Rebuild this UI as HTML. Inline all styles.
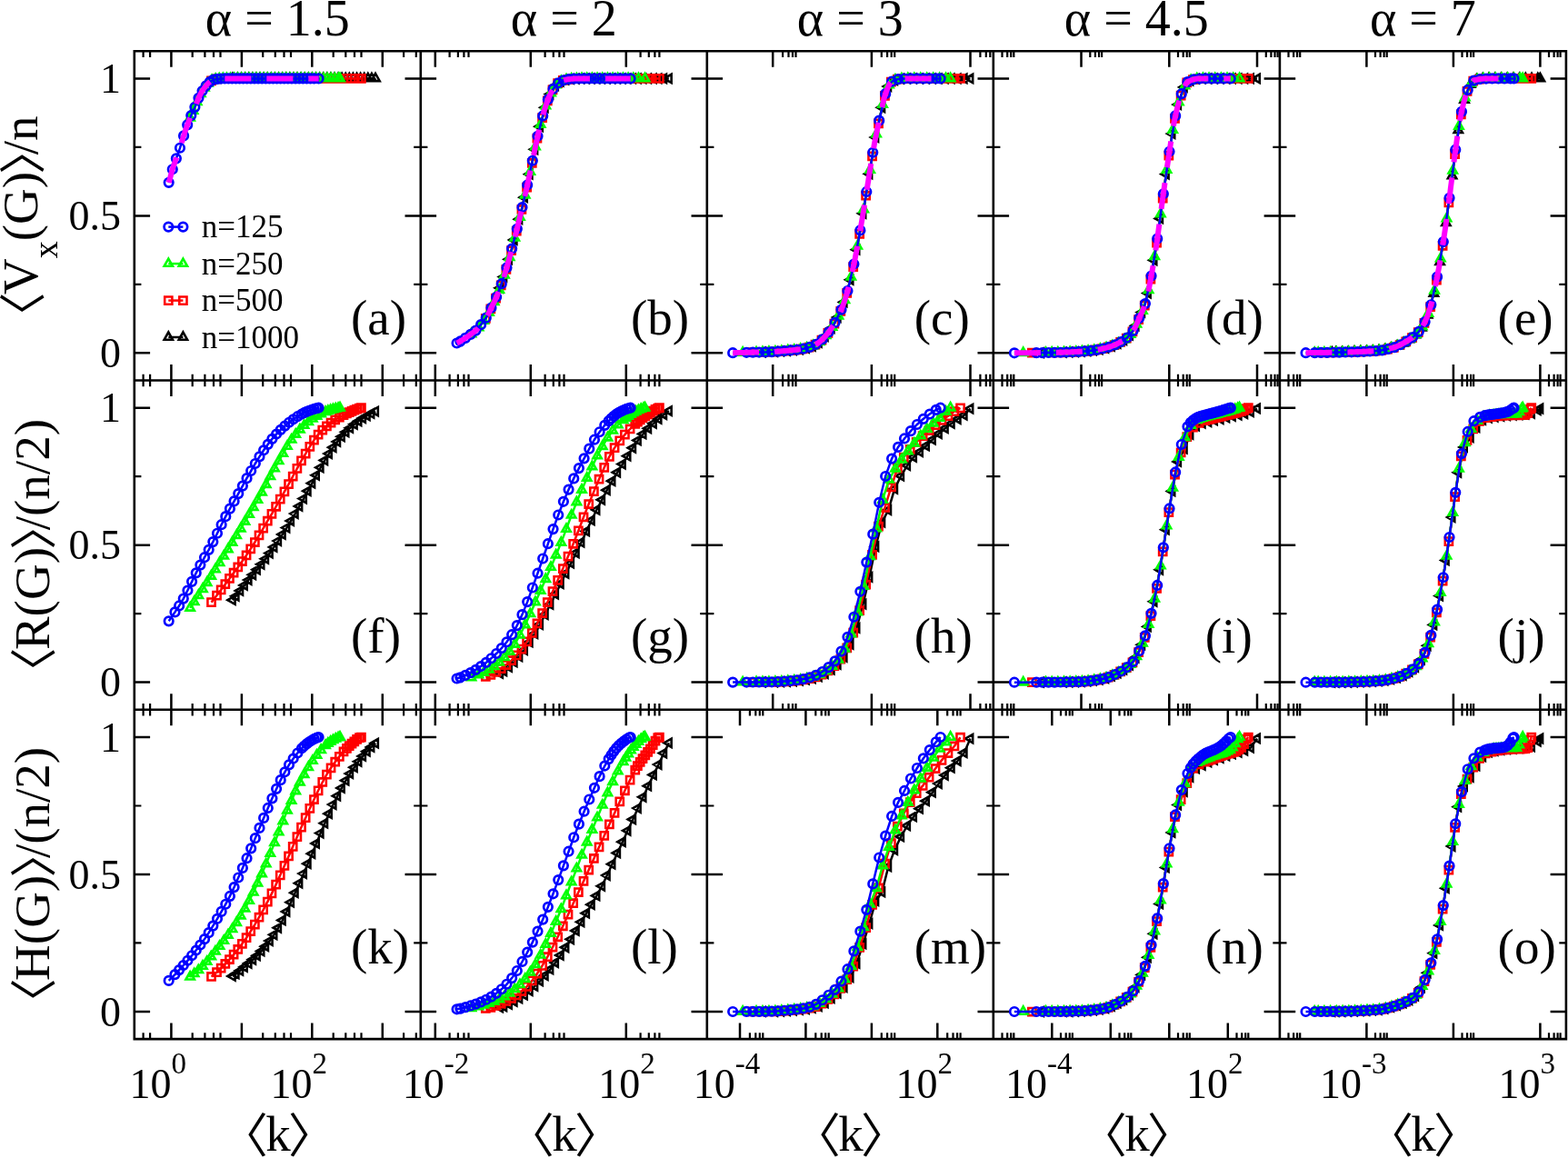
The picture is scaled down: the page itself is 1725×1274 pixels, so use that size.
<!DOCTYPE html><html><head><meta charset="utf-8"><style>html,body{margin:0;padding:0;background:#fff;overflow:hidden;}svg{display:block;}</style></head><body><svg width="1725" height="1274" viewBox="0 0 1725 1274">
<defs>
<clipPath id="cp0"><rect x="147.8" y="56.2" width="315.0" height="362.3"/></clipPath>
<clipPath id="cp1"><rect x="462.8" y="56.2" width="315.0" height="362.3"/></clipPath>
<clipPath id="cp2"><rect x="777.8" y="56.2" width="315.0" height="362.3"/></clipPath>
<clipPath id="cp3"><rect x="1092.8" y="56.2" width="315.1" height="362.3"/></clipPath>
<clipPath id="cp4"><rect x="1407.9" y="56.2" width="315.0" height="362.3"/></clipPath>
<clipPath id="cp5"><rect x="147.8" y="418.5" width="315.0" height="362.3"/></clipPath>
<clipPath id="cp6"><rect x="462.8" y="418.5" width="315.0" height="362.3"/></clipPath>
<clipPath id="cp7"><rect x="777.8" y="418.5" width="315.0" height="362.3"/></clipPath>
<clipPath id="cp8"><rect x="1092.8" y="418.5" width="315.1" height="362.3"/></clipPath>
<clipPath id="cp9"><rect x="1407.9" y="418.5" width="315.0" height="362.3"/></clipPath>
<clipPath id="cp10"><rect x="147.8" y="780.8" width="315.0" height="362.3"/></clipPath>
<clipPath id="cp11"><rect x="462.8" y="780.8" width="315.0" height="362.3"/></clipPath>
<clipPath id="cp12"><rect x="777.8" y="780.8" width="315.0" height="362.3"/></clipPath>
<clipPath id="cp13"><rect x="1092.8" y="780.8" width="315.1" height="362.3"/></clipPath>
<clipPath id="cp14"><rect x="1407.9" y="780.8" width="315.0" height="362.3"/></clipPath>
</defs>
<rect width="1725" height="1274" fill="#fff"/>
<g clip-path="url(#cp0)">
<path d="M255.9,86.4L261.3,86.4L265.4,86.4L269.5,86.4L273.6,86.4L277.7,86.4L281.8,86.4L285.9,86.4L290.0,86.4L294.1,86.4L298.2,86.4L302.3,86.4L306.4,86.4L310.5,86.4L314.6,86.4L318.7,86.4L322.8,86.4L326.9,86.4L331.0,86.4L335.1,86.4L339.2,86.4L343.3,86.4L347.4,86.4L351.5,86.4L355.6,86.4L359.7,86.4L363.8,86.4L367.9,86.4L372.0,86.4L376.1,86.4L380.2,86.4L384.3,86.4L388.4,86.4L392.5,86.4L396.6,86.4L400.7,86.4L404.8,86.4L408.9,86.4L413.0,86.4" fill="none" stroke="#000000" stroke-width="2.5"/>
<path fill="none" stroke="#000000" stroke-width="2.6" d="M255.88,80.90L251.23,89.10L260.53,89.10ZM261.32,80.90L256.67,89.10L265.97,89.10ZM265.42,80.90L260.77,89.10L270.07,89.10ZM269.52,80.90L264.87,89.10L274.17,89.10ZM273.62,80.90L268.97,89.10L278.27,89.10ZM277.72,80.90L273.07,89.10L282.37,89.10ZM281.82,80.90L277.17,89.10L286.47,89.10ZM285.92,80.90L281.27,89.10L290.57,89.10ZM290.02,80.90L285.37,89.10L294.67,89.10ZM294.12,80.90L289.47,89.10L298.77,89.10ZM298.22,80.90L293.57,89.10L302.87,89.10ZM302.32,80.90L297.67,89.10L306.97,89.10ZM306.42,80.90L301.77,89.10L311.07,89.10ZM310.52,80.90L305.87,89.10L315.17,89.10ZM314.62,80.90L309.97,89.10L319.27,89.10ZM318.72,80.90L314.07,89.10L323.37,89.10ZM322.82,80.90L318.17,89.10L327.47,89.10ZM326.92,80.90L322.27,89.10L331.57,89.10ZM331.02,80.90L326.37,89.10L335.67,89.10ZM335.12,80.90L330.47,89.10L339.77,89.10ZM339.22,80.90L334.57,89.10L343.87,89.10ZM343.32,80.90L338.67,89.10L347.97,89.10ZM347.42,80.90L342.77,89.10L352.07,89.10ZM351.52,80.90L346.87,89.10L356.17,89.10ZM355.62,80.90L350.97,89.10L360.27,89.10ZM359.72,80.90L355.07,89.10L364.37,89.10ZM363.82,80.90L359.17,89.10L368.47,89.10ZM367.92,80.90L363.27,89.10L372.57,89.10ZM372.02,80.90L367.37,89.10L376.67,89.10ZM376.12,80.90L371.47,89.10L380.77,89.10ZM380.22,80.90L375.57,89.10L384.87,89.10ZM384.32,80.90L379.67,89.10L388.97,89.10ZM388.42,80.90L383.77,89.10L393.07,89.10ZM392.52,80.90L387.87,89.10L397.17,89.10ZM396.62,80.90L391.97,89.10L401.27,89.10ZM400.72,80.90L396.07,89.10L405.37,89.10ZM404.82,80.90L400.17,89.10L409.47,89.10ZM408.92,80.90L404.27,89.10L413.57,89.10ZM413.02,80.90L408.37,89.10L417.67,89.10Z"/>
<path d="M232.5,88.8L238.6,86.9L242.7,86.6L246.8,86.4L250.9,86.4L255.0,86.4L259.1,86.4L263.2,86.4L267.3,86.4L271.4,86.4L275.5,86.4L279.6,86.4L283.7,86.4L287.8,86.4L291.9,86.4L296.0,86.4L300.1,86.4L304.2,86.4L308.3,86.4L312.4,86.4L316.5,86.4L320.6,86.4L324.7,86.4L328.8,86.4L332.9,86.4L337.0,86.4L341.1,86.4L345.2,86.4L349.3,86.4L353.4,86.4L357.5,86.4L361.6,86.4L365.7,86.4L369.8,86.4L373.9,86.4L378.0,86.4L382.1,86.4L386.2,86.4L390.3,86.4L394.4,86.4L397.4,86.4" fill="none" stroke="#ff0000" stroke-width="2.5"/>
<path fill="none" stroke="#ff0000" stroke-width="2.55" d="M228.42,84.69h8.2v8.2h-8.2ZM234.47,82.81h8.2v8.2h-8.2ZM238.57,82.47h8.2v8.2h-8.2ZM242.67,82.34h8.2v8.2h-8.2ZM246.77,82.30h8.2v8.2h-8.2ZM250.87,82.30h8.2v8.2h-8.2ZM254.97,82.30h8.2v8.2h-8.2ZM259.07,82.30h8.2v8.2h-8.2ZM263.17,82.30h8.2v8.2h-8.2ZM267.27,82.30h8.2v8.2h-8.2ZM271.37,82.30h8.2v8.2h-8.2ZM275.47,82.30h8.2v8.2h-8.2ZM279.57,82.30h8.2v8.2h-8.2ZM283.67,82.30h8.2v8.2h-8.2ZM287.77,82.30h8.2v8.2h-8.2ZM291.87,82.30h8.2v8.2h-8.2ZM295.97,82.30h8.2v8.2h-8.2ZM300.07,82.30h8.2v8.2h-8.2ZM304.17,82.30h8.2v8.2h-8.2ZM308.27,82.30h8.2v8.2h-8.2ZM312.37,82.30h8.2v8.2h-8.2ZM316.47,82.30h8.2v8.2h-8.2ZM320.57,82.30h8.2v8.2h-8.2ZM324.67,82.30h8.2v8.2h-8.2ZM328.77,82.30h8.2v8.2h-8.2ZM332.87,82.30h8.2v8.2h-8.2ZM336.97,82.30h8.2v8.2h-8.2ZM341.07,82.30h8.2v8.2h-8.2ZM345.17,82.30h8.2v8.2h-8.2ZM349.27,82.30h8.2v8.2h-8.2ZM353.37,82.30h8.2v8.2h-8.2ZM357.47,82.30h8.2v8.2h-8.2ZM361.57,82.30h8.2v8.2h-8.2ZM365.67,82.30h8.2v8.2h-8.2ZM369.77,82.30h8.2v8.2h-8.2ZM373.87,82.30h8.2v8.2h-8.2ZM377.97,82.30h8.2v8.2h-8.2ZM382.07,82.30h8.2v8.2h-8.2ZM386.17,82.30h8.2v8.2h-8.2ZM390.27,82.30h8.2v8.2h-8.2ZM393.32,82.30h8.2v8.2h-8.2Z"/>
<path d="M209.1,129.8L212.5,122.0L216.6,112.3L220.7,103.1L224.8,96.8L228.9,91.8L233.0,88.4L237.1,87.1L241.2,86.6L245.3,86.5L249.4,86.4L253.5,86.4L257.6,86.4L261.7,86.4L265.8,86.4L269.9,86.4L274.0,86.4L278.1,86.4L282.2,86.4L286.3,86.4L290.4,86.4L294.5,86.4L298.6,86.4L302.7,86.4L306.8,86.4L310.9,86.4L315.0,86.4L319.1,86.4L323.2,86.4L327.3,86.4L331.4,86.4L335.5,86.4L339.6,86.4L343.7,86.4L347.8,86.4L351.9,86.4L356.0,86.4L360.1,86.4L364.2,86.4L368.3,86.4L372.4,86.4L374.0,86.4" fill="none" stroke="#00ff00" stroke-width="2.5"/>
<path fill="none" stroke="#00ff00" stroke-width="2.6" d="M209.13,124.31L204.48,132.51L213.78,132.51ZM212.53,116.47L207.88,124.67L217.18,124.67ZM216.63,106.85L211.98,115.05L221.28,115.05ZM220.73,97.64L216.08,105.84L225.38,105.84ZM224.83,91.27L220.18,99.47L229.48,99.47ZM228.93,86.30L224.28,94.50L233.58,94.50ZM233.03,82.95L228.38,91.15L237.68,91.15ZM237.13,81.63L232.48,89.83L241.78,89.83ZM241.23,81.14L236.58,89.34L245.88,89.34ZM245.33,80.98L240.68,89.18L249.98,89.18ZM249.43,80.90L244.78,89.10L254.08,89.10ZM253.53,80.90L248.88,89.10L258.18,89.10ZM257.63,80.90L252.98,89.10L262.28,89.10ZM261.73,80.90L257.08,89.10L266.38,89.10ZM265.83,80.90L261.18,89.10L270.48,89.10ZM269.93,80.90L265.28,89.10L274.58,89.10ZM274.03,80.90L269.38,89.10L278.68,89.10ZM278.13,80.90L273.48,89.10L282.78,89.10ZM282.23,80.90L277.58,89.10L286.88,89.10ZM286.33,80.90L281.68,89.10L290.98,89.10ZM290.43,80.90L285.78,89.10L295.08,89.10ZM294.53,80.90L289.88,89.10L299.18,89.10ZM298.63,80.90L293.98,89.10L303.28,89.10ZM302.73,80.90L298.08,89.10L307.38,89.10ZM306.83,80.90L302.18,89.10L311.48,89.10ZM310.93,80.90L306.28,89.10L315.58,89.10ZM315.03,80.90L310.38,89.10L319.68,89.10ZM319.13,80.90L314.48,89.10L323.78,89.10ZM323.23,80.90L318.58,89.10L327.88,89.10ZM327.33,80.90L322.68,89.10L331.98,89.10ZM331.43,80.90L326.78,89.10L336.08,89.10ZM335.53,80.90L330.88,89.10L340.18,89.10ZM339.63,80.90L334.98,89.10L344.28,89.10ZM343.73,80.90L339.08,89.10L348.38,89.10ZM347.83,80.90L343.18,89.10L352.48,89.10ZM351.93,80.90L347.28,89.10L356.58,89.10ZM356.03,80.90L351.38,89.10L360.68,89.10ZM360.13,80.90L355.48,89.10L364.78,89.10ZM364.23,80.90L359.58,89.10L368.88,89.10ZM368.33,80.90L363.68,89.10L372.98,89.10ZM372.43,80.90L367.78,89.10L377.08,89.10ZM374.03,80.90L369.38,89.10L378.68,89.10Z"/>
<path d="M185.7,200.9L189.8,186.3L193.9,174.4L198.0,162.8L202.1,149.4L206.2,137.3L210.3,127.1L214.4,117.9L218.5,107.8L222.6,100.0L226.7,94.4L230.8,90.2L234.9,87.6L239.0,86.9L243.1,86.6L247.2,86.4L251.3,86.4L255.4,86.4L259.5,86.4L263.6,86.4L267.7,86.4L271.8,86.4L275.9,86.4L280.0,86.4L284.1,86.4L288.2,86.4L292.3,86.4L296.4,86.4L300.5,86.4L304.6,86.4L308.7,86.4L312.8,86.4L316.9,86.4L321.0,86.4L325.1,86.4L329.2,86.4L333.3,86.4L337.4,86.4L341.5,86.4L345.6,86.4L350.6,86.4" fill="none" stroke="#0000ff" stroke-width="2.5"/>
<g fill="none" stroke="#0000ff" stroke-width="2.7">
<circle cx="185.68" cy="200.86" r="4.75"/>
<circle cx="189.78" cy="186.26" r="4.75"/>
<circle cx="193.88" cy="174.36" r="4.75"/>
<circle cx="197.98" cy="162.76" r="4.75"/>
<circle cx="202.08" cy="149.41" r="4.75"/>
<circle cx="206.18" cy="137.34" r="4.75"/>
<circle cx="210.28" cy="127.09" r="4.75"/>
<circle cx="214.38" cy="117.87" r="4.75"/>
<circle cx="218.48" cy="107.82" r="4.75"/>
<circle cx="222.58" cy="99.98" r="4.75"/>
<circle cx="226.68" cy="94.40" r="4.75"/>
<circle cx="230.78" cy="90.16" r="4.75"/>
<circle cx="234.88" cy="87.60" r="4.75"/>
<circle cx="238.98" cy="86.85" r="4.75"/>
<circle cx="243.08" cy="86.56" r="4.75"/>
<circle cx="247.18" cy="86.43" r="4.75"/>
<circle cx="251.28" cy="86.40" r="4.75"/>
<circle cx="255.38" cy="86.40" r="4.75"/>
<circle cx="259.48" cy="86.40" r="4.75"/>
<circle cx="263.58" cy="86.40" r="4.75"/>
<circle cx="267.68" cy="86.40" r="4.75"/>
<circle cx="271.78" cy="86.40" r="4.75"/>
<circle cx="275.88" cy="86.40" r="4.75"/>
<circle cx="279.98" cy="86.40" r="4.75"/>
<circle cx="284.08" cy="86.40" r="4.75"/>
<circle cx="288.18" cy="86.40" r="4.75"/>
<circle cx="292.28" cy="86.40" r="4.75"/>
<circle cx="296.38" cy="86.40" r="4.75"/>
<circle cx="300.48" cy="86.40" r="4.75"/>
<circle cx="304.58" cy="86.40" r="4.75"/>
<circle cx="308.68" cy="86.40" r="4.75"/>
<circle cx="312.78" cy="86.40" r="4.75"/>
<circle cx="316.88" cy="86.40" r="4.75"/>
<circle cx="320.98" cy="86.40" r="4.75"/>
<circle cx="325.08" cy="86.40" r="4.75"/>
<circle cx="329.18" cy="86.40" r="4.75"/>
<circle cx="333.28" cy="86.40" r="4.75"/>
<circle cx="337.38" cy="86.40" r="4.75"/>
<circle cx="341.48" cy="86.40" r="4.75"/>
<circle cx="345.58" cy="86.40" r="4.75"/>
<circle cx="350.58" cy="86.40" r="4.75"/>
</g>
<path d="M185.7,200.9L186.2,199.1L186.8,197.2L187.3,195.2L187.9,193.1L188.4,191.0L189.0,189.0L189.5,187.1L190.1,185.3L190.6,183.6L191.2,181.9L191.7,180.3L192.3,178.8L192.8,177.2L193.4,175.7L194.0,174.2L194.5,172.6L195.1,171.0L195.6,169.5L196.2,168.0L196.7,166.4L197.3,164.9L197.8,163.3L198.4,161.6L198.9,159.9L199.5,158.1L200.0,156.2L200.6,154.4L201.1,152.5L201.7,150.7L202.2,149.0L202.8,147.3L203.3,145.6L203.9,143.9L204.4,142.3L205.0,140.7L205.5,139.1L206.1,137.6L206.6,136.1L207.2,134.6L207.7,133.2L208.3,131.9L208.8,130.5L209.4,129.2L209.9,127.9L210.5,126.6L211.0,125.3L211.6,124.0L212.2,122.8L212.7,121.6L213.3,120.4L213.8,119.2L214.4,117.9L214.9,116.6L215.5,115.3L216.0,113.9L216.6,112.5L217.1,111.1L217.7,109.7L218.2,108.4L218.8,107.2L219.3,106.0L219.9,104.8L220.4,103.7L221.0,102.7L221.5,101.7L222.1,100.8L222.6,99.9L223.2,99.1L223.7,98.3L224.3,97.5L224.8,96.8L225.4,96.0L225.9,95.3L226.5,94.6L227.0,94.0L227.6,93.3L228.1,92.6L228.7,92.0L229.2,91.5L229.8,91.0L230.4,90.5L230.9,90.1L231.5,89.6L232.0,89.2L232.6,88.8L233.1,88.4L233.7,88.1L234.2,87.8L234.8,87.6L235.3,87.5L235.9,87.4L236.4,87.3L237.0,87.2L237.5,87.1L238.1,87.0L238.6,86.9L239.2,86.8L239.7,86.8L240.3,86.7L240.8,86.7L241.4,86.6L241.9,86.6L242.5,86.6L243.0,86.6L243.6,86.5L244.1,86.5L244.7,86.5L245.2,86.5L245.8,86.5L246.3,86.4L246.9,86.4L247.4,86.4L248.0,86.4L248.6,86.4L249.1,86.4L249.7,86.4L250.2,86.4L250.8,86.4L251.3,86.4L251.9,86.4L252.4,86.4L253.0,86.4L253.5,86.4L254.1,86.4L254.6,86.4L255.2,86.4L255.7,86.4L256.3,86.4L256.8,86.4L257.4,86.4L257.9,86.4L258.5,86.4L259.0,86.4L259.6,86.4L260.1,86.4L260.7,86.4L261.2,86.4L261.8,86.4L262.3,86.4L262.9,86.4L263.4,86.4L264.0,86.4L264.5,86.4L265.1,86.4L265.6,86.4L266.2,86.4L266.8,86.4L267.3,86.4L267.9,86.4L268.4,86.4L269.0,86.4L269.5,86.4L270.1,86.4L270.6,86.4L271.2,86.4L271.7,86.4L272.3,86.4L272.8,86.4L273.4,86.4L273.9,86.4L274.5,86.4L275.0,86.4L275.6,86.4L276.1,86.4L276.7,86.4L277.2,86.4L277.8,86.4L278.3,86.4L278.9,86.4L279.4,86.4L280.0,86.4L280.5,86.4L281.1,86.4L281.6,86.4L282.2,86.4L282.7,86.4L283.3,86.4L283.8,86.4L284.4,86.4L285.0,86.4L285.5,86.4L286.1,86.4L286.6,86.4L287.2,86.4L287.7,86.4L288.3,86.4L288.8,86.4L289.4,86.4L289.9,86.4L290.5,86.4L291.0,86.4L291.6,86.4L292.1,86.4L292.7,86.4L293.2,86.4L293.8,86.4L294.3,86.4L294.9,86.4L295.4,86.4L296.0,86.4L296.5,86.4L297.1,86.4L297.6,86.4L298.2,86.4L298.7,86.4L299.3,86.4L299.8,86.4L300.4,86.4L300.9,86.4L301.5,86.4L302.0,86.4L302.6,86.4L303.2,86.4L303.7,86.4L304.3,86.4L304.8,86.4L305.4,86.4L305.9,86.4L306.5,86.4L307.0,86.4L307.6,86.4L308.1,86.4L308.7,86.4L309.2,86.4L309.8,86.4L310.3,86.4L310.9,86.4L311.4,86.4L312.0,86.4L312.5,86.4L313.1,86.4L313.6,86.4L314.2,86.4L314.7,86.4L315.3,86.4L315.8,86.4L316.4,86.4L316.9,86.4L317.5,86.4L318.0,86.4L318.6,86.4L319.1,86.4L319.7,86.4L320.2,86.4L320.8,86.4L321.4,86.4L321.9,86.4L322.5,86.4L323.0,86.4L323.6,86.4L324.1,86.4L324.7,86.4L325.2,86.4L325.8,86.4L326.3,86.4L326.9,86.4L327.4,86.4L328.0,86.4L328.5,86.4L329.1,86.4L329.6,86.4L330.2,86.4L330.7,86.4L331.3,86.4L331.8,86.4L332.4,86.4L332.9,86.4L333.5,86.4L334.0,86.4L334.6,86.4L335.1,86.4L335.7,86.4L336.2,86.4L336.8,86.4L337.3,86.4L337.9,86.4L338.4,86.4L339.0,86.4L339.5,86.4L340.1,86.4L340.7,86.4L341.2,86.4L341.8,86.4L342.3,86.4L342.9,86.4L343.4,86.4L344.0,86.4L344.5,86.4L345.1,86.4L345.6,86.4L346.2,86.4L346.7,86.4L347.3,86.4L347.8,86.4L348.4,86.4L348.9,86.4L349.5,86.4L350.0,86.4L350.6,86.4" fill="none" stroke="#ff00ff" stroke-width="6" stroke-dasharray="29 17"/>
</g>
<g clip-path="url(#cp1)">
<path d="M550.1,316.8L554.3,304.6L560.0,285.3L565.7,264.0L571.4,241.2L577.0,217.2L582.7,191.7L588.4,164.3L594.1,139.2L599.7,118.4L605.4,103.6L611.1,94.1L616.8,89.6L622.4,87.7L628.1,86.9L633.8,86.6L639.5,86.4L645.1,86.4L650.8,86.4L656.5,86.4L662.2,86.4L667.8,86.4L673.5,86.4L679.2,86.4L684.9,86.4L690.5,86.4L696.2,86.4L701.9,86.4L707.6,86.4L713.2,86.4L718.9,86.4L724.6,86.4L730.3,86.4L735.9,86.4" fill="none" stroke="#000000" stroke-width="2.5"/>
<path fill="none" stroke="#000000" stroke-width="2.6" d="M544.62,316.77L552.82,312.12L552.82,321.42ZM548.84,304.60L557.04,299.95L557.04,309.25ZM554.52,285.27L562.72,280.62L562.72,289.92ZM560.19,263.97L568.39,259.32L568.39,268.62ZM565.87,241.24L574.07,236.59L574.07,245.89ZM571.54,217.18L579.74,212.53L579.74,221.83ZM577.22,191.69L585.42,187.04L585.42,196.34ZM582.89,164.30L591.09,159.65L591.09,168.95ZM588.57,139.25L596.77,134.60L596.77,143.90ZM594.24,118.37L602.44,113.72L602.44,123.02ZM599.92,103.60L608.12,98.95L608.12,108.25ZM605.59,94.07L613.79,89.42L613.79,98.72ZM611.27,89.64L619.47,84.99L619.47,94.29ZM616.94,87.71L625.14,83.06L625.14,92.36ZM622.62,86.86L630.82,82.21L630.82,91.51ZM628.29,86.55L636.49,81.90L636.49,91.20ZM633.97,86.44L642.17,81.79L642.17,91.09ZM639.64,86.40L647.84,81.75L647.84,91.05ZM645.32,86.40L653.52,81.75L653.52,91.05ZM650.99,86.40L659.19,81.75L659.19,91.05ZM656.67,86.40L664.87,81.75L664.87,91.05ZM662.34,86.40L670.54,81.75L670.54,91.05ZM668.02,86.40L676.22,81.75L676.22,91.05ZM673.69,86.40L681.89,81.75L681.89,91.05ZM679.37,86.40L687.57,81.75L687.57,91.05ZM685.04,86.40L693.24,81.75L693.24,91.05ZM690.72,86.40L698.92,81.75L698.92,91.05ZM696.39,86.40L704.59,81.75L704.59,91.05ZM702.07,86.40L710.27,81.75L710.27,91.05ZM707.74,86.40L715.94,81.75L715.94,91.05ZM713.42,86.40L721.62,81.75L721.62,91.05ZM719.09,86.40L727.29,81.75L727.29,91.05ZM724.77,86.40L732.97,81.75L732.97,91.05ZM730.44,86.40L738.64,81.75L738.64,91.05Z"/>
<path d="M534.3,350.3L539.9,339.9L545.5,328.0L551.2,313.8L556.9,296.3L562.6,275.7L568.2,254.0L573.9,230.5L579.6,206.0L585.3,179.5L591.0,152.2L596.6,129.6L602.3,110.9L608.0,98.9L613.6,91.7L619.3,88.5L625.0,87.3L630.7,86.7L636.4,86.5L642.0,86.4L647.7,86.4L653.4,86.4L659.0,86.4L664.7,86.4L670.4,86.4L676.1,86.4L681.8,86.4L687.4,86.4L693.1,86.4L698.8,86.4L704.5,86.4L710.1,86.4L715.8,86.4L721.5,86.4L725.4,86.4" fill="none" stroke="#ff0000" stroke-width="2.5"/>
<path fill="none" stroke="#ff0000" stroke-width="2.55" d="M530.20,346.22h8.2v8.2h-8.2ZM535.77,335.80h8.2v8.2h-8.2ZM541.45,323.93h8.2v8.2h-8.2ZM547.12,309.68h8.2v8.2h-8.2ZM552.80,292.23h8.2v8.2h-8.2ZM558.47,271.64h8.2v8.2h-8.2ZM564.15,249.90h8.2v8.2h-8.2ZM569.82,226.36h8.2v8.2h-8.2ZM575.50,201.93h8.2v8.2h-8.2ZM581.17,175.39h8.2v8.2h-8.2ZM586.85,148.12h8.2v8.2h-8.2ZM592.52,125.46h8.2v8.2h-8.2ZM598.20,106.78h8.2v8.2h-8.2ZM603.87,94.78h8.2v8.2h-8.2ZM609.55,87.58h8.2v8.2h-8.2ZM615.22,84.38h8.2v8.2h-8.2ZM620.90,83.16h8.2v8.2h-8.2ZM626.57,82.56h8.2v8.2h-8.2ZM632.25,82.39h8.2v8.2h-8.2ZM637.92,82.31h8.2v8.2h-8.2ZM643.60,82.30h8.2v8.2h-8.2ZM649.27,82.30h8.2v8.2h-8.2ZM654.95,82.30h8.2v8.2h-8.2ZM660.62,82.30h8.2v8.2h-8.2ZM666.30,82.30h8.2v8.2h-8.2ZM671.97,82.30h8.2v8.2h-8.2ZM677.65,82.30h8.2v8.2h-8.2ZM683.32,82.30h8.2v8.2h-8.2ZM689.00,82.30h8.2v8.2h-8.2ZM694.67,82.30h8.2v8.2h-8.2ZM700.35,82.30h8.2v8.2h-8.2ZM706.02,82.30h8.2v8.2h-8.2ZM711.70,82.30h8.2v8.2h-8.2ZM717.37,82.30h8.2v8.2h-8.2ZM721.30,82.30h8.2v8.2h-8.2Z"/>
<path d="M518.5,367.4L526.5,360.4L532.2,353.1L537.9,344.1L543.6,332.3L549.2,319.1L554.9,302.8L560.6,283.2L566.3,261.8L571.9,238.9L577.6,214.7L583.3,189.0L589.0,161.5L594.6,137.1L600.3,116.5L606.0,102.5L611.7,93.4L617.3,89.3L623.0,87.6L628.7,86.8L634.4,86.5L640.0,86.4L645.7,86.4L651.4,86.4L657.1,86.4L662.7,86.4L668.4,86.4L674.1,86.4L679.8,86.4L685.4,86.4L691.1,86.4L696.8,86.4L702.5,86.4L709.5,86.4" fill="none" stroke="#00ff00" stroke-width="2.5"/>
<path fill="none" stroke="#00ff00" stroke-width="2.6" d="M518.45,361.90L513.80,370.10L523.10,370.10ZM526.53,354.92L521.88,363.12L531.18,363.12ZM532.21,347.62L527.56,355.82L536.86,355.82ZM537.88,338.56L533.23,346.76L542.53,346.76ZM543.56,326.84L538.91,335.04L548.21,335.04ZM549.23,313.60L544.58,321.80L553.88,321.80ZM554.91,297.31L550.26,305.51L559.56,305.51ZM560.58,277.69L555.93,285.89L565.23,285.89ZM566.26,256.28L561.61,264.48L570.91,264.48ZM571.93,233.39L567.28,241.59L576.58,241.59ZM577.61,209.23L572.96,217.43L582.26,217.43ZM583.28,183.52L578.63,191.72L587.93,191.72ZM588.96,156.00L584.31,164.20L593.61,164.20ZM594.63,131.56L589.98,139.76L599.28,139.76ZM600.31,111.02L595.66,119.22L604.96,119.22ZM605.98,96.98L601.33,105.18L610.63,105.18ZM611.66,87.90L607.01,96.10L616.31,96.10ZM617.33,83.84L612.68,92.04L621.98,92.04ZM623.01,82.10L618.36,90.30L627.66,90.30ZM628.68,81.30L624.03,89.50L633.33,89.50ZM634.36,81.04L629.71,89.24L639.01,89.24ZM640.03,80.93L635.38,89.13L644.68,89.13ZM645.71,80.90L641.06,89.10L650.36,89.10ZM651.38,80.90L646.73,89.10L656.03,89.10ZM657.06,80.90L652.41,89.10L661.71,89.10ZM662.73,80.90L658.08,89.10L667.38,89.10ZM668.41,80.90L663.76,89.10L673.06,89.10ZM674.08,80.90L669.43,89.10L678.73,89.10ZM679.76,80.90L675.11,89.10L684.41,89.10ZM685.43,80.90L680.78,89.10L690.08,89.10ZM691.11,80.90L686.46,89.10L695.76,89.10ZM696.78,80.90L692.13,89.10L701.43,89.10ZM702.46,80.90L697.81,89.10L707.11,89.10ZM709.55,80.90L704.90,89.10L714.20,89.10Z"/>
<path d="M502.6,377.5L506.4,375.5L512.1,371.8L517.7,367.9L523.4,363.6L529.1,357.2L534.8,349.6L540.4,338.7L546.1,326.7L551.8,312.2L557.5,294.4L563.1,273.6L568.8,251.8L574.5,228.0L580.2,203.5L585.8,176.8L591.5,149.8L597.2,127.5L602.9,109.5L608.5,97.9L614.2,91.3L619.9,88.3L625.6,87.2L631.2,86.6L636.9,86.5L642.6,86.4L648.3,86.4L653.9,86.4L659.6,86.4L665.3,86.4L671.0,86.4L676.6,86.4L682.3,86.4L688.0,86.4L693.7,86.4" fill="none" stroke="#0000ff" stroke-width="2.5"/>
<g fill="none" stroke="#0000ff" stroke-width="2.7">
<circle cx="502.56" cy="377.52" r="4.75"/>
<circle cx="506.39" cy="375.47" r="4.75"/>
<circle cx="512.06" cy="371.83" r="4.75"/>
<circle cx="517.74" cy="367.92" r="4.75"/>
<circle cx="523.41" cy="363.57" r="4.75"/>
<circle cx="529.09" cy="357.15" r="4.75"/>
<circle cx="534.76" cy="349.65" r="4.75"/>
<circle cx="540.44" cy="338.72" r="4.75"/>
<circle cx="546.11" cy="326.75" r="4.75"/>
<circle cx="551.79" cy="312.19" r="4.75"/>
<circle cx="557.46" cy="294.44" r="4.75"/>
<circle cx="563.14" cy="273.61" r="4.75"/>
<circle cx="568.81" cy="251.76" r="4.75"/>
<circle cx="574.49" cy="228.04" r="4.75"/>
<circle cx="580.16" cy="203.53" r="4.75"/>
<circle cx="585.84" cy="176.76" r="4.75"/>
<circle cx="591.51" cy="149.79" r="4.75"/>
<circle cx="597.19" cy="127.46" r="4.75"/>
<circle cx="602.86" cy="109.45" r="4.75"/>
<circle cx="608.54" cy="97.91" r="4.75"/>
<circle cx="614.21" cy="91.27" r="4.75"/>
<circle cx="619.89" cy="88.29" r="4.75"/>
<circle cx="625.56" cy="87.18" r="4.75"/>
<circle cx="631.24" cy="86.63" r="4.75"/>
<circle cx="636.91" cy="86.48" r="4.75"/>
<circle cx="642.59" cy="86.41" r="4.75"/>
<circle cx="648.26" cy="86.40" r="4.75"/>
<circle cx="653.94" cy="86.40" r="4.75"/>
<circle cx="659.61" cy="86.40" r="4.75"/>
<circle cx="665.29" cy="86.40" r="4.75"/>
<circle cx="670.96" cy="86.40" r="4.75"/>
<circle cx="676.64" cy="86.40" r="4.75"/>
<circle cx="682.31" cy="86.40" r="4.75"/>
<circle cx="687.99" cy="86.40" r="4.75"/>
<circle cx="693.66" cy="86.40" r="4.75"/>
</g>
<path d="M502.6,377.5L503.2,377.2L503.8,376.9L504.5,376.6L505.1,376.3L505.8,375.9L506.4,375.5L507.0,375.1L507.7,374.6L508.3,374.2L509.0,373.8L509.6,373.4L510.2,373.0L510.9,372.6L511.5,372.2L512.1,371.8L512.8,371.4L513.4,370.9L514.1,370.5L514.7,370.1L515.3,369.6L516.0,369.2L516.6,368.7L517.3,368.3L517.9,367.8L518.5,367.3L519.2,366.9L519.8,366.4L520.5,365.9L521.1,365.4L521.7,365.0L522.4,364.4L523.0,363.9L523.7,363.4L524.3,362.8L524.9,362.2L525.6,361.5L526.2,360.8L526.8,360.0L527.5,359.2L528.1,358.4L528.8,357.6L529.4,356.7L530.0,355.9L530.7,355.1L531.3,354.2L532.0,353.4L532.6,352.6L533.2,351.8L533.9,350.9L534.5,350.0L535.2,349.0L535.8,348.0L536.4,346.9L537.1,345.7L537.7,344.4L538.4,343.1L539.0,341.8L539.6,340.4L540.3,339.1L540.9,337.8L541.5,336.5L542.2,335.2L542.8,333.9L543.5,332.5L544.1,331.2L544.7,329.8L545.4,328.4L546.0,327.0L546.7,325.5L547.3,323.9L547.9,322.4L548.6,320.8L549.2,319.1L549.9,317.5L550.5,315.8L551.1,314.0L551.8,312.2L552.4,310.4L553.1,308.5L553.7,306.6L554.3,304.6L555.0,302.6L555.6,300.6L556.2,298.5L556.9,296.4L557.5,294.2L558.2,292.0L558.8,289.7L559.4,287.4L560.1,285.0L560.7,282.7L561.4,280.3L562.0,277.9L562.6,275.5L563.3,273.1L563.9,270.7L564.6,268.3L565.2,265.9L565.8,263.4L566.5,261.0L567.1,258.5L567.8,256.0L568.4,253.4L569.0,250.9L569.7,248.3L570.3,245.7L570.9,243.0L571.6,240.3L572.2,237.6L572.9,234.9L573.5,232.2L574.1,229.5L574.8,226.8L575.4,224.1L576.1,221.4L576.7,218.6L577.3,215.9L578.0,213.1L578.6,210.4L579.3,207.6L579.9,204.7L580.5,201.8L581.2,198.9L581.8,196.0L582.5,193.0L583.1,189.9L583.7,186.9L584.4,183.8L585.0,180.7L585.6,177.7L586.3,174.6L586.9,171.5L587.6,168.4L588.2,165.2L588.8,162.1L589.5,159.0L590.1,156.0L590.8,153.1L591.4,150.3L592.0,147.5L592.7,144.9L593.3,142.3L594.0,139.7L594.6,137.2L595.2,134.7L595.9,132.3L596.5,130.0L597.2,127.6L597.8,125.3L598.4,122.9L599.1,120.7L599.7,118.5L600.3,116.4L601.0,114.5L601.6,112.7L602.3,111.0L602.9,109.3L603.5,107.8L604.2,106.3L604.8,104.9L605.5,103.5L606.1,102.2L606.7,101.0L607.4,99.9L608.0,98.8L608.7,97.7L609.3,96.7L609.9,95.7L610.6,94.8L611.2,93.9L611.9,93.2L612.5,92.6L613.1,92.1L613.8,91.6L614.4,91.1L615.0,90.7L615.7,90.3L616.3,89.9L617.0,89.5L617.6,89.2L618.2,88.9L618.9,88.6L619.5,88.4L620.2,88.2L620.8,88.0L621.4,87.9L622.1,87.8L622.7,87.7L623.4,87.5L624.0,87.4L624.6,87.3L625.3,87.2L625.9,87.1L626.6,87.0L627.2,87.0L627.8,86.9L628.5,86.8L629.1,86.8L629.7,86.7L630.4,86.7L631.0,86.6L631.7,86.6L632.3,86.6L632.9,86.6L633.6,86.6L634.2,86.5L634.9,86.5L635.5,86.5L636.1,86.5L636.8,86.5L637.4,86.5L638.1,86.5L638.7,86.5L639.3,86.4L640.0,86.4L640.6,86.4L641.3,86.4L641.9,86.4L642.5,86.4L643.2,86.4L643.8,86.4L644.4,86.4L645.1,86.4L645.7,86.4L646.4,86.4L647.0,86.4L647.6,86.4L648.3,86.4L648.9,86.4L649.6,86.4L650.2,86.4L650.8,86.4L651.5,86.4L652.1,86.4L652.8,86.4L653.4,86.4L654.0,86.4L654.7,86.4L655.3,86.4L656.0,86.4L656.6,86.4L657.2,86.4L657.9,86.4L658.5,86.4L659.1,86.4L659.8,86.4L660.4,86.4L661.1,86.4L661.7,86.4L662.3,86.4L663.0,86.4L663.6,86.4L664.3,86.4L664.9,86.4L665.5,86.4L666.2,86.4L666.8,86.4L667.5,86.4L668.1,86.4L668.7,86.4L669.4,86.4L670.0,86.4L670.7,86.4L671.3,86.4L671.9,86.4L672.6,86.4L673.2,86.4L673.8,86.4L674.5,86.4L675.1,86.4L675.8,86.4L676.4,86.4L677.0,86.4L677.7,86.4L678.3,86.4L679.0,86.4L679.6,86.4L680.2,86.4L680.9,86.4L681.5,86.4L682.2,86.4L682.8,86.4L683.4,86.4L684.1,86.4L684.7,86.4L685.4,86.4L686.0,86.4L686.6,86.4L687.3,86.4L687.9,86.4L688.5,86.4L689.2,86.4L689.8,86.4L690.5,86.4L691.1,86.4L691.7,86.4L692.4,86.4L693.0,86.4L693.7,86.4" fill="none" stroke="#ff00ff" stroke-width="6" stroke-dasharray="29 17"/>
</g>
<g clip-path="url(#cp2)">
<path d="M839.0,387.4L852.2,386.9L859.1,386.4L866.1,385.8L873.0,385.2L880.0,384.3L886.9,383.0L893.9,380.8L900.8,376.8L907.8,370.1L914.7,361.0L921.7,349.1L928.6,332.5L935.6,307.8L942.5,274.6L949.5,234.8L956.4,191.3L963.4,151.0L970.3,118.3L977.3,95.0L984.2,88.2L991.2,86.6L998.1,86.4L1005.1,86.4L1012.0,86.4L1019.0,86.4L1025.9,86.4L1032.9,86.4L1039.8,86.4L1046.8,86.4L1053.7,86.4L1060.7,86.4L1067.5,86.4" fill="none" stroke="#000000" stroke-width="2.5"/>
<path fill="none" stroke="#000000" stroke-width="2.6" d="M833.46,387.45L841.66,382.80L841.66,392.10ZM846.68,386.88L854.88,382.23L854.88,391.53ZM853.63,386.36L861.83,381.71L861.83,391.01ZM860.58,385.80L868.78,381.15L868.78,390.45ZM867.53,385.18L875.73,380.53L875.73,389.83ZM874.48,384.35L882.68,379.70L882.68,389.00ZM881.43,382.99L889.63,378.34L889.63,387.64ZM888.38,380.75L896.58,376.10L896.58,385.40ZM895.33,376.78L903.53,372.13L903.53,381.43ZM902.28,370.10L910.48,365.45L910.48,374.75ZM909.23,361.04L917.43,356.39L917.43,365.69ZM916.18,349.11L924.38,344.46L924.38,353.76ZM923.13,332.47L931.33,327.82L931.33,337.12ZM930.08,307.79L938.28,303.14L938.28,312.44ZM937.03,274.63L945.23,269.98L945.23,279.28ZM943.98,234.80L952.18,230.15L952.18,239.45ZM950.93,191.34L959.13,186.69L959.13,195.99ZM957.88,151.02L966.08,146.37L966.08,155.67ZM964.83,118.32L973.03,113.67L973.03,122.97ZM971.78,95.02L979.98,90.37L979.98,99.67ZM978.73,88.24L986.93,83.59L986.93,92.89ZM985.68,86.63L993.88,81.98L993.88,91.28ZM992.63,86.41L1000.83,81.76L1000.83,91.06ZM999.58,86.40L1007.78,81.75L1007.78,91.05ZM1006.53,86.40L1014.73,81.75L1014.73,91.05ZM1013.48,86.40L1021.68,81.75L1021.68,91.05ZM1020.43,86.40L1028.63,81.75L1028.63,91.05ZM1027.38,86.40L1035.58,81.75L1035.58,91.05ZM1034.33,86.40L1042.53,81.75L1042.53,91.05ZM1041.28,86.40L1049.48,81.75L1049.48,91.05ZM1048.23,86.40L1056.43,81.75L1056.43,91.05ZM1055.18,86.40L1063.38,81.75L1063.38,91.05ZM1061.96,86.40L1070.16,81.75L1070.16,91.05Z"/>
<path d="M828.0,387.7L841.4,387.4L848.4,387.1L855.3,386.7L862.3,386.1L869.2,385.5L876.2,384.8L883.1,383.8L890.1,382.1L897.0,379.2L904.0,374.0L910.9,366.3L917.9,356.1L924.8,342.4L931.8,322.4L938.7,293.7L945.7,257.3L952.6,215.2L959.6,171.8L966.5,135.8L973.5,105.3L980.4,90.1L987.4,87.2L994.3,86.5L1001.3,86.4L1008.2,86.4L1015.2,86.4L1022.1,86.4L1029.1,86.4L1036.0,86.4L1043.0,86.4L1049.9,86.4L1056.5,86.4" fill="none" stroke="#ff0000" stroke-width="2.5"/>
<path fill="none" stroke="#ff0000" stroke-width="2.55" d="M823.95,383.57h8.2v8.2h-8.2ZM837.31,383.28h8.2v8.2h-8.2ZM844.26,383.01h8.2v8.2h-8.2ZM851.21,382.56h8.2v8.2h-8.2ZM858.16,382.01h8.2v8.2h-8.2ZM865.11,381.44h8.2v8.2h-8.2ZM872.06,380.74h8.2v8.2h-8.2ZM879.01,379.73h8.2v8.2h-8.2ZM885.96,378.02h8.2v8.2h-8.2ZM892.91,375.09h8.2v8.2h-8.2ZM899.86,369.94h8.2v8.2h-8.2ZM906.81,362.24h8.2v8.2h-8.2ZM913.76,351.96h8.2v8.2h-8.2ZM920.71,338.30h8.2v8.2h-8.2ZM927.66,318.31h8.2v8.2h-8.2ZM934.61,289.64h8.2v8.2h-8.2ZM941.56,253.25h8.2v8.2h-8.2ZM948.51,211.14h8.2v8.2h-8.2ZM955.46,167.72h8.2v8.2h-8.2ZM962.41,131.74h8.2v8.2h-8.2ZM969.36,101.17h8.2v8.2h-8.2ZM976.31,86.02h8.2v8.2h-8.2ZM983.26,83.13h8.2v8.2h-8.2ZM990.21,82.40h8.2v8.2h-8.2ZM997.16,82.30h8.2v8.2h-8.2ZM1004.11,82.30h8.2v8.2h-8.2ZM1011.06,82.30h8.2v8.2h-8.2ZM1018.01,82.30h8.2v8.2h-8.2ZM1024.96,82.30h8.2v8.2h-8.2ZM1031.91,82.30h8.2v8.2h-8.2ZM1038.86,82.30h8.2v8.2h-8.2ZM1045.81,82.30h8.2v8.2h-8.2ZM1052.45,82.30h8.2v8.2h-8.2Z"/>
<path d="M817.1,387.9L832.0,387.6L839.0,387.4L845.9,387.2L852.9,386.8L859.8,386.3L866.8,385.7L873.7,385.1L880.7,384.2L887.6,382.8L894.6,380.4L901.5,376.2L908.5,369.3L915.4,360.0L922.4,347.7L929.3,330.4L936.3,304.8L943.2,270.9L950.2,230.5L957.1,186.9L964.1,147.5L971.0,115.1L978.0,93.5L984.9,88.0L991.9,86.6L998.8,86.4L1005.8,86.4L1012.7,86.4L1019.7,86.4L1026.6,86.4L1033.6,86.4L1040.5,86.4L1045.6,86.4" fill="none" stroke="#00ff00" stroke-width="2.5"/>
<path fill="none" stroke="#00ff00" stroke-width="2.6" d="M817.12,382.42L812.47,390.62L821.77,390.62ZM832.03,382.10L827.38,390.30L836.68,390.30ZM838.98,381.95L834.33,390.15L843.63,390.15ZM845.93,381.73L841.28,389.93L850.58,389.93ZM852.88,381.33L848.23,389.53L857.53,389.53ZM859.83,380.81L855.18,389.01L864.48,389.01ZM866.78,380.24L862.13,388.44L871.43,388.44ZM873.73,379.61L869.08,387.81L878.38,387.81ZM880.68,378.74L876.03,386.94L885.33,386.94ZM887.63,377.31L882.98,385.51L892.28,385.51ZM894.58,374.94L889.93,383.14L899.23,383.14ZM901.53,370.72L896.88,378.92L906.18,378.92ZM908.48,363.81L903.83,372.01L913.13,372.01ZM915.43,354.48L910.78,362.68L920.08,362.68ZM922.38,342.21L917.73,350.41L927.03,350.41ZM929.33,324.87L924.68,333.07L933.98,333.07ZM936.28,299.28L931.63,307.48L940.93,307.48ZM943.23,265.36L938.58,273.56L947.88,273.56ZM950.18,224.96L945.53,233.16L954.83,233.16ZM957.13,181.38L952.48,189.58L961.78,189.58ZM964.08,142.02L959.43,150.22L968.73,150.22ZM971.03,109.60L966.38,117.80L975.68,117.80ZM977.98,88.03L973.33,96.23L982.63,96.23ZM984.93,82.48L980.28,90.68L989.58,90.68ZM991.88,81.09L987.23,89.29L996.53,89.29ZM998.83,80.90L994.18,89.10L1003.48,89.10ZM1005.78,80.90L1001.13,89.10L1010.43,89.10ZM1012.73,80.90L1008.08,89.10L1017.38,89.10ZM1019.68,80.90L1015.03,89.10L1024.33,89.10ZM1026.63,80.90L1021.98,89.10L1031.28,89.10ZM1033.58,80.90L1028.93,89.10L1038.23,89.10ZM1040.53,80.90L1035.88,89.10L1045.18,89.10ZM1045.62,80.90L1040.97,89.10L1050.27,89.10Z"/>
<path d="M806.1,388.2L821.2,387.8L828.2,387.7L835.1,387.5L842.1,387.4L849.0,387.1L856.0,386.6L863.0,386.1L869.9,385.5L876.9,384.8L883.8,383.7L890.8,381.9L897.7,378.8L904.6,373.4L911.6,365.4L918.5,354.9L925.5,340.8L932.5,320.0L939.4,290.5L946.4,253.4L953.3,210.9L960.2,167.8L967.2,132.6L974.1,103.1L981.1,89.7L988.0,87.1L995.0,86.5L1002.0,86.4L1008.9,86.4L1015.9,86.4L1022.8,86.4L1029.8,86.4L1034.7,86.4" fill="none" stroke="#0000ff" stroke-width="2.5"/>
<g fill="none" stroke="#0000ff" stroke-width="2.7">
<circle cx="806.15" cy="388.19" r="4.75"/>
<circle cx="821.25" cy="387.81" r="4.75"/>
<circle cx="828.20" cy="387.67" r="4.75"/>
<circle cx="835.15" cy="387.54" r="4.75"/>
<circle cx="842.10" cy="387.36" r="4.75"/>
<circle cx="849.05" cy="387.07" r="4.75"/>
<circle cx="856.00" cy="386.61" r="4.75"/>
<circle cx="862.95" cy="386.05" r="4.75"/>
<circle cx="869.90" cy="385.47" r="4.75"/>
<circle cx="876.85" cy="384.76" r="4.75"/>
<circle cx="883.80" cy="383.69" r="4.75"/>
<circle cx="890.75" cy="381.91" r="4.75"/>
<circle cx="897.70" cy="378.79" r="4.75"/>
<circle cx="904.65" cy="373.36" r="4.75"/>
<circle cx="911.60" cy="365.44" r="4.75"/>
<circle cx="918.55" cy="354.88" r="4.75"/>
<circle cx="925.50" cy="340.77" r="4.75"/>
<circle cx="932.45" cy="319.98" r="4.75"/>
<circle cx="939.40" cy="290.48" r="4.75"/>
<circle cx="946.35" cy="253.43" r="4.75"/>
<circle cx="953.30" cy="210.94" r="4.75"/>
<circle cx="960.25" cy="167.77" r="4.75"/>
<circle cx="967.20" cy="132.65" r="4.75"/>
<circle cx="974.15" cy="103.14" r="4.75"/>
<circle cx="981.10" cy="89.72" r="4.75"/>
<circle cx="988.05" cy="87.07" r="4.75"/>
<circle cx="995.00" cy="86.48" r="4.75"/>
<circle cx="1001.95" cy="86.40" r="4.75"/>
<circle cx="1008.90" cy="86.40" r="4.75"/>
<circle cx="1015.85" cy="86.40" r="4.75"/>
<circle cx="1022.80" cy="86.40" r="4.75"/>
<circle cx="1029.75" cy="86.40" r="4.75"/>
<circle cx="1034.65" cy="86.40" r="4.75"/>
</g>
<path d="M806.1,388.2L806.9,388.2L807.7,388.2L808.4,388.1L809.2,388.1L810.0,388.1L810.7,388.1L811.5,388.1L812.3,388.1L813.0,388.0L813.8,388.0L814.6,388.0L815.3,388.0L816.1,387.9L816.8,387.9L817.6,387.9L818.4,387.9L819.1,387.9L819.9,387.8L820.7,387.8L821.4,387.8L822.2,387.8L823.0,387.8L823.7,387.8L824.5,387.7L825.3,387.7L826.0,387.7L826.8,387.7L827.5,387.7L828.3,387.7L829.1,387.7L829.8,387.6L830.6,387.6L831.4,387.6L832.1,387.6L832.9,387.6L833.7,387.6L834.4,387.5L835.2,387.5L836.0,387.5L836.7,387.5L837.5,387.5L838.2,387.5L839.0,387.4L839.8,387.4L840.5,387.4L841.3,387.4L842.1,387.4L842.8,387.3L843.6,387.3L844.4,387.3L845.1,387.3L845.9,387.2L846.7,387.2L847.4,387.2L848.2,387.1L848.9,387.1L849.7,387.0L850.5,387.0L851.2,386.9L852.0,386.9L852.8,386.8L853.5,386.8L854.3,386.7L855.1,386.7L855.8,386.6L856.6,386.6L857.4,386.5L858.1,386.4L858.9,386.4L859.6,386.3L860.4,386.3L861.2,386.2L861.9,386.1L862.7,386.1L863.5,386.0L864.2,385.9L865.0,385.9L865.8,385.8L866.5,385.8L867.3,385.7L868.1,385.6L868.8,385.6L869.6,385.5L870.3,385.4L871.1,385.4L871.9,385.3L872.6,385.2L873.4,385.1L874.2,385.1L874.9,385.0L875.7,384.9L876.5,384.8L877.2,384.7L878.0,384.6L878.8,384.5L879.5,384.4L880.3,384.3L881.0,384.2L881.8,384.1L882.6,383.9L883.3,383.8L884.1,383.6L884.9,383.5L885.6,383.3L886.4,383.1L887.2,382.9L887.9,382.7L888.7,382.5L889.4,382.3L890.2,382.1L891.0,381.8L891.7,381.6L892.5,381.3L893.3,381.0L894.0,380.7L894.8,380.3L895.6,380.0L896.3,379.6L897.1,379.1L897.9,378.7L898.6,378.2L899.4,377.8L900.1,377.3L900.9,376.7L901.7,376.1L902.4,375.4L903.2,374.8L904.0,374.0L904.7,373.3L905.5,372.5L906.3,371.7L907.0,370.9L907.8,370.1L908.6,369.2L909.3,368.3L910.1,367.4L910.8,366.4L911.6,365.4L912.4,364.4L913.1,363.3L913.9,362.3L914.7,361.1L915.4,360.0L916.2,358.8L917.0,357.6L917.7,356.3L918.5,355.0L919.3,353.6L920.0,352.3L920.8,350.8L921.5,349.4L922.3,347.8L923.1,346.3L923.8,344.6L924.6,342.9L925.4,341.1L926.1,339.2L926.9,337.3L927.7,335.2L928.4,333.1L929.2,330.8L930.0,328.4L930.7,325.9L931.5,323.4L932.2,320.7L933.0,318.0L933.8,315.1L934.5,312.1L935.3,309.0L936.1,305.7L936.8,302.4L937.6,298.9L938.4,295.4L939.1,291.8L939.9,288.1L940.7,284.4L941.4,280.5L942.2,276.5L942.9,272.4L943.7,268.3L944.5,264.0L945.2,259.7L946.0,255.4L946.8,251.1L947.5,246.6L948.3,242.0L949.1,237.4L949.8,232.7L950.6,227.9L951.4,223.1L952.1,218.3L952.9,213.6L953.6,208.8L954.4,204.1L955.2,199.3L955.9,194.5L956.7,189.6L957.5,184.8L958.2,180.0L959.0,175.2L959.8,170.6L960.5,166.2L961.3,162.0L962.0,157.9L962.8,153.9L963.6,150.0L964.3,146.2L965.1,142.5L965.9,138.8L966.6,135.3L967.4,131.7L968.2,128.3L968.9,124.8L969.7,121.3L970.5,117.7L971.2,114.2L972.0,110.9L972.7,107.8L973.5,105.1L974.3,102.8L975.0,100.7L975.8,98.6L976.6,96.7L977.3,94.9L978.1,93.3L978.9,91.9L979.6,90.9L980.4,90.1L981.2,89.7L981.9,89.3L982.7,88.9L983.4,88.6L984.2,88.3L985.0,88.0L985.7,87.7L986.5,87.5L987.3,87.3L988.0,87.1L988.8,86.9L989.6,86.8L990.3,86.7L991.1,86.6L991.9,86.6L992.6,86.6L993.4,86.5L994.1,86.5L994.9,86.5L995.7,86.5L996.4,86.4L997.2,86.4L998.0,86.4L998.7,86.4L999.5,86.4L1000.3,86.4L1001.0,86.4L1001.8,86.4L1002.6,86.4L1003.3,86.4L1004.1,86.4L1004.8,86.4L1005.6,86.4L1006.4,86.4L1007.1,86.4L1007.9,86.4L1008.7,86.4L1009.4,86.4L1010.2,86.4L1011.0,86.4L1011.7,86.4L1012.5,86.4L1013.3,86.4L1014.0,86.4L1014.8,86.4L1015.5,86.4L1016.3,86.4L1017.1,86.4L1017.8,86.4L1018.6,86.4L1019.4,86.4L1020.1,86.4L1020.9,86.4L1021.7,86.4L1022.4,86.4L1023.2,86.4L1024.0,86.4L1024.7,86.4L1025.5,86.4L1026.2,86.4L1027.0,86.4L1027.8,86.4L1028.5,86.4L1029.3,86.4L1030.1,86.4L1030.8,86.4L1031.6,86.4L1032.4,86.4L1033.1,86.4L1033.9,86.4L1034.7,86.4" fill="none" stroke="#ff00ff" stroke-width="6" stroke-dasharray="29 17"/>
</g>
<g clip-path="url(#cp3)">
<path d="M1145.1,388.1L1169.8,387.6L1176.5,387.4L1183.1,387.1L1189.8,386.7L1196.4,386.1L1203.1,385.4L1209.7,384.3L1216.4,382.8L1223.0,380.8L1229.7,377.9L1236.3,374.2L1243.0,368.7L1249.6,358.3L1256.3,343.6L1262.9,322.6L1269.6,286.3L1276.2,240.5L1282.9,191.6L1289.5,147.1L1296.2,115.0L1302.8,96.0L1309.5,88.6L1316.1,86.7L1322.8,86.5L1329.4,86.4L1336.1,86.4L1342.7,86.4L1349.4,86.4L1356.0,86.4L1362.7,86.4L1369.3,86.4L1376.0,86.4L1383.0,86.4" fill="none" stroke="#000000" stroke-width="2.5"/>
<path fill="none" stroke="#000000" stroke-width="2.6" d="M1139.64,388.12L1147.84,383.47L1147.84,392.77ZM1164.31,387.63L1172.51,382.98L1172.51,392.28ZM1170.96,387.39L1179.16,382.74L1179.16,392.04ZM1177.61,387.09L1185.81,382.44L1185.81,391.74ZM1184.26,386.68L1192.46,382.03L1192.46,391.33ZM1190.91,386.14L1199.11,381.49L1199.11,390.79ZM1197.56,385.43L1205.76,380.78L1205.76,390.08ZM1204.21,384.31L1212.41,379.66L1212.41,388.96ZM1210.86,382.77L1219.06,378.12L1219.06,387.42ZM1217.51,380.82L1225.71,376.17L1225.71,385.47ZM1224.16,377.90L1232.36,373.25L1232.36,382.55ZM1230.81,374.20L1239.01,369.55L1239.01,378.85ZM1237.46,368.73L1245.66,364.08L1245.66,373.38ZM1244.11,358.26L1252.31,353.61L1252.31,362.91ZM1250.76,343.57L1258.96,338.92L1258.96,348.22ZM1257.41,322.57L1265.61,317.92L1265.61,327.22ZM1264.06,286.27L1272.26,281.62L1272.26,290.92ZM1270.71,240.47L1278.91,235.82L1278.91,245.12ZM1277.36,191.57L1285.56,186.92L1285.56,196.22ZM1284.01,147.11L1292.21,142.46L1292.21,151.76ZM1290.66,115.03L1298.86,110.38L1298.86,119.68ZM1297.31,95.99L1305.51,91.34L1305.51,100.64ZM1303.96,88.61L1312.16,83.96L1312.16,93.26ZM1310.61,86.73L1318.81,82.08L1318.81,91.38ZM1317.26,86.47L1325.46,81.82L1325.46,91.12ZM1323.91,86.40L1332.11,81.75L1332.11,91.05ZM1330.56,86.40L1338.76,81.75L1338.76,91.05ZM1337.21,86.40L1345.41,81.75L1345.41,91.05ZM1343.86,86.40L1352.06,81.75L1352.06,91.05ZM1350.51,86.40L1358.71,81.75L1358.71,91.05ZM1357.16,86.40L1365.36,81.75L1365.36,91.05ZM1363.81,86.40L1372.01,81.75L1372.01,91.05ZM1370.46,86.40L1378.66,81.75L1378.66,91.05ZM1377.54,86.40L1385.74,81.75L1385.74,91.05Z"/>
<path d="M1135.4,388.2L1159.5,387.9L1166.2,387.7L1172.8,387.5L1179.5,387.3L1186.1,386.9L1192.8,386.5L1199.4,385.8L1206.0,385.0L1212.7,383.7L1219.3,382.0L1226.0,379.6L1232.7,376.3L1239.3,372.1L1246.0,364.9L1252.6,351.6L1259.2,336.0L1265.9,307.1L1272.5,267.1L1279.2,218.1L1285.8,171.1L1292.5,130.4L1299.2,105.0L1305.8,90.8L1312.5,87.5L1319.1,86.6L1325.8,86.4L1332.4,86.4L1339.0,86.4L1345.7,86.4L1352.3,86.4L1359.0,86.4L1365.7,86.4L1373.3,86.4" fill="none" stroke="#ff0000" stroke-width="2.5"/>
<path fill="none" stroke="#ff0000" stroke-width="2.55" d="M1131.31,384.10h8.2v8.2h-8.2ZM1155.40,383.82h8.2v8.2h-8.2ZM1162.05,383.65h8.2v8.2h-8.2ZM1168.70,383.43h8.2v8.2h-8.2ZM1175.35,383.16h8.2v8.2h-8.2ZM1182.00,382.82h8.2v8.2h-8.2ZM1188.65,382.35h8.2v8.2h-8.2ZM1195.30,381.75h8.2v8.2h-8.2ZM1201.95,380.88h8.2v8.2h-8.2ZM1208.60,379.57h8.2v8.2h-8.2ZM1215.25,377.87h8.2v8.2h-8.2ZM1221.90,375.52h8.2v8.2h-8.2ZM1228.55,372.24h8.2v8.2h-8.2ZM1235.20,367.99h8.2v8.2h-8.2ZM1241.85,360.78h8.2v8.2h-8.2ZM1248.50,347.45h8.2v8.2h-8.2ZM1255.15,331.95h8.2v8.2h-8.2ZM1261.80,303.03h8.2v8.2h-8.2ZM1268.45,263.00h8.2v8.2h-8.2ZM1275.10,214.00h8.2v8.2h-8.2ZM1281.75,166.97h8.2v8.2h-8.2ZM1288.40,126.29h8.2v8.2h-8.2ZM1295.05,100.93h8.2v8.2h-8.2ZM1301.70,86.66h8.2v8.2h-8.2ZM1308.35,83.40h8.2v8.2h-8.2ZM1315.00,82.46h8.2v8.2h-8.2ZM1321.65,82.33h8.2v8.2h-8.2ZM1328.30,82.30h8.2v8.2h-8.2ZM1334.95,82.30h8.2v8.2h-8.2ZM1341.60,82.30h8.2v8.2h-8.2ZM1348.25,82.30h8.2v8.2h-8.2ZM1354.90,82.30h8.2v8.2h-8.2ZM1361.55,82.30h8.2v8.2h-8.2ZM1369.21,82.30h8.2v8.2h-8.2Z"/>
<path d="M1125.7,388.3L1150.5,388.1L1157.2,388.0L1163.8,387.8L1170.5,387.6L1177.1,387.4L1183.8,387.1L1190.4,386.6L1197.1,386.1L1203.7,385.3L1210.4,384.2L1217.0,382.6L1223.7,380.6L1230.3,377.6L1237.0,373.8L1243.6,368.0L1250.3,356.8L1256.9,342.1L1263.6,319.4L1270.2,282.2L1276.9,235.4L1283.5,186.9L1290.2,143.1L1296.8,112.6L1303.5,94.6L1310.1,88.3L1316.8,86.7L1323.4,86.5L1330.1,86.4L1336.7,86.4L1343.4,86.4L1350.0,86.4L1356.7,86.4L1363.6,86.4" fill="none" stroke="#00ff00" stroke-width="2.5"/>
<path fill="none" stroke="#00ff00" stroke-width="2.6" d="M1125.68,382.75L1121.03,390.95L1130.33,390.95ZM1150.52,382.56L1145.87,390.76L1155.17,390.76ZM1157.17,382.46L1152.52,390.66L1161.82,390.66ZM1163.82,382.31L1159.17,390.51L1168.47,390.51ZM1170.47,382.11L1165.82,390.31L1175.12,390.31ZM1177.12,381.86L1172.47,390.06L1181.77,390.06ZM1183.77,381.55L1179.12,389.75L1188.42,389.75ZM1190.42,381.13L1185.77,389.33L1195.07,389.33ZM1197.07,380.58L1192.42,388.78L1201.72,388.78ZM1203.72,379.84L1199.07,388.04L1208.37,388.04ZM1210.37,378.67L1205.72,386.87L1215.02,386.87ZM1217.02,377.10L1212.37,385.30L1221.67,385.30ZM1223.67,375.07L1219.02,383.27L1228.32,383.27ZM1230.32,372.06L1225.67,380.26L1234.97,380.26ZM1236.97,368.27L1232.32,376.47L1241.62,376.47ZM1243.62,362.46L1238.97,370.66L1248.27,370.66ZM1250.27,351.31L1245.62,359.51L1254.92,359.51ZM1256.92,336.55L1252.27,344.75L1261.57,344.75ZM1263.57,313.86L1258.92,322.06L1268.22,322.06ZM1270.22,276.68L1265.57,284.88L1274.87,284.88ZM1276.87,229.93L1272.22,238.13L1281.52,238.13ZM1283.52,181.40L1278.87,189.60L1288.17,189.60ZM1290.17,137.55L1285.52,145.75L1294.82,145.75ZM1296.82,107.10L1292.17,115.30L1301.47,115.30ZM1303.47,89.07L1298.82,97.27L1308.12,97.27ZM1310.12,82.83L1305.47,91.03L1314.77,91.03ZM1316.77,81.16L1312.12,89.36L1321.42,89.36ZM1323.42,80.96L1318.77,89.16L1328.07,89.16ZM1330.07,80.90L1325.42,89.10L1334.72,89.10ZM1336.72,80.90L1332.07,89.10L1341.37,89.10ZM1343.37,80.90L1338.72,89.10L1348.02,89.10ZM1350.02,80.90L1345.37,89.10L1354.67,89.10ZM1356.67,80.90L1352.02,89.10L1361.32,89.10ZM1363.58,80.90L1358.93,89.10L1368.23,89.10Z"/>
<path d="M1115.9,388.3L1140.2,388.2L1146.9,388.1L1153.5,388.0L1160.2,387.9L1166.8,387.7L1173.5,387.5L1180.1,387.2L1186.8,386.9L1193.4,386.4L1200.1,385.8L1206.7,384.9L1213.4,383.5L1220.0,381.8L1226.7,379.3L1233.3,376.0L1240.0,371.6L1246.6,363.9L1253.3,350.1L1259.9,334.1L1266.6,303.6L1273.2,262.6L1279.9,213.3L1286.5,166.7L1293.2,127.4L1299.8,103.2L1306.5,90.2L1313.1,87.3L1319.8,86.5L1326.4,86.4L1333.1,86.4L1339.7,86.4L1346.4,86.4L1353.8,86.4" fill="none" stroke="#0000ff" stroke-width="2.5"/>
<g fill="none" stroke="#0000ff" stroke-width="2.7">
<circle cx="1115.91" cy="388.30" r="4.75"/>
<circle cx="1140.21" cy="388.16" r="4.75"/>
<circle cx="1146.86" cy="388.10" r="4.75"/>
<circle cx="1153.51" cy="388.02" r="4.75"/>
<circle cx="1160.16" cy="387.90" r="4.75"/>
<circle cx="1166.81" cy="387.73" r="4.75"/>
<circle cx="1173.46" cy="387.50" r="4.75"/>
<circle cx="1180.11" cy="387.23" r="4.75"/>
<circle cx="1186.76" cy="386.88" r="4.75"/>
<circle cx="1193.41" cy="386.40" r="4.75"/>
<circle cx="1200.06" cy="385.78" r="4.75"/>
<circle cx="1206.71" cy="384.87" r="4.75"/>
<circle cx="1213.36" cy="383.51" r="4.75"/>
<circle cx="1220.01" cy="381.78" r="4.75"/>
<circle cx="1226.66" cy="379.33" r="4.75"/>
<circle cx="1233.31" cy="375.98" r="4.75"/>
<circle cx="1239.96" cy="371.56" r="4.75"/>
<circle cx="1246.61" cy="363.89" r="4.75"/>
<circle cx="1253.26" cy="350.11" r="4.75"/>
<circle cx="1259.91" cy="334.11" r="4.75"/>
<circle cx="1266.56" cy="303.61" r="4.75"/>
<circle cx="1273.21" cy="262.63" r="4.75"/>
<circle cx="1279.86" cy="213.30" r="4.75"/>
<circle cx="1286.51" cy="166.73" r="4.75"/>
<circle cx="1293.16" cy="127.39" r="4.75"/>
<circle cx="1299.81" cy="103.20" r="4.75"/>
<circle cx="1306.46" cy="90.15" r="4.75"/>
<circle cx="1313.11" cy="87.31" r="4.75"/>
<circle cx="1319.76" cy="86.54" r="4.75"/>
<circle cx="1326.41" cy="86.42" r="4.75"/>
<circle cx="1333.06" cy="86.40" r="4.75"/>
<circle cx="1339.71" cy="86.40" r="4.75"/>
<circle cx="1346.36" cy="86.40" r="4.75"/>
<circle cx="1353.81" cy="86.40" r="4.75"/>
</g>
<path d="M1115.9,388.3L1116.7,388.3L1117.5,388.3L1118.3,388.3L1119.1,388.3L1119.9,388.3L1120.7,388.3L1121.5,388.3L1122.3,388.3L1123.1,388.3L1123.9,388.3L1124.7,388.3L1125.5,388.3L1126.3,388.3L1127.0,388.2L1127.8,388.2L1128.6,388.2L1129.4,388.2L1130.2,388.2L1131.0,388.2L1131.8,388.2L1132.6,388.2L1133.4,388.2L1134.2,388.2L1135.0,388.2L1135.8,388.2L1136.6,388.2L1137.4,388.2L1138.2,388.2L1139.0,388.2L1139.8,388.2L1140.6,388.2L1141.4,388.2L1142.2,388.1L1143.0,388.1L1143.8,388.1L1144.6,388.1L1145.3,388.1L1146.1,388.1L1146.9,388.1L1147.7,388.1L1148.5,388.1L1149.3,388.1L1150.1,388.1L1150.9,388.1L1151.7,388.0L1152.5,388.0L1153.3,388.0L1154.1,388.0L1154.9,388.0L1155.7,388.0L1156.5,388.0L1157.3,388.0L1158.1,387.9L1158.9,387.9L1159.7,387.9L1160.5,387.9L1161.3,387.9L1162.1,387.9L1162.9,387.8L1163.6,387.8L1164.4,387.8L1165.2,387.8L1166.0,387.8L1166.8,387.7L1167.6,387.7L1168.4,387.7L1169.2,387.7L1170.0,387.6L1170.8,387.6L1171.6,387.6L1172.4,387.5L1173.2,387.5L1174.0,387.5L1174.8,387.5L1175.6,387.4L1176.4,387.4L1177.2,387.4L1178.0,387.3L1178.8,387.3L1179.6,387.3L1180.4,387.2L1181.2,387.2L1181.9,387.1L1182.7,387.1L1183.5,387.1L1184.3,387.0L1185.1,387.0L1185.9,386.9L1186.7,386.9L1187.5,386.8L1188.3,386.8L1189.1,386.7L1189.9,386.7L1190.7,386.6L1191.5,386.6L1192.3,386.5L1193.1,386.4L1193.9,386.4L1194.7,386.3L1195.5,386.2L1196.3,386.2L1197.1,386.1L1197.9,386.0L1198.7,385.9L1199.5,385.8L1200.2,385.8L1201.0,385.7L1201.8,385.6L1202.6,385.5L1203.4,385.4L1204.2,385.3L1205.0,385.1L1205.8,385.0L1206.6,384.9L1207.4,384.7L1208.2,384.6L1209.0,384.4L1209.8,384.3L1210.6,384.1L1211.4,384.0L1212.2,383.8L1213.0,383.6L1213.8,383.4L1214.6,383.2L1215.4,383.0L1216.2,382.8L1217.0,382.6L1217.8,382.4L1218.5,382.2L1219.3,382.0L1220.1,381.7L1220.9,381.5L1221.7,381.3L1222.5,381.0L1223.3,380.7L1224.1,380.4L1224.9,380.1L1225.7,379.7L1226.5,379.4L1227.3,379.0L1228.1,378.7L1228.9,378.3L1229.7,377.9L1230.5,377.5L1231.3,377.1L1232.1,376.6L1232.9,376.2L1233.7,375.8L1234.5,375.3L1235.3,374.9L1236.1,374.4L1236.8,373.9L1237.6,373.3L1238.4,372.7L1239.2,372.1L1240.0,371.5L1240.8,370.8L1241.6,370.1L1242.4,369.3L1243.2,368.4L1244.0,367.5L1244.8,366.5L1245.6,365.4L1246.4,364.2L1247.2,363.0L1248.0,361.6L1248.8,360.0L1249.6,358.3L1250.4,356.6L1251.2,354.8L1252.0,353.0L1252.8,351.2L1253.6,349.5L1254.4,347.8L1255.1,346.0L1255.9,344.3L1256.7,342.5L1257.5,340.6L1258.3,338.6L1259.1,336.4L1259.9,334.1L1260.7,331.5L1261.5,328.6L1262.3,325.3L1263.1,321.6L1263.9,317.7L1264.7,313.6L1265.5,309.3L1266.3,305.1L1267.1,300.7L1267.9,296.3L1268.7,291.6L1269.5,286.8L1270.3,281.9L1271.1,276.8L1271.9,271.7L1272.7,266.4L1273.4,261.0L1274.2,255.3L1275.0,249.3L1275.8,243.3L1276.6,237.2L1277.4,231.2L1278.2,225.2L1279.0,219.4L1279.8,213.6L1280.6,207.8L1281.4,202.0L1282.2,196.3L1283.0,190.6L1283.8,185.0L1284.6,179.5L1285.4,174.1L1286.2,168.9L1287.0,163.6L1287.8,158.4L1288.6,153.1L1289.4,148.0L1290.2,143.1L1291.0,138.5L1291.7,134.1L1292.5,130.2L1293.3,126.6L1294.1,123.1L1294.9,119.8L1295.7,116.7L1296.5,113.7L1297.3,110.8L1298.1,108.2L1298.9,105.7L1299.7,103.5L1300.5,101.4L1301.3,99.5L1302.1,97.6L1302.9,95.8L1303.7,94.1L1304.5,92.6L1305.3,91.4L1306.1,90.5L1306.9,89.9L1307.7,89.5L1308.5,89.1L1309.3,88.7L1310.0,88.4L1310.8,88.0L1311.6,87.8L1312.4,87.5L1313.2,87.3L1314.0,87.1L1314.8,86.9L1315.6,86.8L1316.4,86.7L1317.2,86.6L1318.0,86.6L1318.8,86.6L1319.6,86.5L1320.4,86.5L1321.2,86.5L1322.0,86.5L1322.8,86.5L1323.6,86.5L1324.4,86.4L1325.2,86.4L1326.0,86.4L1326.8,86.4L1327.6,86.4L1328.3,86.4L1329.1,86.4L1329.9,86.4L1330.7,86.4L1331.5,86.4L1332.3,86.4L1333.1,86.4L1333.9,86.4L1334.7,86.4L1335.5,86.4L1336.3,86.4L1337.1,86.4L1337.9,86.4L1338.7,86.4L1339.5,86.4L1340.3,86.4L1341.1,86.4L1341.9,86.4L1342.7,86.4L1343.5,86.4L1344.3,86.4L1345.1,86.4L1345.9,86.4L1346.6,86.4L1347.4,86.4L1348.2,86.4L1349.0,86.4L1349.8,86.4L1350.6,86.4L1351.4,86.4L1352.2,86.4L1353.0,86.4L1353.8,86.4" fill="none" stroke="#ff00ff" stroke-width="6" stroke-dasharray="29 17"/>
</g>
<g clip-path="url(#cp4)">
<path d="M1465.4,387.8L1469.7,387.7L1476.4,387.5L1483.2,387.4L1489.9,387.2L1496.6,387.0L1503.3,386.7L1510.1,386.3L1516.8,385.8L1523.5,384.8L1530.3,383.2L1537.0,380.9L1543.7,377.6L1550.5,373.6L1557.2,368.6L1563.9,360.7L1570.6,346.8L1577.4,322.9L1584.1,288.3L1590.8,245.3L1597.6,193.4L1604.3,143.4L1611.0,110.0L1617.8,92.9L1624.5,87.7L1631.2,86.7L1637.9,86.5L1644.7,86.4L1651.4,86.4L1658.1,86.4L1664.9,86.4L1671.6,86.4L1678.3,86.4L1685.0,86.4L1691.8,86.4L1694.4,86.4" fill="none" stroke="#000000" stroke-width="2.5"/>
<path fill="none" stroke="#000000" stroke-width="2.6" d="M1465.38,382.28L1460.73,390.48L1470.03,390.48ZM1469.69,382.19L1465.04,390.39L1474.34,390.39ZM1476.42,382.05L1471.77,390.25L1481.07,390.25ZM1483.15,381.88L1478.50,390.08L1487.80,390.08ZM1489.88,381.69L1485.23,389.89L1494.53,389.89ZM1496.61,381.46L1491.96,389.66L1501.26,389.66ZM1503.34,381.16L1498.69,389.36L1507.99,389.36ZM1510.07,380.79L1505.42,388.99L1514.72,388.99ZM1516.80,380.32L1512.15,388.52L1521.45,388.52ZM1523.53,379.29L1518.88,387.49L1528.18,387.49ZM1530.26,377.66L1525.61,385.86L1534.91,385.86ZM1536.99,375.45L1532.34,383.65L1541.64,383.65ZM1543.72,372.13L1539.07,380.33L1548.37,380.33ZM1550.45,368.06L1545.80,376.26L1555.10,376.26ZM1557.18,363.08L1552.53,371.28L1561.83,371.28ZM1563.91,355.22L1559.26,363.42L1568.56,363.42ZM1570.64,341.32L1565.99,349.52L1575.29,349.52ZM1577.37,317.40L1572.72,325.60L1582.02,325.60ZM1584.10,282.82L1579.45,291.02L1588.75,291.02ZM1590.83,239.83L1586.18,248.03L1595.48,248.03ZM1597.56,187.92L1592.91,196.12L1602.21,196.12ZM1604.29,137.87L1599.64,146.07L1608.94,146.07ZM1611.02,104.55L1606.37,112.75L1615.67,112.75ZM1617.75,87.44L1613.10,95.64L1622.40,95.64ZM1624.48,82.21L1619.83,90.41L1629.13,90.41ZM1631.21,81.18L1626.56,89.38L1635.86,89.38ZM1637.94,80.97L1633.29,89.17L1642.59,89.17ZM1644.67,80.90L1640.02,89.10L1649.32,89.10ZM1651.40,80.90L1646.75,89.10L1656.05,89.10ZM1658.13,80.90L1653.48,89.10L1662.78,89.10ZM1664.86,80.90L1660.21,89.10L1669.51,89.10ZM1671.59,80.90L1666.94,89.10L1676.24,89.10ZM1678.32,80.90L1673.67,89.10L1682.97,89.10ZM1685.05,80.90L1680.40,89.10L1689.70,89.10ZM1691.78,80.90L1687.13,89.10L1696.43,89.10ZM1694.38,80.90L1689.73,89.10L1699.03,89.10Z"/>
<path d="M1455.8,387.9L1459.3,387.9L1466.0,387.8L1472.7,387.6L1479.5,387.5L1486.2,387.3L1492.9,387.1L1499.6,386.8L1506.4,386.5L1513.1,386.1L1519.8,385.4L1526.6,384.1L1533.3,382.3L1540.0,379.6L1546.8,375.9L1553.5,371.5L1560.2,365.6L1566.9,355.4L1573.7,337.6L1580.4,308.0L1587.1,270.3L1593.9,222.9L1600.6,169.5L1607.3,125.9L1614.0,100.5L1620.8,89.0L1627.5,87.1L1634.2,86.6L1641.0,86.4L1647.7,86.4L1654.4,86.4L1661.2,86.4L1667.9,86.4L1674.6,86.4L1681.3,86.4L1684.8,86.4" fill="none" stroke="#ff0000" stroke-width="2.5"/>
<path fill="none" stroke="#ff0000" stroke-width="2.55" d="M1451.68,383.84h8.2v8.2h-8.2ZM1455.16,383.78h8.2v8.2h-8.2ZM1461.89,383.67h8.2v8.2h-8.2ZM1468.62,383.53h8.2v8.2h-8.2ZM1475.35,383.38h8.2v8.2h-8.2ZM1482.08,383.20h8.2v8.2h-8.2ZM1488.81,382.99h8.2v8.2h-8.2ZM1495.54,382.73h8.2v8.2h-8.2ZM1502.27,382.41h8.2v8.2h-8.2ZM1509.00,381.99h8.2v8.2h-8.2ZM1515.73,381.34h8.2v8.2h-8.2ZM1522.46,380.01h8.2v8.2h-8.2ZM1529.19,378.19h8.2v8.2h-8.2ZM1535.92,375.47h8.2v8.2h-8.2ZM1542.65,371.76h8.2v8.2h-8.2ZM1549.38,367.42h8.2v8.2h-8.2ZM1556.11,361.51h8.2v8.2h-8.2ZM1562.84,351.30h8.2v8.2h-8.2ZM1569.57,333.53h8.2v8.2h-8.2ZM1576.30,303.92h8.2v8.2h-8.2ZM1583.03,266.19h8.2v8.2h-8.2ZM1589.76,218.76h8.2v8.2h-8.2ZM1596.49,165.41h8.2v8.2h-8.2ZM1603.22,121.83h8.2v8.2h-8.2ZM1609.95,96.39h8.2v8.2h-8.2ZM1616.68,84.90h8.2v8.2h-8.2ZM1623.41,83.00h8.2v8.2h-8.2ZM1630.14,82.46h8.2v8.2h-8.2ZM1636.87,82.32h8.2v8.2h-8.2ZM1643.60,82.30h8.2v8.2h-8.2ZM1650.33,82.30h8.2v8.2h-8.2ZM1657.06,82.30h8.2v8.2h-8.2ZM1663.79,82.30h8.2v8.2h-8.2ZM1670.52,82.30h8.2v8.2h-8.2ZM1677.25,82.30h8.2v8.2h-8.2ZM1680.68,82.30h8.2v8.2h-8.2Z"/>
<path d="M1446.2,388.1L1450.2,388.0L1456.9,387.9L1463.6,387.8L1470.4,387.7L1477.1,387.5L1483.8,387.4L1490.6,387.2L1497.3,386.9L1504.0,386.6L1510.8,386.2L1517.5,385.7L1524.2,384.6L1530.9,383.0L1537.7,380.7L1544.4,377.2L1551.1,373.1L1557.9,368.0L1564.6,359.6L1571.3,344.9L1578.0,319.7L1584.8,284.4L1591.5,240.4L1598.2,187.8L1605.0,139.0L1611.7,107.6L1618.4,91.8L1625.2,87.5L1631.9,86.6L1638.6,86.5L1645.3,86.4L1652.1,86.4L1658.8,86.4L1665.5,86.4L1672.3,86.4L1675.2,86.4" fill="none" stroke="#00ff00" stroke-width="2.5"/>
<path fill="none" stroke="#00ff00" stroke-width="2.6" d="M1446.17,382.57L1441.52,390.77L1450.82,390.77ZM1450.18,382.52L1445.53,390.72L1454.83,390.72ZM1456.91,382.42L1452.26,390.62L1461.56,390.62ZM1463.64,382.31L1458.99,390.51L1468.29,390.51ZM1470.37,382.18L1465.72,390.38L1475.02,390.38ZM1477.10,382.03L1472.45,390.23L1481.75,390.23ZM1483.83,381.87L1479.18,390.07L1488.48,390.07ZM1490.56,381.67L1485.91,389.87L1495.21,389.87ZM1497.29,381.43L1492.64,389.63L1501.94,389.63ZM1504.02,381.13L1499.37,389.33L1508.67,389.33ZM1510.75,380.75L1506.10,388.95L1515.40,388.95ZM1517.48,380.25L1512.83,388.45L1522.13,388.45ZM1524.21,379.14L1519.56,387.34L1528.86,387.34ZM1530.94,377.47L1526.29,385.67L1535.59,385.67ZM1537.67,375.16L1533.02,383.36L1542.32,383.36ZM1544.40,371.74L1539.75,379.94L1549.05,379.94ZM1551.13,367.62L1546.48,375.82L1555.78,375.82ZM1557.86,362.46L1553.21,370.66L1562.51,370.66ZM1564.59,354.12L1559.94,362.32L1569.24,362.32ZM1571.32,339.42L1566.67,347.62L1575.97,347.62ZM1578.05,314.19L1573.40,322.39L1582.70,322.39ZM1584.78,278.92L1580.13,287.12L1589.43,287.12ZM1591.51,234.88L1586.86,243.08L1596.16,243.08ZM1598.24,182.34L1593.59,190.54L1602.89,190.54ZM1604.97,133.46L1600.32,141.66L1609.62,141.66ZM1611.70,102.07L1607.05,110.27L1616.35,110.27ZM1618.43,86.31L1613.78,94.51L1623.08,94.51ZM1625.16,82.05L1620.51,90.25L1629.81,90.25ZM1631.89,81.14L1627.24,89.34L1636.54,89.34ZM1638.62,80.96L1633.97,89.16L1643.27,89.16ZM1645.35,80.90L1640.70,89.10L1650.00,89.10ZM1652.08,80.90L1647.43,89.10L1656.73,89.10ZM1658.81,80.90L1654.16,89.10L1663.46,89.10ZM1665.54,80.90L1660.89,89.10L1670.19,89.10ZM1672.27,80.90L1667.62,89.10L1676.92,89.10ZM1675.17,80.90L1670.52,89.10L1679.82,89.10Z"/>
<path d="M1436.5,388.2L1446.5,388.1L1453.2,388.0L1459.9,387.9L1466.7,387.8L1473.4,387.6L1480.1,387.5L1486.8,387.3L1493.6,387.1L1500.3,386.8L1507.0,386.5L1513.8,386.0L1520.5,385.3L1527.2,383.9L1534.0,382.1L1540.7,379.2L1547.4,375.5L1554.2,371.0L1560.9,364.9L1567.6,354.1L1574.3,335.4L1581.1,304.6L1587.8,266.1L1594.5,217.8L1601.3,164.7L1608.0,122.8L1614.7,99.0L1621.5,88.6L1628.2,87.0L1634.9,86.5L1641.6,86.4L1648.4,86.4L1655.1,86.4L1661.8,86.4L1665.5,86.4" fill="none" stroke="#0000ff" stroke-width="2.5"/>
<g fill="none" stroke="#0000ff" stroke-width="2.7">
<circle cx="1436.53" cy="388.20" r="4.75"/>
<circle cx="1446.47" cy="388.07" r="4.75"/>
<circle cx="1453.20" cy="387.97" r="4.75"/>
<circle cx="1459.93" cy="387.87" r="4.75"/>
<circle cx="1466.66" cy="387.75" r="4.75"/>
<circle cx="1473.39" cy="387.62" r="4.75"/>
<circle cx="1480.12" cy="387.46" r="4.75"/>
<circle cx="1486.85" cy="387.28" r="4.75"/>
<circle cx="1493.58" cy="387.07" r="4.75"/>
<circle cx="1500.31" cy="386.81" r="4.75"/>
<circle cx="1507.04" cy="386.47" r="4.75"/>
<circle cx="1513.77" cy="386.05" r="4.75"/>
<circle cx="1520.50" cy="385.34" r="4.75"/>
<circle cx="1527.23" cy="383.95" r="4.75"/>
<circle cx="1533.96" cy="382.08" r="4.75"/>
<circle cx="1540.69" cy="379.24" r="4.75"/>
<circle cx="1547.42" cy="375.46" r="4.75"/>
<circle cx="1554.15" cy="371.03" r="4.75"/>
<circle cx="1560.88" cy="364.86" r="4.75"/>
<circle cx="1567.61" cy="354.08" r="4.75"/>
<circle cx="1574.34" cy="335.36" r="4.75"/>
<circle cx="1581.07" cy="304.63" r="4.75"/>
<circle cx="1587.80" cy="266.06" r="4.75"/>
<circle cx="1594.53" cy="217.82" r="4.75"/>
<circle cx="1601.26" cy="164.70" r="4.75"/>
<circle cx="1607.99" cy="122.82" r="4.75"/>
<circle cx="1614.72" cy="98.96" r="4.75"/>
<circle cx="1621.45" cy="88.60" r="4.75"/>
<circle cx="1628.18" cy="86.99" r="4.75"/>
<circle cx="1634.91" cy="86.54" r="4.75"/>
<circle cx="1641.64" cy="86.42" r="4.75"/>
<circle cx="1648.37" cy="86.40" r="4.75"/>
<circle cx="1655.10" cy="86.40" r="4.75"/>
<circle cx="1661.83" cy="86.40" r="4.75"/>
<circle cx="1665.53" cy="86.40" r="4.75"/>
</g>
<path d="M1436.5,388.2L1437.3,388.2L1438.1,388.2L1438.8,388.2L1439.6,388.2L1440.4,388.1L1441.1,388.1L1441.9,388.1L1442.7,388.1L1443.4,388.1L1444.2,388.1L1445.0,388.1L1445.7,388.1L1446.5,388.1L1447.3,388.1L1448.0,388.0L1448.8,388.0L1449.6,388.0L1450.3,388.0L1451.1,388.0L1451.8,388.0L1452.6,388.0L1453.4,388.0L1454.1,388.0L1454.9,387.9L1455.7,387.9L1456.4,387.9L1457.2,387.9L1458.0,387.9L1458.7,387.9L1459.5,387.9L1460.3,387.9L1461.0,387.9L1461.8,387.8L1462.6,387.8L1463.3,387.8L1464.1,387.8L1464.9,387.8L1465.6,387.8L1466.4,387.8L1467.2,387.7L1467.9,387.7L1468.7,387.7L1469.5,387.7L1470.2,387.7L1471.0,387.7L1471.8,387.7L1472.5,387.6L1473.3,387.6L1474.1,387.6L1474.8,387.6L1475.6,387.6L1476.4,387.5L1477.1,387.5L1477.9,387.5L1478.7,387.5L1479.4,387.5L1480.2,387.5L1481.0,387.4L1481.7,387.4L1482.5,387.4L1483.2,387.4L1484.0,387.4L1484.8,387.3L1485.5,387.3L1486.3,387.3L1487.1,387.3L1487.8,387.3L1488.6,387.2L1489.4,387.2L1490.1,387.2L1490.9,387.2L1491.7,387.1L1492.4,387.1L1493.2,387.1L1494.0,387.1L1494.7,387.0L1495.5,387.0L1496.3,387.0L1497.0,386.9L1497.8,386.9L1498.6,386.9L1499.3,386.8L1500.1,386.8L1500.9,386.8L1501.6,386.7L1502.4,386.7L1503.2,386.7L1503.9,386.6L1504.7,386.6L1505.5,386.6L1506.2,386.5L1507.0,386.5L1507.8,386.4L1508.5,386.4L1509.3,386.3L1510.1,386.3L1510.8,386.2L1511.6,386.2L1512.4,386.1L1513.1,386.1L1513.9,386.0L1514.7,386.0L1515.4,385.9L1516.2,385.9L1516.9,385.8L1517.7,385.7L1518.5,385.6L1519.2,385.5L1520.0,385.4L1520.8,385.3L1521.5,385.2L1522.3,385.0L1523.1,384.9L1523.8,384.7L1524.6,384.6L1525.4,384.4L1526.1,384.2L1526.9,384.0L1527.7,383.8L1528.4,383.6L1529.2,383.4L1530.0,383.2L1530.7,383.0L1531.5,382.8L1532.3,382.6L1533.0,382.4L1533.8,382.1L1534.6,381.9L1535.3,381.6L1536.1,381.3L1536.9,381.0L1537.6,380.7L1538.4,380.3L1539.2,380.0L1539.9,379.6L1540.7,379.2L1541.5,378.9L1542.2,378.4L1543.0,378.0L1543.8,377.6L1544.5,377.2L1545.3,376.7L1546.1,376.3L1546.8,375.8L1547.6,375.4L1548.3,374.9L1549.1,374.4L1549.9,373.9L1550.6,373.4L1551.4,372.9L1552.2,372.4L1552.9,371.9L1553.7,371.4L1554.5,370.8L1555.2,370.2L1556.0,369.6L1556.8,368.9L1557.5,368.3L1558.3,367.5L1559.1,366.8L1559.8,366.0L1560.6,365.2L1561.4,364.3L1562.1,363.3L1562.9,362.2L1563.7,361.1L1564.4,359.9L1565.2,358.6L1566.0,357.2L1566.7,355.8L1567.5,354.3L1568.3,352.7L1569.0,350.9L1569.8,349.1L1570.6,347.0L1571.3,344.9L1572.1,342.6L1572.9,340.3L1573.6,337.8L1574.4,335.2L1575.2,332.4L1575.9,329.3L1576.7,326.0L1577.5,322.5L1578.2,318.9L1579.0,315.1L1579.8,311.3L1580.5,307.4L1581.3,303.5L1582.0,299.6L1582.8,295.5L1583.6,291.2L1584.3,286.9L1585.1,282.5L1585.9,277.9L1586.6,273.3L1587.4,268.5L1588.2,263.6L1588.9,258.6L1589.7,253.3L1590.5,247.9L1591.2,242.4L1592.0,236.7L1592.8,231.0L1593.5,225.3L1594.3,219.5L1595.1,213.7L1595.8,207.6L1596.6,201.3L1597.4,195.0L1598.1,188.7L1598.9,182.5L1599.7,176.5L1600.4,170.7L1601.2,165.2L1602.0,159.7L1602.7,154.2L1603.5,148.8L1604.3,143.6L1605.0,138.6L1605.8,134.0L1606.6,129.7L1607.3,125.9L1608.1,122.4L1608.9,118.9L1609.6,115.6L1610.4,112.5L1611.2,109.6L1611.9,106.8L1612.7,104.3L1613.4,102.1L1614.2,100.1L1615.0,98.4L1615.7,96.8L1616.5,95.3L1617.3,93.8L1618.0,92.4L1618.8,91.2L1619.6,90.2L1620.3,89.4L1621.1,88.8L1621.9,88.4L1622.6,88.2L1623.4,88.0L1624.2,87.8L1624.9,87.6L1625.7,87.4L1626.5,87.3L1627.2,87.1L1628.0,87.0L1628.8,86.9L1629.5,86.8L1630.3,86.7L1631.1,86.7L1631.8,86.6L1632.6,86.6L1633.4,86.6L1634.1,86.6L1634.9,86.5L1635.7,86.5L1636.4,86.5L1637.2,86.5L1638.0,86.5L1638.7,86.5L1639.5,86.4L1640.3,86.4L1641.0,86.4L1641.8,86.4L1642.6,86.4L1643.3,86.4L1644.1,86.4L1644.9,86.4L1645.6,86.4L1646.4,86.4L1647.1,86.4L1647.9,86.4L1648.7,86.4L1649.4,86.4L1650.2,86.4L1651.0,86.4L1651.7,86.4L1652.5,86.4L1653.3,86.4L1654.0,86.4L1654.8,86.4L1655.6,86.4L1656.3,86.4L1657.1,86.4L1657.9,86.4L1658.6,86.4L1659.4,86.4L1660.2,86.4L1660.9,86.4L1661.7,86.4L1662.5,86.4L1663.2,86.4L1664.0,86.4L1664.8,86.4L1665.5,86.4" fill="none" stroke="#ff00ff" stroke-width="6" stroke-dasharray="29 17"/>
</g>
<g clip-path="url(#cp5)">
<path d="M255.9,660.2L259.7,655.8L264.3,650.0L269.0,643.9L273.6,638.0L278.3,632.3L282.9,626.7L287.6,620.9L292.2,614.9L296.9,608.5L301.5,601.9L306.2,595.1L310.8,587.9L315.5,580.6L320.1,573.0L324.8,565.1L329.4,556.9L334.1,548.6L338.7,540.2L343.4,531.7L348.0,522.8L352.7,514.3L357.3,506.4L362.0,499.1L366.6,492.1L371.3,485.9L375.9,480.4L380.6,475.3L385.2,470.8L389.9,466.8L394.5,463.3L399.2,460.1L403.8,457.3L408.5,454.9L413.1,452.6" fill="none" stroke="#000000" stroke-width="2.5"/>
<path fill="none" stroke="#000000" stroke-width="2.6" d="M250.38,660.16L258.58,655.51L258.58,664.81ZM254.17,655.82L262.37,651.17L262.37,660.47ZM258.82,649.98L267.02,645.33L267.02,654.63ZM263.47,643.93L271.67,639.28L271.67,648.58ZM268.12,638.03L276.32,633.38L276.32,642.68ZM272.77,632.33L280.97,627.68L280.97,636.98ZM277.42,626.65L285.62,622.00L285.62,631.30ZM282.07,620.87L290.27,616.22L290.27,625.52ZM286.72,614.87L294.92,610.22L294.92,619.52ZM291.37,608.54L299.57,603.89L299.57,613.19ZM296.02,601.93L304.22,597.28L304.22,606.58ZM300.67,595.06L308.87,590.41L308.87,599.71ZM305.32,587.95L313.52,583.30L313.52,592.60ZM309.97,580.62L318.17,575.97L318.17,585.27ZM314.62,573.04L322.82,568.39L322.82,577.69ZM319.27,565.11L327.47,560.46L327.47,569.76ZM323.92,556.92L332.12,552.27L332.12,561.57ZM328.57,548.58L336.77,543.93L336.77,553.23ZM333.22,540.22L341.42,535.57L341.42,544.87ZM337.87,531.67L346.07,527.02L346.07,536.32ZM342.52,522.84L350.72,518.19L350.72,527.49ZM347.17,514.26L355.37,509.61L355.37,518.91ZM351.82,506.42L360.02,501.77L360.02,511.07ZM356.47,499.06L364.67,494.41L364.67,503.71ZM361.12,492.14L369.32,487.49L369.32,496.79ZM365.77,485.88L373.97,481.23L373.97,490.53ZM370.42,480.36L378.62,475.71L378.62,485.01ZM375.07,475.31L383.27,470.66L383.27,479.96ZM379.72,470.76L387.92,466.11L387.92,475.41ZM384.37,466.79L392.57,462.14L392.57,471.44ZM389.02,463.26L397.22,458.61L397.22,467.91ZM393.67,460.10L401.87,455.45L401.87,464.75ZM398.32,457.31L406.52,452.66L406.52,461.96ZM402.97,454.89L411.17,450.24L411.17,459.54ZM407.62,452.58L415.82,447.93L415.82,457.23Z"/>
<path d="M232.5,662.6L238.5,655.1L243.2,648.9L247.8,642.7L252.5,636.4L257.1,630.2L261.8,624.0L266.4,617.5L271.1,610.9L275.7,603.9L280.4,596.5L285.0,588.9L289.7,581.1L294.3,573.2L299.0,565.3L303.6,557.3L308.3,549.1L312.9,540.9L317.6,532.6L322.2,524.0L326.9,515.3L331.5,506.9L336.2,499.1L340.8,491.3L345.5,484.1L350.1,478.0L354.8,473.2L359.4,468.9L364.1,465.2L368.7,461.9L373.4,459.0L378.0,456.5L381.4,454.9L384.2,453.6L387.0,452.4L389.8,451.2L392.6,450.0L395.4,449.1L397.4,448.7" fill="none" stroke="#ff0000" stroke-width="2.5"/>
<path fill="none" stroke="#ff0000" stroke-width="2.55" d="M228.42,658.52h8.2v8.2h-8.2ZM234.41,651.01h8.2v8.2h-8.2ZM239.06,644.84h8.2v8.2h-8.2ZM243.71,638.55h8.2v8.2h-8.2ZM248.36,632.31h8.2v8.2h-8.2ZM253.01,626.11h8.2v8.2h-8.2ZM257.66,619.85h8.2v8.2h-8.2ZM262.31,613.44h8.2v8.2h-8.2ZM266.96,606.78h8.2v8.2h-8.2ZM271.61,599.77h8.2v8.2h-8.2ZM276.26,592.40h8.2v8.2h-8.2ZM280.91,584.77h8.2v8.2h-8.2ZM285.56,576.98h8.2v8.2h-8.2ZM290.21,569.13h8.2v8.2h-8.2ZM294.86,561.22h8.2v8.2h-8.2ZM299.51,553.17h8.2v8.2h-8.2ZM304.16,545.01h8.2v8.2h-8.2ZM308.81,536.77h8.2v8.2h-8.2ZM313.46,528.48h8.2v8.2h-8.2ZM318.11,519.90h8.2v8.2h-8.2ZM322.76,511.20h8.2v8.2h-8.2ZM327.41,502.80h8.2v8.2h-8.2ZM332.06,494.96h8.2v8.2h-8.2ZM336.71,487.21h8.2v8.2h-8.2ZM341.36,480.00h8.2v8.2h-8.2ZM346.01,473.95h8.2v8.2h-8.2ZM350.66,469.09h8.2v8.2h-8.2ZM355.31,464.82h8.2v8.2h-8.2ZM359.96,461.07h8.2v8.2h-8.2ZM364.61,457.80h8.2v8.2h-8.2ZM369.26,454.93h8.2v8.2h-8.2ZM373.91,452.42h8.2v8.2h-8.2ZM377.32,450.76h8.2v8.2h-8.2ZM380.12,449.50h8.2v8.2h-8.2ZM382.92,448.31h8.2v8.2h-8.2ZM385.72,447.10h8.2v8.2h-8.2ZM388.52,445.93h8.2v8.2h-8.2ZM391.32,445.01h8.2v8.2h-8.2ZM393.32,444.60h8.2v8.2h-8.2Z"/>
<path d="M209.1,668.9L213.6,662.2L218.3,655.2L222.9,648.3L227.6,641.1L232.2,633.9L236.9,626.6L241.5,619.2L246.2,611.8L250.8,604.4L255.5,596.9L260.1,589.3L264.8,581.7L269.4,573.9L274.1,566.1L278.7,558.2L283.4,550.1L288.0,541.8L292.7,533.2L297.3,524.3L302.0,515.6L306.6,507.3L311.3,499.1L315.9,491.0L320.6,483.8L325.2,477.9L329.9,472.7L334.5,468.1L339.2,464.2L343.8,460.8L348.5,457.9L353.1,455.4L358.0,453.2L360.8,452.1L363.6,451.2L366.4,450.4L369.2,449.7L372.0,449.0L374.0,448.7" fill="none" stroke="#00ff00" stroke-width="2.5"/>
<path fill="none" stroke="#00ff00" stroke-width="2.6" d="M209.13,663.44L204.48,671.64L213.78,671.64ZM213.63,656.67L208.98,664.87L218.28,664.87ZM218.28,649.74L213.63,657.94L222.93,657.94ZM222.93,642.76L218.28,650.96L227.58,650.96ZM227.58,635.64L222.93,643.84L232.23,643.84ZM232.23,628.41L227.58,636.61L236.88,636.61ZM236.88,621.11L232.23,629.31L241.53,629.31ZM241.53,613.75L236.88,621.95L246.18,621.95ZM246.18,606.34L241.53,614.54L250.83,614.54ZM250.83,598.89L246.18,607.09L255.48,607.09ZM255.48,591.40L250.83,599.60L260.13,599.60ZM260.13,583.84L255.48,592.04L264.78,592.04ZM264.78,576.19L260.13,584.39L269.43,584.39ZM269.43,568.44L264.78,576.64L274.08,576.64ZM274.08,560.62L269.43,568.82L278.73,568.82ZM278.73,552.69L274.08,560.89L283.38,560.89ZM283.38,544.61L278.73,552.81L288.03,552.81ZM288.03,536.34L283.38,544.54L292.68,544.54ZM292.68,527.69L288.03,535.89L297.33,535.89ZM297.33,518.84L292.68,527.04L301.98,527.04ZM301.98,510.11L297.33,518.31L306.63,518.31ZM306.63,501.80L301.98,510.00L311.28,510.00ZM311.28,493.56L306.63,501.76L315.93,501.76ZM315.93,485.53L311.28,493.73L320.58,493.73ZM320.58,478.33L315.93,486.53L325.23,486.53ZM325.23,472.40L320.58,480.60L329.88,480.60ZM329.88,467.17L325.23,475.37L334.53,475.37ZM334.53,462.57L329.88,470.77L339.18,470.77ZM339.18,458.67L334.53,466.87L343.83,466.87ZM343.83,455.33L339.18,463.53L348.48,463.53ZM348.48,452.40L343.83,460.60L353.13,460.60ZM353.13,449.88L348.48,458.08L357.78,458.08ZM358.03,447.69L353.38,455.89L362.68,455.89ZM360.83,446.63L356.18,454.83L365.48,454.83ZM363.63,445.69L358.98,453.89L368.28,453.89ZM366.43,444.88L361.78,453.08L371.08,453.08ZM369.23,444.16L364.58,452.36L373.88,452.36ZM372.03,443.54L367.38,451.74L376.68,451.74ZM374.03,443.20L369.38,451.40L378.68,451.40Z"/>
<path d="M185.7,683.3L192.5,673.4L197.1,666.5L201.8,658.6L206.4,649.5L211.1,639.9L215.7,630.4L220.4,621.6L225.0,613.2L229.7,604.8L234.3,596.1L239.0,586.7L243.6,577.2L248.3,568.1L252.9,559.6L257.6,551.4L262.2,543.1L266.9,534.6L271.5,526.1L276.2,518.0L280.8,510.0L285.5,502.3L290.1,495.3L294.8,488.8L299.4,482.8L304.1,477.6L308.7,472.8L313.4,468.6L318.0,464.8L322.7,461.3L327.3,458.2L332.0,455.5L334.6,454.2L337.4,452.9L340.2,451.8L343.0,450.8L345.8,449.8L348.6,449.0L350.6,448.7" fill="none" stroke="#0000ff" stroke-width="2.5"/>
<g fill="none" stroke="#0000ff" stroke-width="2.7">
<circle cx="185.68" cy="683.33" r="4.75"/>
<circle cx="192.48" cy="673.41" r="4.75"/>
<circle cx="197.13" cy="666.45" r="4.75"/>
<circle cx="201.78" cy="658.62" r="4.75"/>
<circle cx="206.43" cy="649.55" r="4.75"/>
<circle cx="211.08" cy="639.87" r="4.75"/>
<circle cx="215.73" cy="630.37" r="4.75"/>
<circle cx="220.38" cy="621.60" r="4.75"/>
<circle cx="225.03" cy="613.21" r="4.75"/>
<circle cx="229.68" cy="604.83" r="4.75"/>
<circle cx="234.33" cy="596.09" r="4.75"/>
<circle cx="238.98" cy="586.74" r="4.75"/>
<circle cx="243.63" cy="577.22" r="4.75"/>
<circle cx="248.28" cy="568.13" r="4.75"/>
<circle cx="252.93" cy="559.64" r="4.75"/>
<circle cx="257.58" cy="551.40" r="4.75"/>
<circle cx="262.23" cy="543.10" r="4.75"/>
<circle cx="266.88" cy="534.60" r="4.75"/>
<circle cx="271.53" cy="526.14" r="4.75"/>
<circle cx="276.18" cy="517.98" r="4.75"/>
<circle cx="280.83" cy="510.00" r="4.75"/>
<circle cx="285.48" cy="502.32" r="4.75"/>
<circle cx="290.13" cy="495.30" r="4.75"/>
<circle cx="294.78" cy="488.82" r="4.75"/>
<circle cx="299.43" cy="482.85" r="4.75"/>
<circle cx="304.08" cy="477.55" r="4.75"/>
<circle cx="308.73" cy="472.83" r="4.75"/>
<circle cx="313.38" cy="468.57" r="4.75"/>
<circle cx="318.03" cy="464.77" r="4.75"/>
<circle cx="322.68" cy="461.31" r="4.75"/>
<circle cx="327.33" cy="458.20" r="4.75"/>
<circle cx="331.98" cy="455.53" r="4.75"/>
<circle cx="334.58" cy="454.22" r="4.75"/>
<circle cx="337.38" cy="452.93" r="4.75"/>
<circle cx="340.18" cy="451.80" r="4.75"/>
<circle cx="342.98" cy="450.79" r="4.75"/>
<circle cx="345.78" cy="449.82" r="4.75"/>
<circle cx="348.58" cy="449.05" r="4.75"/>
<circle cx="350.58" cy="448.70" r="4.75"/>
</g>
</g>
<g clip-path="url(#cp6)">
<path d="M550.1,740.9L554.3,738.5L560.0,734.0L565.7,728.5L571.4,722.4L577.0,715.1L582.7,706.4L588.4,697.2L594.1,687.0L599.7,676.0L605.4,664.9L611.1,653.7L616.8,642.2L622.4,630.8L628.1,619.6L633.8,608.2L639.5,596.6L645.1,584.5L650.8,572.3L656.5,560.8L662.2,549.8L667.8,539.2L673.5,529.2L679.2,519.7L684.9,510.6L690.5,501.7L696.2,492.7L701.9,484.5L707.6,477.5L713.2,471.3L718.9,465.9L724.6,461.0L730.3,456.1L735.9,452.0" fill="none" stroke="#000000" stroke-width="2.5"/>
<path fill="none" stroke="#000000" stroke-width="2.6" d="M544.62,740.94L552.82,736.29L552.82,745.59ZM548.84,738.48L557.04,733.83L557.04,743.13ZM554.52,733.97L562.72,729.32L562.72,738.62ZM560.19,728.47L568.39,723.82L568.39,733.12ZM565.87,722.36L574.07,717.71L574.07,727.01ZM571.54,715.06L579.74,710.41L579.74,719.71ZM577.22,706.43L585.42,701.78L585.42,711.08ZM582.89,697.19L591.09,692.54L591.09,701.84ZM588.57,687.00L596.77,682.35L596.77,691.65ZM594.24,676.03L602.44,671.38L602.44,680.68ZM599.92,664.92L608.12,660.27L608.12,669.57ZM605.59,653.67L613.79,649.02L613.79,658.32ZM611.27,642.21L619.47,637.56L619.47,646.86ZM616.94,630.83L625.14,626.18L625.14,635.48ZM622.62,619.56L630.82,614.91L630.82,624.21ZM628.29,608.25L636.49,603.60L636.49,612.90ZM633.97,596.62L642.17,591.97L642.17,601.27ZM639.64,584.49L647.84,579.84L647.84,589.14ZM645.32,572.34L653.52,567.69L653.52,576.99ZM650.99,560.85L659.19,556.20L659.19,565.50ZM656.67,549.80L664.87,545.15L664.87,554.45ZM662.34,539.23L670.54,534.58L670.54,543.88ZM668.02,529.20L676.22,524.55L676.22,533.85ZM673.69,519.71L681.89,515.06L681.89,524.36ZM679.37,510.60L687.57,505.95L687.57,515.25ZM685.04,501.68L693.24,497.03L693.24,506.33ZM690.72,492.75L698.92,488.10L698.92,497.40ZM696.39,484.49L704.59,479.84L704.59,489.14ZM702.07,477.48L710.27,472.83L710.27,482.13ZM707.74,471.30L715.94,466.65L715.94,475.95ZM713.42,465.85L721.62,461.20L721.62,470.50ZM719.09,460.96L727.29,456.31L727.29,465.61ZM724.77,456.06L732.97,451.41L732.97,460.71ZM730.44,452.04L738.64,447.39L738.64,456.69Z"/>
<path d="M534.3,744.5L539.9,742.3L545.5,739.3L551.2,735.6L556.9,731.5L562.6,726.7L568.2,720.8L573.9,714.1L579.6,705.9L585.3,696.3L591.0,686.0L596.6,674.5L602.3,662.6L608.0,650.7L613.6,638.3L619.3,625.5L625.0,612.1L630.7,598.3L636.4,583.8L642.0,568.9L647.7,554.5L653.4,540.6L659.0,527.2L664.7,514.4L670.4,502.3L676.1,492.6L681.8,484.9L687.4,478.1L693.1,472.0L698.8,466.4L701.4,464.1L704.2,461.9L707.0,459.7L709.8,457.7L712.6,455.9L715.4,454.1L718.2,452.1L721.0,450.3L723.8,449.1L725.4,448.7" fill="none" stroke="#ff0000" stroke-width="2.5"/>
<path fill="none" stroke="#ff0000" stroke-width="2.55" d="M530.20,740.37h8.2v8.2h-8.2ZM535.77,738.21h8.2v8.2h-8.2ZM541.45,735.16h8.2v8.2h-8.2ZM547.12,731.49h8.2v8.2h-8.2ZM552.80,727.40h8.2v8.2h-8.2ZM558.47,722.60h8.2v8.2h-8.2ZM564.15,716.74h8.2v8.2h-8.2ZM569.82,710.00h8.2v8.2h-8.2ZM575.50,701.78h8.2v8.2h-8.2ZM581.17,692.22h8.2v8.2h-8.2ZM586.85,681.87h8.2v8.2h-8.2ZM592.52,670.41h8.2v8.2h-8.2ZM598.20,658.53h8.2v8.2h-8.2ZM603.87,646.56h8.2v8.2h-8.2ZM609.55,634.22h8.2v8.2h-8.2ZM615.22,621.43h8.2v8.2h-8.2ZM620.90,608.02h8.2v8.2h-8.2ZM626.57,594.15h8.2v8.2h-8.2ZM632.25,579.72h8.2v8.2h-8.2ZM637.92,564.84h8.2v8.2h-8.2ZM643.60,550.42h8.2v8.2h-8.2ZM649.27,536.49h8.2v8.2h-8.2ZM654.95,523.14h8.2v8.2h-8.2ZM660.62,510.32h8.2v8.2h-8.2ZM666.30,498.20h8.2v8.2h-8.2ZM671.97,488.53h8.2v8.2h-8.2ZM677.65,480.76h8.2v8.2h-8.2ZM683.32,474.03h8.2v8.2h-8.2ZM689.00,467.85h8.2v8.2h-8.2ZM694.67,462.34h8.2v8.2h-8.2ZM697.30,460.04h8.2v8.2h-8.2ZM700.10,457.76h8.2v8.2h-8.2ZM702.90,455.64h8.2v8.2h-8.2ZM705.70,453.65h8.2v8.2h-8.2ZM708.50,451.79h8.2v8.2h-8.2ZM711.30,449.98h8.2v8.2h-8.2ZM714.10,448.04h8.2v8.2h-8.2ZM716.90,446.25h8.2v8.2h-8.2ZM719.70,444.97h8.2v8.2h-8.2ZM721.30,444.60h8.2v8.2h-8.2Z"/>
<path d="M518.5,745.5L526.5,742.5L532.2,739.9L537.9,736.8L543.6,733.1L549.2,728.7L554.9,723.3L560.6,716.9L566.3,708.9L571.9,698.7L577.6,687.6L583.3,675.4L589.0,662.5L594.6,649.9L600.3,637.1L606.0,624.1L611.7,610.7L617.3,596.9L623.0,582.1L628.7,566.8L634.4,552.4L640.0,538.9L645.7,526.0L651.4,513.4L657.1,501.6L662.7,491.1L668.4,481.6L674.1,473.8L679.8,467.6L685.5,462.3L688.4,460.1L691.1,458.0L694.0,456.0L696.8,454.3L699.5,452.7L702.4,451.3L705.1,450.1L708.0,449.1L709.5,448.7" fill="none" stroke="#00ff00" stroke-width="2.5"/>
<path fill="none" stroke="#00ff00" stroke-width="2.6" d="M518.45,739.99L513.80,748.19L523.10,748.19ZM526.53,737.03L521.88,745.23L531.18,745.23ZM532.21,734.40L527.56,742.60L536.86,742.60ZM537.88,731.34L533.23,739.54L542.53,739.54ZM543.56,727.65L538.91,735.85L548.21,735.85ZM549.23,723.22L544.58,731.42L553.88,731.42ZM554.91,717.85L550.26,726.05L559.56,726.05ZM560.58,711.43L555.93,719.63L565.23,719.63ZM566.26,703.44L561.61,711.64L570.91,711.64ZM571.93,693.22L567.28,701.42L576.58,701.42ZM577.61,682.09L572.96,690.29L582.26,690.29ZM583.28,669.87L578.63,678.07L587.93,678.07ZM588.96,657.00L584.31,665.20L593.61,665.20ZM594.63,644.38L589.98,652.58L599.28,652.58ZM600.31,631.64L595.66,639.84L604.96,639.84ZM605.98,618.59L601.33,626.79L610.63,626.79ZM611.66,605.20L607.01,613.40L616.31,613.40ZM617.33,591.38L612.68,599.58L621.98,599.58ZM623.01,576.60L618.36,584.80L627.66,584.80ZM628.68,561.31L624.03,569.51L633.33,569.51ZM634.36,546.93L629.71,555.13L639.01,555.13ZM640.03,533.40L635.38,541.60L644.68,541.60ZM645.71,520.47L641.06,528.67L650.36,528.67ZM651.38,507.94L646.73,516.14L656.03,516.14ZM657.06,496.06L652.41,504.26L661.71,504.26ZM662.73,485.63L658.08,493.83L667.38,493.83ZM668.41,476.14L663.76,484.34L673.06,484.34ZM674.08,468.28L669.43,476.48L678.73,476.48ZM679.76,462.08L675.11,470.28L684.41,470.28ZM685.55,456.81L680.90,465.01L690.20,465.01ZM688.35,454.57L683.70,462.77L693.00,462.77ZM691.15,452.48L686.50,460.68L695.80,460.68ZM693.95,450.53L689.30,458.73L698.60,458.73ZM696.75,448.77L692.10,456.97L701.40,456.97ZM699.55,447.22L694.90,455.42L704.20,455.42ZM702.35,445.84L697.70,454.04L707.00,454.04ZM705.15,444.57L700.50,452.77L709.80,452.77ZM707.95,443.57L703.30,451.77L712.60,451.77ZM709.55,443.19L704.90,451.39L714.20,451.39Z"/>
<path d="M502.6,746.5L506.4,745.3L512.1,742.9L517.7,740.1L523.4,736.9L529.1,733.1L534.8,728.9L540.4,724.3L546.1,719.0L551.8,713.1L557.5,706.3L563.1,698.2L568.8,688.1L574.5,676.1L580.2,662.1L585.8,646.5L591.5,630.7L597.2,614.5L602.9,598.2L608.5,582.1L614.2,566.5L619.9,551.8L625.6,538.6L631.2,526.4L636.9,515.1L642.6,504.3L648.3,493.6L653.9,483.7L659.6,475.3L665.3,467.8L669.7,463.1L672.5,460.4L675.3,457.9L678.1,455.7L680.9,453.8L683.7,452.3L686.5,451.0L689.3,449.9L692.1,449.0L693.7,448.7" fill="none" stroke="#0000ff" stroke-width="2.5"/>
<g fill="none" stroke="#0000ff" stroke-width="2.7">
<circle cx="502.56" cy="746.51" r="4.75"/>
<circle cx="506.39" cy="745.29" r="4.75"/>
<circle cx="512.06" cy="742.90" r="4.75"/>
<circle cx="517.74" cy="740.08" r="4.75"/>
<circle cx="523.41" cy="736.85" r="4.75"/>
<circle cx="529.09" cy="733.06" r="4.75"/>
<circle cx="534.76" cy="728.88" r="4.75"/>
<circle cx="540.44" cy="724.26" r="4.75"/>
<circle cx="546.11" cy="719.02" r="4.75"/>
<circle cx="551.79" cy="713.07" r="4.75"/>
<circle cx="557.46" cy="706.28" r="4.75"/>
<circle cx="563.14" cy="698.21" r="4.75"/>
<circle cx="568.81" cy="688.10" r="4.75"/>
<circle cx="574.49" cy="676.14" r="4.75"/>
<circle cx="580.16" cy="662.12" r="4.75"/>
<circle cx="585.84" cy="646.48" r="4.75"/>
<circle cx="591.51" cy="630.69" r="4.75"/>
<circle cx="597.19" cy="614.51" r="4.75"/>
<circle cx="602.86" cy="598.21" r="4.75"/>
<circle cx="608.54" cy="582.09" r="4.75"/>
<circle cx="614.21" cy="566.48" r="4.75"/>
<circle cx="619.89" cy="551.79" r="4.75"/>
<circle cx="625.56" cy="538.59" r="4.75"/>
<circle cx="631.24" cy="526.38" r="4.75"/>
<circle cx="636.91" cy="515.07" r="4.75"/>
<circle cx="642.59" cy="504.33" r="4.75"/>
<circle cx="648.26" cy="493.64" r="4.75"/>
<circle cx="653.94" cy="483.72" r="4.75"/>
<circle cx="659.61" cy="475.26" r="4.75"/>
<circle cx="665.29" cy="467.82" r="4.75"/>
<circle cx="669.66" cy="463.13" r="4.75"/>
<circle cx="672.46" cy="460.41" r="4.75"/>
<circle cx="675.26" cy="457.90" r="4.75"/>
<circle cx="678.06" cy="455.67" r="4.75"/>
<circle cx="680.86" cy="453.80" r="4.75"/>
<circle cx="683.66" cy="452.32" r="4.75"/>
<circle cx="686.46" cy="451.00" r="4.75"/>
<circle cx="689.26" cy="449.88" r="4.75"/>
<circle cx="692.06" cy="449.03" r="4.75"/>
<circle cx="693.66" cy="448.71" r="4.75"/>
</g>
</g>
<g clip-path="url(#cp7)">
<path d="M839.0,750.5L852.2,750.4L859.1,750.2L866.1,749.8L873.0,749.3L880.0,748.6L886.9,747.7L893.9,746.3L900.8,744.4L907.8,741.0L914.7,736.7L921.7,730.8L928.6,722.8L935.6,708.8L942.5,690.9L949.5,664.5L956.4,634.9L963.4,601.3L970.3,574.5L977.3,561.2L984.2,537.8L991.2,523.6L998.1,512.1L1005.1,502.9L1012.0,497.1L1019.0,490.5L1025.9,483.7L1032.9,477.2L1039.8,471.2L1046.8,465.8L1053.7,461.0L1060.7,456.7L1067.5,449.5" fill="none" stroke="#000000" stroke-width="2.5"/>
<path fill="none" stroke="#000000" stroke-width="2.6" d="M833.46,750.49L841.66,745.84L841.66,755.14ZM846.68,750.38L854.88,745.73L854.88,755.03ZM853.63,750.16L861.83,745.51L861.83,754.81ZM860.58,749.78L868.78,745.13L868.78,754.43ZM867.53,749.26L875.73,744.61L875.73,753.91ZM874.48,748.65L882.68,744.00L882.68,753.30ZM881.43,747.70L889.63,743.05L889.63,752.35ZM888.38,746.31L896.58,741.66L896.58,750.96ZM895.33,744.35L903.53,739.70L903.53,749.00ZM902.28,741.03L910.48,736.38L910.48,745.68ZM909.23,736.71L917.43,732.06L917.43,741.36ZM916.18,730.81L924.38,726.16L924.38,735.46ZM923.13,722.76L931.33,718.11L931.33,727.41ZM930.08,708.82L938.28,704.17L938.28,713.47ZM937.03,690.91L945.23,686.26L945.23,695.56ZM943.98,664.55L952.18,659.90L952.18,669.20ZM950.93,634.93L959.13,630.28L959.13,639.58ZM957.88,601.33L966.08,596.68L966.08,605.98ZM964.83,574.52L973.03,569.87L973.03,579.17ZM971.78,561.19L979.98,556.54L979.98,565.84ZM978.73,537.78L986.93,533.13L986.93,542.43ZM985.68,523.61L993.88,518.96L993.88,528.26ZM992.63,512.12L1000.83,507.47L1000.83,516.77ZM999.58,502.89L1007.78,498.24L1007.78,507.54ZM1006.53,497.10L1014.73,492.45L1014.73,501.75ZM1013.48,490.46L1021.68,485.81L1021.68,495.11ZM1020.43,483.67L1028.63,479.02L1028.63,488.32ZM1027.38,477.16L1035.58,472.51L1035.58,481.81ZM1034.33,471.20L1042.53,466.55L1042.53,475.85ZM1041.28,465.82L1049.48,461.17L1049.48,470.47ZM1048.23,461.00L1056.43,456.35L1056.43,465.65ZM1055.18,456.68L1063.38,452.03L1063.38,461.33ZM1061.96,449.51L1070.16,444.86L1070.16,454.16Z"/>
<path d="M828.0,750.5L841.4,750.5L848.4,750.4L855.3,750.2L862.3,749.9L869.2,749.4L876.2,748.8L883.1,748.0L890.1,746.7L897.0,745.0L904.0,742.0L910.9,737.9L917.9,732.6L924.8,725.2L931.8,712.9L938.7,696.2L945.7,671.7L952.6,643.2L959.6,610.3L966.5,579.2L973.5,558.4L980.4,536.0L987.4,515.1L994.3,503.0L1001.3,494.4L1008.2,486.4L1015.2,479.7L1022.1,473.5L1029.1,467.7L1036.0,462.3L1043.0,457.6L1049.9,452.6L1056.5,448.8" fill="none" stroke="#ff0000" stroke-width="2.5"/>
<path fill="none" stroke="#ff0000" stroke-width="2.55" d="M823.95,746.43h8.2v8.2h-8.2ZM837.31,746.36h8.2v8.2h-8.2ZM844.26,746.30h8.2v8.2h-8.2ZM851.21,746.14h8.2v8.2h-8.2ZM858.16,745.79h8.2v8.2h-8.2ZM865.11,745.31h8.2v8.2h-8.2ZM872.06,744.72h8.2v8.2h-8.2ZM879.01,743.89h8.2v8.2h-8.2ZM885.96,742.61h8.2v8.2h-8.2ZM892.91,740.88h8.2v8.2h-8.2ZM899.86,737.92h8.2v8.2h-8.2ZM906.81,733.80h8.2v8.2h-8.2ZM913.76,728.46h8.2v8.2h-8.2ZM920.71,721.14h8.2v8.2h-8.2ZM927.66,708.79h8.2v8.2h-8.2ZM934.61,692.11h8.2v8.2h-8.2ZM941.56,667.64h8.2v8.2h-8.2ZM948.51,639.12h8.2v8.2h-8.2ZM955.46,606.16h8.2v8.2h-8.2ZM962.41,575.07h8.2v8.2h-8.2ZM969.36,554.30h8.2v8.2h-8.2ZM976.31,531.87h8.2v8.2h-8.2ZM983.26,511.01h8.2v8.2h-8.2ZM990.21,498.91h8.2v8.2h-8.2ZM997.16,490.31h8.2v8.2h-8.2ZM1004.11,482.28h8.2v8.2h-8.2ZM1011.06,475.59h8.2v8.2h-8.2ZM1018.01,469.41h8.2v8.2h-8.2ZM1024.96,463.62h8.2v8.2h-8.2ZM1031.91,458.25h8.2v8.2h-8.2ZM1038.86,453.48h8.2v8.2h-8.2ZM1045.81,448.47h8.2v8.2h-8.2ZM1052.45,444.71h8.2v8.2h-8.2Z"/>
<path d="M817.1,750.6L832.0,750.5L839.0,750.5L845.9,750.4L852.9,750.3L859.8,749.9L866.8,749.4L873.7,748.9L880.7,748.1L887.6,746.8L894.6,745.1L901.5,742.2L908.5,738.2L915.4,733.0L922.4,725.8L929.3,713.8L936.3,697.4L943.2,673.4L950.2,645.1L957.1,612.2L964.1,581.5L971.0,549.9L978.0,527.7L984.9,515.8L991.9,505.6L998.8,496.4L1005.8,487.8L1012.7,479.5L1019.7,472.0L1026.6,465.7L1033.6,459.9L1040.5,453.0L1045.6,448.7" fill="none" stroke="#00ff00" stroke-width="2.5"/>
<path fill="none" stroke="#00ff00" stroke-width="2.6" d="M817.12,745.06L812.47,753.26L821.77,753.26ZM832.03,745.00L827.38,753.20L836.68,753.20ZM838.98,744.96L834.33,753.16L843.63,753.16ZM845.93,744.91L841.28,753.11L850.58,753.11ZM852.88,744.75L848.23,752.95L857.53,752.95ZM859.83,744.42L855.18,752.62L864.48,752.62ZM866.78,743.94L862.13,752.14L871.43,752.14ZM873.73,743.36L869.08,751.56L878.38,751.56ZM880.68,742.55L876.03,750.75L885.33,750.75ZM887.63,741.31L882.98,749.51L892.28,749.51ZM894.58,739.61L889.93,747.81L899.23,747.81ZM901.53,736.74L896.88,744.94L906.18,744.94ZM908.48,732.68L903.83,740.88L913.13,740.88ZM915.43,727.45L910.78,735.65L920.08,735.65ZM922.38,720.28L917.73,728.48L927.03,728.48ZM929.33,708.34L924.68,716.54L933.98,716.54ZM936.28,691.88L931.63,700.08L940.93,700.08ZM943.23,667.95L938.58,676.15L947.88,676.15ZM950.18,639.59L945.53,647.79L954.83,647.79ZM957.13,606.75L952.48,614.95L961.78,614.95ZM964.08,576.00L959.43,584.20L968.73,584.20ZM971.03,544.38L966.38,552.58L975.68,552.58ZM977.98,522.17L973.33,530.37L982.63,530.37ZM984.93,510.32L980.28,518.52L989.58,518.52ZM991.88,500.13L987.23,508.33L996.53,508.33ZM998.83,490.93L994.18,499.13L1003.48,499.13ZM1005.78,482.32L1001.13,490.52L1010.43,490.52ZM1012.73,474.04L1008.08,482.24L1017.38,482.24ZM1019.68,466.52L1015.03,474.72L1024.33,474.72ZM1026.63,460.18L1021.98,468.38L1031.28,468.38ZM1033.58,454.41L1028.93,462.61L1038.23,462.61ZM1040.53,447.47L1035.88,455.67L1045.18,455.67ZM1045.62,443.19L1040.97,451.39L1050.27,451.39Z"/>
<path d="M806.1,750.6L821.2,750.5L828.2,750.5L835.1,750.5L842.1,750.4L849.0,750.3L856.0,750.0L863.0,749.5L869.9,749.0L876.9,748.2L883.8,747.1L890.8,745.5L897.7,742.9L904.6,739.0L911.6,734.1L918.5,727.3L925.5,716.7L932.5,700.8L939.4,678.7L946.4,650.8L953.3,618.6L960.2,587.7L967.2,552.8L974.1,524.0L981.1,504.6L988.0,491.9L995.0,482.5L1002.0,474.2L1008.9,467.0L1015.9,460.8L1022.8,455.5L1029.8,450.9L1034.7,448.7" fill="none" stroke="#0000ff" stroke-width="2.5"/>
<g fill="none" stroke="#0000ff" stroke-width="2.7">
<circle cx="806.15" cy="750.60" r="4.75"/>
<circle cx="821.25" cy="750.54" r="4.75"/>
<circle cx="828.20" cy="750.51" r="4.75"/>
<circle cx="835.15" cy="750.47" r="4.75"/>
<circle cx="842.10" cy="750.42" r="4.75"/>
<circle cx="849.05" cy="750.30" r="4.75"/>
<circle cx="856.00" cy="749.99" r="4.75"/>
<circle cx="862.95" cy="749.54" r="4.75"/>
<circle cx="869.90" cy="748.98" r="4.75"/>
<circle cx="876.85" cy="748.24" r="4.75"/>
<circle cx="883.80" cy="747.08" r="4.75"/>
<circle cx="890.75" cy="745.47" r="4.75"/>
<circle cx="897.70" cy="742.90" r="4.75"/>
<circle cx="904.65" cy="739.02" r="4.75"/>
<circle cx="911.60" cy="734.13" r="4.75"/>
<circle cx="918.55" cy="727.33" r="4.75"/>
<circle cx="925.50" cy="716.67" r="4.75"/>
<circle cx="932.45" cy="700.85" r="4.75"/>
<circle cx="939.40" cy="678.75" r="4.75"/>
<circle cx="946.35" cy="650.78" r="4.75"/>
<circle cx="953.30" cy="618.57" r="4.75"/>
<circle cx="960.25" cy="587.67" r="4.75"/>
<circle cx="967.20" cy="552.78" r="4.75"/>
<circle cx="974.15" cy="524.00" r="4.75"/>
<circle cx="981.10" cy="504.59" r="4.75"/>
<circle cx="988.05" cy="491.88" r="4.75"/>
<circle cx="995.00" cy="482.47" r="4.75"/>
<circle cx="1001.95" cy="474.16" r="4.75"/>
<circle cx="1008.90" cy="467.01" r="4.75"/>
<circle cx="1015.85" cy="460.84" r="4.75"/>
<circle cx="1022.80" cy="455.53" r="4.75"/>
<circle cx="1029.75" cy="450.90" r="4.75"/>
<circle cx="1034.65" cy="448.69" r="4.75"/>
</g>
</g>
<g clip-path="url(#cp8)">
<path d="M1145.1,750.6L1169.8,750.5L1176.5,750.3L1183.1,750.2L1189.8,750.0L1196.4,749.5L1203.1,748.6L1209.7,747.5L1216.4,746.1L1223.0,743.7L1229.7,740.5L1236.3,736.6L1243.0,731.7L1249.6,723.5L1256.3,709.3L1262.9,689.5L1269.6,661.8L1276.2,626.8L1282.9,582.7L1289.5,540.5L1296.2,508.0L1302.8,493.7L1309.5,477.9L1316.1,468.5L1322.8,465.5L1329.4,464.1L1336.1,462.3L1342.7,461.1L1349.4,459.3L1356.0,458.0L1362.7,456.6L1369.3,455.1L1376.0,453.2L1383.0,449.5" fill="none" stroke="#000000" stroke-width="2.5"/>
<path fill="none" stroke="#000000" stroke-width="2.6" d="M1139.64,750.64L1147.84,745.99L1147.84,755.29ZM1164.31,750.46L1172.51,745.81L1172.51,755.11ZM1170.96,750.35L1179.16,745.70L1179.16,755.00ZM1177.61,750.20L1185.81,745.55L1185.81,754.85ZM1184.26,749.98L1192.46,745.33L1192.46,754.63ZM1190.91,749.45L1199.11,744.80L1199.11,754.10ZM1197.56,748.61L1205.76,743.96L1205.76,753.26ZM1204.21,747.50L1212.41,742.85L1212.41,752.15ZM1210.86,746.13L1219.06,741.48L1219.06,750.78ZM1217.51,743.72L1225.71,739.07L1225.71,748.37ZM1224.16,740.46L1232.36,735.81L1232.36,745.11ZM1230.81,736.64L1239.01,731.99L1239.01,741.29ZM1237.46,731.66L1245.66,727.01L1245.66,736.31ZM1244.11,723.50L1252.31,718.85L1252.31,728.15ZM1250.76,709.33L1258.96,704.68L1258.96,713.98ZM1257.41,689.46L1265.61,684.81L1265.61,694.11ZM1264.06,661.77L1272.26,657.12L1272.26,666.42ZM1270.71,626.84L1278.91,622.19L1278.91,631.49ZM1277.36,582.74L1285.56,578.09L1285.56,587.39ZM1284.01,540.46L1292.21,535.81L1292.21,545.11ZM1290.66,507.99L1298.86,503.34L1298.86,512.64ZM1297.31,493.68L1305.51,489.03L1305.51,498.33ZM1303.96,477.94L1312.16,473.29L1312.16,482.59ZM1310.61,468.55L1318.81,463.90L1318.81,473.20ZM1317.26,465.54L1325.46,460.89L1325.46,470.19ZM1323.91,464.10L1332.11,459.45L1332.11,468.75ZM1330.56,462.34L1338.76,457.69L1338.76,466.99ZM1337.21,461.08L1345.41,456.43L1345.41,465.73ZM1343.86,459.30L1352.06,454.65L1352.06,463.95ZM1350.51,457.98L1358.71,453.33L1358.71,462.63ZM1357.16,456.55L1365.36,451.90L1365.36,461.20ZM1363.81,455.06L1372.01,450.41L1372.01,459.71ZM1370.46,453.16L1378.66,448.51L1378.66,457.81ZM1377.54,449.49L1385.74,444.84L1385.74,454.14Z"/>
<path d="M1135.4,750.7L1159.5,750.6L1166.2,750.5L1172.8,750.4L1179.5,750.3L1186.1,750.1L1192.8,749.8L1199.4,749.1L1206.0,748.1L1212.7,746.9L1219.3,745.2L1226.0,742.3L1232.7,738.9L1239.3,734.5L1246.0,728.8L1252.6,717.6L1259.2,701.3L1265.9,677.6L1272.5,647.4L1279.2,606.8L1285.8,563.6L1292.5,522.2L1299.2,497.9L1305.8,480.5L1312.5,470.2L1319.1,465.4L1325.8,462.7L1329.3,461.6L1332.1,460.8L1334.9,460.1L1337.7,459.4L1340.5,458.8L1343.3,458.1L1346.1,457.4L1348.9,456.7L1351.7,456.0L1354.5,455.4L1357.3,454.7L1360.1,454.0L1362.9,453.2L1365.7,452.4L1368.5,451.3L1371.3,449.5L1373.3,448.7" fill="none" stroke="#ff0000" stroke-width="2.5"/>
<path fill="none" stroke="#ff0000" stroke-width="2.55" d="M1131.31,746.57h8.2v8.2h-8.2ZM1155.40,746.47h8.2v8.2h-8.2ZM1162.05,746.41h8.2v8.2h-8.2ZM1168.70,746.32h8.2v8.2h-8.2ZM1175.35,746.19h8.2v8.2h-8.2ZM1182.00,746.02h8.2v8.2h-8.2ZM1188.65,745.69h8.2v8.2h-8.2ZM1195.30,745.01h8.2v8.2h-8.2ZM1201.95,744.04h8.2v8.2h-8.2ZM1208.60,742.82h8.2v8.2h-8.2ZM1215.25,741.10h8.2v8.2h-8.2ZM1221.90,738.22h8.2v8.2h-8.2ZM1228.55,734.78h8.2v8.2h-8.2ZM1235.20,730.43h8.2v8.2h-8.2ZM1241.85,724.69h8.2v8.2h-8.2ZM1248.50,713.46h8.2v8.2h-8.2ZM1255.15,697.25h8.2v8.2h-8.2ZM1261.80,673.54h8.2v8.2h-8.2ZM1268.45,643.28h8.2v8.2h-8.2ZM1275.10,602.70h8.2v8.2h-8.2ZM1281.75,559.51h8.2v8.2h-8.2ZM1288.40,518.08h8.2v8.2h-8.2ZM1295.05,493.84h8.2v8.2h-8.2ZM1301.70,476.42h8.2v8.2h-8.2ZM1308.35,466.07h8.2v8.2h-8.2ZM1315.00,461.33h8.2v8.2h-8.2ZM1321.65,458.61h8.2v8.2h-8.2ZM1325.21,457.49h8.2v8.2h-8.2ZM1328.01,456.72h8.2v8.2h-8.2ZM1330.81,456.01h8.2v8.2h-8.2ZM1333.61,455.34h8.2v8.2h-8.2ZM1336.41,454.69h8.2v8.2h-8.2ZM1339.21,454.01h8.2v8.2h-8.2ZM1342.01,453.29h8.2v8.2h-8.2ZM1344.81,452.59h8.2v8.2h-8.2ZM1347.61,451.94h8.2v8.2h-8.2ZM1350.41,451.30h8.2v8.2h-8.2ZM1353.21,450.64h8.2v8.2h-8.2ZM1356.01,449.93h8.2v8.2h-8.2ZM1358.81,449.13h8.2v8.2h-8.2ZM1361.61,448.25h8.2v8.2h-8.2ZM1364.41,447.16h8.2v8.2h-8.2ZM1367.21,445.44h8.2v8.2h-8.2ZM1369.21,444.60h8.2v8.2h-8.2Z"/>
<path d="M1125.7,750.7L1150.5,750.6L1157.2,750.6L1163.8,750.5L1170.5,750.5L1177.1,750.3L1183.8,750.2L1190.4,749.9L1197.1,749.4L1203.7,748.5L1210.4,747.4L1217.0,746.0L1223.7,743.4L1230.3,740.1L1237.0,736.2L1243.6,731.1L1250.3,722.3L1256.9,707.7L1263.6,687.0L1270.2,658.7L1276.9,622.6L1283.5,578.5L1290.2,536.7L1296.8,502.9L1303.5,481.3L1310.1,468.0L1316.8,462.1L1319.6,461.0L1322.4,460.1L1325.2,459.3L1328.0,458.5L1330.8,457.8L1333.6,457.1L1336.4,456.4L1339.2,455.7L1342.0,455.0L1344.8,454.4L1347.6,453.7L1350.4,452.9L1353.2,452.2L1356.0,451.3L1358.8,450.4L1361.6,449.3L1363.6,448.7" fill="none" stroke="#00ff00" stroke-width="2.5"/>
<path fill="none" stroke="#00ff00" stroke-width="2.6" d="M1125.68,745.19L1121.03,753.39L1130.33,753.39ZM1150.52,745.12L1145.87,753.32L1155.17,753.32ZM1157.17,745.09L1152.52,753.29L1161.82,753.29ZM1163.82,745.04L1159.17,753.24L1168.47,753.24ZM1170.47,744.95L1165.82,753.15L1175.12,753.15ZM1177.12,744.84L1172.47,753.04L1181.77,753.04ZM1183.77,744.68L1179.12,752.88L1188.42,752.88ZM1190.42,744.45L1185.77,752.65L1195.07,752.65ZM1197.07,743.88L1192.42,752.08L1201.72,752.08ZM1203.72,743.01L1199.07,751.21L1208.37,751.21ZM1210.37,741.87L1205.72,750.07L1215.02,750.07ZM1217.02,740.45L1212.37,748.65L1221.67,748.65ZM1223.67,737.92L1219.02,746.12L1228.32,746.12ZM1230.32,734.61L1225.67,742.81L1234.97,742.81ZM1236.97,730.69L1232.32,738.89L1241.62,738.89ZM1243.62,725.59L1238.97,733.79L1248.27,733.79ZM1250.27,716.78L1245.62,724.98L1254.92,724.98ZM1256.92,702.18L1252.27,710.38L1261.57,710.38ZM1263.57,681.49L1258.92,689.69L1268.22,689.69ZM1270.22,653.23L1265.57,661.43L1274.87,661.43ZM1276.87,617.07L1272.22,625.27L1281.52,625.27ZM1283.52,572.98L1278.87,581.18L1288.17,581.18ZM1290.17,531.17L1285.52,539.37L1294.82,539.37ZM1296.82,497.44L1292.17,505.64L1301.47,505.64ZM1303.47,475.78L1298.82,483.98L1308.12,483.98ZM1310.12,462.53L1305.47,470.73L1314.77,470.73ZM1316.77,456.63L1312.12,464.83L1321.42,464.83ZM1319.58,455.48L1314.93,463.68L1324.23,463.68ZM1322.38,454.59L1317.73,462.79L1327.03,462.79ZM1325.18,453.80L1320.53,462.00L1329.83,462.00ZM1327.98,452.99L1323.33,461.19L1332.63,461.19ZM1330.78,452.25L1326.13,460.45L1335.43,460.45ZM1333.58,451.57L1328.93,459.77L1338.23,459.77ZM1336.38,450.90L1331.73,459.10L1341.03,459.10ZM1339.18,450.23L1334.53,458.43L1343.83,458.43ZM1341.98,449.53L1337.33,457.73L1346.63,457.73ZM1344.78,448.85L1340.13,457.05L1349.43,457.05ZM1347.58,448.16L1342.93,456.36L1352.23,456.36ZM1350.38,447.44L1345.73,455.64L1355.03,455.64ZM1353.18,446.66L1348.53,454.86L1357.83,454.86ZM1355.98,445.81L1351.33,454.01L1360.63,454.01ZM1358.78,444.90L1354.13,453.10L1363.43,453.10ZM1361.58,443.79L1356.93,451.99L1366.23,451.99ZM1363.58,443.20L1358.93,451.40L1368.23,451.40Z"/>
<path d="M1115.9,750.7L1140.2,750.7L1146.9,750.6L1153.5,750.6L1160.2,750.6L1166.8,750.5L1173.5,750.4L1180.1,750.3L1186.8,750.1L1193.4,749.7L1200.1,749.0L1206.7,748.0L1213.4,746.8L1220.0,745.0L1226.7,742.0L1233.3,738.5L1240.0,734.0L1246.6,728.0L1253.3,716.2L1259.9,699.4L1266.6,674.9L1273.2,644.0L1279.9,602.3L1286.5,559.5L1293.2,519.4L1299.8,489.0L1306.5,469.3L1309.8,464.8L1312.6,462.3L1315.4,460.3L1318.2,458.9L1321.0,457.9L1323.8,457.1L1326.6,456.3L1329.4,455.6L1332.2,454.8L1335.0,454.1L1337.8,453.4L1340.6,452.7L1343.4,451.8L1346.2,450.9L1349.0,450.0L1351.8,449.1L1353.8,448.7" fill="none" stroke="#0000ff" stroke-width="2.5"/>
<g fill="none" stroke="#0000ff" stroke-width="2.7">
<circle cx="1115.91" cy="750.70" r="4.75"/>
<circle cx="1140.21" cy="750.66" r="4.75"/>
<circle cx="1146.86" cy="750.63" r="4.75"/>
<circle cx="1153.51" cy="750.61" r="4.75"/>
<circle cx="1160.16" cy="750.57" r="4.75"/>
<circle cx="1166.81" cy="750.50" r="4.75"/>
<circle cx="1173.46" cy="750.40" r="4.75"/>
<circle cx="1180.11" cy="750.27" r="4.75"/>
<circle cx="1186.76" cy="750.10" r="4.75"/>
<circle cx="1193.41" cy="749.74" r="4.75"/>
<circle cx="1200.06" cy="749.03" r="4.75"/>
<circle cx="1206.71" cy="748.03" r="4.75"/>
<circle cx="1213.36" cy="746.79" r="4.75"/>
<circle cx="1220.01" cy="744.95" r="4.75"/>
<circle cx="1226.66" cy="741.99" r="4.75"/>
<circle cx="1233.31" cy="738.51" r="4.75"/>
<circle cx="1239.96" cy="734.03" r="4.75"/>
<circle cx="1246.61" cy="728.03" r="4.75"/>
<circle cx="1253.26" cy="716.16" r="4.75"/>
<circle cx="1259.91" cy="699.41" r="4.75"/>
<circle cx="1266.56" cy="674.87" r="4.75"/>
<circle cx="1273.21" cy="643.97" r="4.75"/>
<circle cx="1279.86" cy="602.31" r="4.75"/>
<circle cx="1286.51" cy="559.46" r="4.75"/>
<circle cx="1293.16" cy="519.44" r="4.75"/>
<circle cx="1299.81" cy="489.02" r="4.75"/>
<circle cx="1306.46" cy="469.29" r="4.75"/>
<circle cx="1309.81" cy="464.79" r="4.75"/>
<circle cx="1312.61" cy="462.28" r="4.75"/>
<circle cx="1315.41" cy="460.34" r="4.75"/>
<circle cx="1318.21" cy="458.92" r="4.75"/>
<circle cx="1321.01" cy="457.91" r="4.75"/>
<circle cx="1323.81" cy="457.09" r="4.75"/>
<circle cx="1326.61" cy="456.29" r="4.75"/>
<circle cx="1329.41" cy="455.55" r="4.75"/>
<circle cx="1332.21" cy="454.84" r="4.75"/>
<circle cx="1335.01" cy="454.11" r="4.75"/>
<circle cx="1337.81" cy="453.39" r="4.75"/>
<circle cx="1340.61" cy="452.65" r="4.75"/>
<circle cx="1343.41" cy="451.82" r="4.75"/>
<circle cx="1346.21" cy="450.87" r="4.75"/>
<circle cx="1349.01" cy="449.99" r="4.75"/>
<circle cx="1351.81" cy="449.14" r="4.75"/>
<circle cx="1353.81" cy="448.70" r="4.75"/>
</g>
</g>
<g clip-path="url(#cp9)">
<path d="M1465.4,750.6L1469.7,750.6L1476.4,750.6L1483.2,750.5L1489.9,750.4L1496.6,750.2L1503.3,749.9L1510.1,749.6L1516.8,749.2L1523.5,748.4L1530.3,747.1L1537.0,745.4L1543.7,742.9L1550.5,738.9L1557.2,733.9L1563.9,725.7L1570.6,710.3L1577.4,687.4L1584.1,655.6L1590.8,616.4L1597.6,569.1L1604.3,519.8L1611.0,491.9L1617.8,481.0L1624.5,470.0L1631.2,461.9L1637.9,459.7L1644.7,458.5L1651.4,457.8L1658.1,457.2L1664.9,456.6L1671.6,456.2L1678.3,455.7L1685.0,454.8L1691.8,451.2L1694.4,449.5" fill="none" stroke="#000000" stroke-width="2.5"/>
<path fill="none" stroke="#000000" stroke-width="2.6" d="M1459.88,750.64L1468.08,745.99L1468.08,755.29ZM1464.19,750.62L1472.39,745.97L1472.39,755.27ZM1470.92,750.59L1479.12,745.94L1479.12,755.24ZM1477.65,750.50L1485.85,745.85L1485.85,755.15ZM1484.38,750.37L1492.58,745.72L1492.58,755.02ZM1491.11,750.17L1499.31,745.52L1499.31,754.82ZM1497.84,749.92L1506.04,745.27L1506.04,754.57ZM1504.57,749.61L1512.77,744.96L1512.77,754.26ZM1511.30,749.24L1519.50,744.59L1519.50,753.89ZM1518.03,748.45L1526.23,743.80L1526.23,753.10ZM1524.76,747.14L1532.96,742.49L1532.96,751.79ZM1531.49,745.42L1539.69,740.77L1539.69,750.07ZM1538.22,742.86L1546.42,738.21L1546.42,747.51ZM1544.95,738.89L1553.15,734.24L1553.15,743.54ZM1551.68,733.93L1559.88,729.28L1559.88,738.58ZM1558.41,725.69L1566.61,721.04L1566.61,730.34ZM1565.14,710.29L1573.34,705.64L1573.34,714.94ZM1571.87,687.41L1580.07,682.76L1580.07,692.06ZM1578.60,655.60L1586.80,650.95L1586.80,660.25ZM1585.33,616.38L1593.53,611.73L1593.53,621.03ZM1592.06,569.08L1600.26,564.43L1600.26,573.73ZM1598.79,519.80L1606.99,515.15L1606.99,524.45ZM1605.52,491.91L1613.72,487.26L1613.72,496.56ZM1612.25,481.02L1620.45,476.37L1620.45,485.67ZM1618.98,470.05L1627.18,465.40L1627.18,474.70ZM1625.71,461.90L1633.91,457.25L1633.91,466.55ZM1632.44,459.69L1640.64,455.04L1640.64,464.34ZM1639.17,458.55L1647.37,453.90L1647.37,463.20ZM1645.90,457.81L1654.10,453.16L1654.10,462.46ZM1652.63,457.19L1660.83,452.54L1660.83,461.84ZM1659.36,456.59L1667.56,451.94L1667.56,461.24ZM1666.09,456.19L1674.29,451.54L1674.29,460.84ZM1672.82,455.70L1681.02,451.05L1681.02,460.35ZM1679.55,454.76L1687.75,450.11L1687.75,459.41ZM1686.28,451.16L1694.48,446.51L1694.48,455.81ZM1688.88,449.50L1697.08,444.85L1697.08,454.15Z"/>
<path d="M1455.8,750.7L1459.3,750.7L1466.0,750.6L1472.7,750.6L1479.5,750.6L1486.2,750.4L1492.9,750.3L1499.6,750.1L1506.4,749.8L1513.1,749.5L1519.8,749.0L1526.6,747.9L1533.3,746.4L1540.0,744.5L1546.8,741.2L1553.5,736.8L1560.2,730.9L1566.9,719.4L1573.7,701.1L1580.4,673.8L1587.1,639.1L1593.9,595.7L1600.6,546.6L1607.3,501.9L1614.0,484.3L1620.8,471.9L1627.5,463.4L1634.2,459.7L1641.0,458.5L1647.7,457.8L1652.8,457.4L1655.6,457.2L1658.4,457.1L1661.2,456.9L1664.0,456.9L1666.8,456.8L1669.6,456.8L1672.4,456.7L1675.2,456.6L1678.0,456.4L1680.8,454.6L1683.6,450.2L1684.8,448.7" fill="none" stroke="#ff0000" stroke-width="2.5"/>
<path fill="none" stroke="#ff0000" stroke-width="2.55" d="M1451.68,746.57h8.2v8.2h-8.2ZM1455.16,746.56h8.2v8.2h-8.2ZM1461.89,746.54h8.2v8.2h-8.2ZM1468.62,746.51h8.2v8.2h-8.2ZM1475.35,746.46h8.2v8.2h-8.2ZM1482.08,746.35h8.2v8.2h-8.2ZM1488.81,746.19h8.2v8.2h-8.2ZM1495.54,745.97h8.2v8.2h-8.2ZM1502.27,745.69h8.2v8.2h-8.2ZM1509.00,745.35h8.2v8.2h-8.2ZM1515.73,744.85h8.2v8.2h-8.2ZM1522.46,743.82h8.2v8.2h-8.2ZM1529.19,742.31h8.2v8.2h-8.2ZM1535.92,740.37h8.2v8.2h-8.2ZM1542.65,737.11h8.2v8.2h-8.2ZM1549.38,732.71h8.2v8.2h-8.2ZM1556.11,726.81h8.2v8.2h-8.2ZM1562.84,715.30h8.2v8.2h-8.2ZM1569.57,697.05h8.2v8.2h-8.2ZM1576.30,669.65h8.2v8.2h-8.2ZM1583.03,635.00h8.2v8.2h-8.2ZM1589.76,591.56h8.2v8.2h-8.2ZM1596.49,542.47h8.2v8.2h-8.2ZM1603.22,497.76h8.2v8.2h-8.2ZM1609.95,480.23h8.2v8.2h-8.2ZM1616.68,467.82h8.2v8.2h-8.2ZM1623.41,459.30h8.2v8.2h-8.2ZM1630.14,455.59h8.2v8.2h-8.2ZM1636.87,454.44h8.2v8.2h-8.2ZM1643.60,453.68h8.2v8.2h-8.2ZM1648.68,453.30h8.2v8.2h-8.2ZM1651.48,453.13h8.2v8.2h-8.2ZM1654.28,452.98h8.2v8.2h-8.2ZM1657.08,452.85h8.2v8.2h-8.2ZM1659.88,452.76h8.2v8.2h-8.2ZM1662.68,452.71h8.2v8.2h-8.2ZM1665.48,452.67h8.2v8.2h-8.2ZM1668.28,452.61h8.2v8.2h-8.2ZM1671.08,452.51h8.2v8.2h-8.2ZM1673.88,452.35h8.2v8.2h-8.2ZM1676.68,450.49h8.2v8.2h-8.2ZM1679.48,446.08h8.2v8.2h-8.2ZM1680.68,444.61h8.2v8.2h-8.2Z"/>
<path d="M1446.2,750.7L1450.2,750.7L1456.9,750.7L1463.6,750.6L1470.4,750.6L1477.1,750.6L1483.8,750.5L1490.6,750.3L1497.3,750.1L1504.0,749.9L1510.8,749.6L1517.5,749.2L1524.2,748.3L1530.9,747.0L1537.7,745.2L1544.4,742.5L1551.1,738.4L1557.9,733.3L1564.6,724.4L1571.3,708.4L1578.0,684.5L1584.8,652.0L1591.5,611.8L1598.2,564.0L1605.0,515.7L1611.7,487.1L1618.4,472.0L1625.2,463.0L1631.9,458.8L1638.6,457.4L1643.2,456.8L1646.0,456.6L1648.8,456.4L1651.6,456.3L1654.4,456.2L1657.2,456.1L1660.0,456.0L1662.8,455.9L1665.6,455.7L1668.4,455.4L1671.2,453.3L1674.0,449.8L1675.2,448.7" fill="none" stroke="#00ff00" stroke-width="2.5"/>
<path fill="none" stroke="#00ff00" stroke-width="2.6" d="M1446.17,745.19L1441.52,753.39L1450.82,753.39ZM1450.18,745.19L1445.53,753.39L1454.83,753.39ZM1456.91,745.17L1452.26,753.37L1461.56,753.37ZM1463.64,745.15L1458.99,753.35L1468.29,753.35ZM1470.37,745.12L1465.72,753.32L1475.02,753.32ZM1477.10,745.08L1472.45,753.28L1481.75,753.28ZM1483.83,744.99L1479.18,753.19L1488.48,753.19ZM1490.56,744.85L1485.91,753.05L1495.21,753.05ZM1497.29,744.65L1492.64,752.85L1501.94,752.85ZM1504.02,744.39L1499.37,752.59L1508.67,752.59ZM1510.75,744.07L1506.10,752.27L1515.40,752.27ZM1517.48,743.68L1512.83,751.88L1522.13,751.88ZM1524.21,742.84L1519.56,751.04L1528.86,751.04ZM1530.94,741.48L1526.29,749.68L1535.59,749.68ZM1537.67,739.72L1533.02,747.92L1542.32,747.92ZM1544.40,737.01L1539.75,745.21L1549.05,745.21ZM1551.13,732.94L1546.48,741.14L1555.78,741.14ZM1557.86,727.81L1553.21,736.01L1562.51,736.01ZM1564.59,718.90L1559.94,727.10L1569.24,727.10ZM1571.32,702.87L1566.67,711.07L1575.97,711.07ZM1578.05,678.98L1573.40,687.18L1582.70,687.18ZM1584.78,646.53L1580.13,654.73L1589.43,654.73ZM1591.51,606.34L1586.86,614.54L1596.16,614.54ZM1598.24,558.47L1593.59,566.67L1602.89,566.67ZM1604.97,510.21L1600.32,518.41L1609.62,518.41ZM1611.70,481.64L1607.05,489.84L1616.35,489.84ZM1618.43,466.52L1613.78,474.72L1623.08,474.72ZM1625.16,457.50L1620.51,465.70L1629.81,465.70ZM1631.89,453.27L1627.24,461.47L1636.54,461.47ZM1638.62,451.87L1633.97,460.07L1643.27,460.07ZM1643.17,451.31L1638.52,459.51L1647.82,459.51ZM1645.97,451.06L1641.32,459.26L1650.62,459.26ZM1648.77,450.88L1644.12,459.08L1653.42,459.08ZM1651.57,450.75L1646.92,458.95L1656.22,458.95ZM1654.37,450.67L1649.72,458.87L1659.02,458.87ZM1657.17,450.61L1652.52,458.81L1661.82,458.81ZM1659.97,450.53L1655.32,458.73L1664.62,458.73ZM1662.77,450.41L1658.12,458.61L1667.42,458.61ZM1665.57,450.23L1660.92,458.43L1670.22,458.43ZM1668.37,449.92L1663.72,458.12L1673.02,458.12ZM1671.17,447.80L1666.52,456.00L1675.82,456.00ZM1673.97,444.31L1669.32,452.51L1678.62,452.51ZM1675.17,443.21L1670.52,451.41L1679.82,451.41Z"/>
<path d="M1436.5,750.7L1446.5,750.7L1453.2,750.7L1459.9,750.7L1466.7,750.6L1473.4,750.6L1480.1,750.5L1486.8,750.4L1493.6,750.3L1500.3,750.0L1507.0,749.8L1513.8,749.4L1520.5,748.9L1527.2,747.8L1534.0,746.2L1540.7,744.2L1547.4,740.8L1554.2,736.3L1560.9,730.1L1567.6,717.9L1574.3,698.9L1581.1,670.6L1587.8,635.2L1594.5,591.0L1601.3,541.8L1608.0,499.1L1614.7,475.0L1621.5,463.2L1628.2,458.9L1633.5,457.1L1636.3,456.6L1639.1,456.2L1641.9,455.9L1644.7,455.5L1647.5,455.1L1650.3,454.7L1653.1,454.3L1655.9,453.7L1658.7,452.9L1661.5,451.3L1664.3,449.3L1665.5,448.7" fill="none" stroke="#0000ff" stroke-width="2.5"/>
<g fill="none" stroke="#0000ff" stroke-width="2.7">
<circle cx="1436.53" cy="750.70" r="4.75"/>
<circle cx="1446.47" cy="750.69" r="4.75"/>
<circle cx="1453.20" cy="750.68" r="4.75"/>
<circle cx="1459.93" cy="750.66" r="4.75"/>
<circle cx="1466.66" cy="750.63" r="4.75"/>
<circle cx="1473.39" cy="750.60" r="4.75"/>
<circle cx="1480.12" cy="750.55" r="4.75"/>
<circle cx="1486.85" cy="750.44" r="4.75"/>
<circle cx="1493.58" cy="750.27" r="4.75"/>
<circle cx="1500.31" cy="750.04" r="4.75"/>
<circle cx="1507.04" cy="749.76" r="4.75"/>
<circle cx="1513.77" cy="749.41" r="4.75"/>
<circle cx="1520.50" cy="748.87" r="4.75"/>
<circle cx="1527.23" cy="747.79" r="4.75"/>
<circle cx="1533.96" cy="746.23" r="4.75"/>
<circle cx="1540.69" cy="744.21" r="4.75"/>
<circle cx="1547.42" cy="740.81" r="4.75"/>
<circle cx="1554.15" cy="736.34" r="4.75"/>
<circle cx="1560.88" cy="730.14" r="4.75"/>
<circle cx="1567.61" cy="717.87" r="4.75"/>
<circle cx="1574.34" cy="698.92" r="4.75"/>
<circle cx="1581.07" cy="670.59" r="4.75"/>
<circle cx="1587.80" cy="635.24" r="4.75"/>
<circle cx="1594.53" cy="590.98" r="4.75"/>
<circle cx="1601.26" cy="541.84" r="4.75"/>
<circle cx="1607.99" cy="499.12" r="4.75"/>
<circle cx="1614.72" cy="474.95" r="4.75"/>
<circle cx="1621.45" cy="463.22" r="4.75"/>
<circle cx="1628.18" cy="458.89" r="4.75"/>
<circle cx="1633.53" cy="457.13" r="4.75"/>
<circle cx="1636.33" cy="456.61" r="4.75"/>
<circle cx="1639.13" cy="456.21" r="4.75"/>
<circle cx="1641.93" cy="455.86" r="4.75"/>
<circle cx="1644.73" cy="455.51" r="4.75"/>
<circle cx="1647.53" cy="455.08" r="4.75"/>
<circle cx="1650.33" cy="454.68" r="4.75"/>
<circle cx="1653.13" cy="454.25" r="4.75"/>
<circle cx="1655.93" cy="453.71" r="4.75"/>
<circle cx="1658.73" cy="452.89" r="4.75"/>
<circle cx="1661.53" cy="451.28" r="4.75"/>
<circle cx="1664.33" cy="449.28" r="4.75"/>
<circle cx="1665.53" cy="448.69" r="4.75"/>
</g>
</g>
<g clip-path="url(#cp10)">
<path d="M255.9,1073.9L259.7,1071.4L264.3,1067.8L269.0,1063.9L273.6,1059.9L278.3,1055.8L282.9,1051.3L287.6,1046.5L292.2,1041.2L296.9,1035.1L301.5,1028.3L306.2,1020.7L310.8,1012.5L315.5,1003.0L320.1,992.6L324.8,982.1L329.4,971.7L334.1,961.0L338.7,950.2L343.4,939.2L348.0,927.9L352.7,916.6L357.3,905.7L362.0,895.2L366.6,885.1L371.3,875.7L375.9,866.9L380.6,858.6L385.2,851.1L389.9,844.2L394.5,837.8L399.2,832.0L403.8,826.6L408.5,821.9L413.1,817.7" fill="none" stroke="#000000" stroke-width="2.5"/>
<path fill="none" stroke="#000000" stroke-width="2.6" d="M250.38,1073.90L258.58,1069.25L258.58,1078.55ZM254.17,1071.40L262.37,1066.75L262.37,1076.05ZM258.82,1067.84L267.02,1063.19L267.02,1072.49ZM263.47,1063.94L271.67,1059.29L271.67,1068.59ZM268.12,1059.91L276.32,1055.26L276.32,1064.56ZM272.77,1055.75L280.97,1051.10L280.97,1060.40ZM277.42,1051.32L285.62,1046.67L285.62,1055.97ZM282.07,1046.49L290.27,1041.84L290.27,1051.14ZM286.72,1041.15L294.92,1036.50L294.92,1045.80ZM291.37,1035.11L299.57,1030.46L299.57,1039.76ZM296.02,1028.28L304.22,1023.63L304.22,1032.93ZM300.67,1020.75L308.87,1016.10L308.87,1025.40ZM305.32,1012.48L313.52,1007.83L313.52,1017.13ZM309.97,1002.97L318.17,998.32L318.17,1007.62ZM314.62,992.64L322.82,987.99L322.82,997.29ZM319.27,982.13L327.47,977.48L327.47,986.78ZM323.92,971.70L332.12,967.05L332.12,976.35ZM328.57,961.03L336.77,956.38L336.77,965.68ZM333.22,950.19L341.42,945.54L341.42,954.84ZM337.87,939.22L346.07,934.57L346.07,943.87ZM342.52,927.90L350.72,923.25L350.72,932.55ZM347.17,916.56L355.37,911.91L355.37,921.21ZM351.82,905.71L360.02,901.06L360.02,910.36ZM356.47,895.20L364.67,890.55L364.67,899.85ZM361.12,885.10L369.32,880.45L369.32,889.75ZM365.77,875.71L373.97,871.06L373.97,880.36ZM370.42,866.88L378.62,862.23L378.62,871.53ZM375.07,858.63L383.27,853.98L383.27,863.28ZM379.72,851.09L387.92,846.44L387.92,855.74ZM384.37,844.15L392.57,839.50L392.57,848.80ZM389.02,837.77L397.22,833.12L397.22,842.42ZM393.67,831.97L401.87,827.32L401.87,836.62ZM398.32,826.63L406.52,821.98L406.52,831.28ZM402.97,821.89L411.17,817.24L411.17,826.54ZM407.62,817.67L415.82,813.02L415.82,822.32Z"/>
<path d="M232.5,1074.5L238.5,1069.6L243.2,1065.2L247.8,1060.5L252.5,1055.5L257.1,1050.2L261.8,1044.5L266.4,1038.3L271.1,1031.7L275.7,1024.6L280.4,1017.1L285.0,1009.2L289.7,1000.8L294.3,992.1L299.0,982.9L303.6,973.1L308.3,962.8L312.9,952.4L317.6,942.0L322.2,931.3L326.9,920.6L331.5,910.1L336.2,899.7L340.8,889.4L345.5,879.5L350.1,869.8L354.8,860.5L359.4,852.2L364.1,844.8L368.7,838.2L373.4,832.3L378.0,827.0L381.4,823.4L384.2,820.7L387.0,818.2L389.8,815.8L392.6,813.5L395.4,811.7L397.4,811.0" fill="none" stroke="#ff0000" stroke-width="2.5"/>
<path fill="none" stroke="#ff0000" stroke-width="2.55" d="M228.42,1070.37h8.2v8.2h-8.2ZM234.41,1065.49h8.2v8.2h-8.2ZM239.06,1061.07h8.2v8.2h-8.2ZM243.71,1056.38h8.2v8.2h-8.2ZM248.36,1051.42h8.2v8.2h-8.2ZM253.01,1046.08h8.2v8.2h-8.2ZM257.66,1040.35h8.2v8.2h-8.2ZM262.31,1034.23h8.2v8.2h-8.2ZM266.96,1027.59h8.2v8.2h-8.2ZM271.61,1020.48h8.2v8.2h-8.2ZM276.26,1012.99h8.2v8.2h-8.2ZM280.91,1005.11h8.2v8.2h-8.2ZM285.56,996.75h8.2v8.2h-8.2ZM290.21,987.95h8.2v8.2h-8.2ZM294.86,978.76h8.2v8.2h-8.2ZM299.51,968.96h8.2v8.2h-8.2ZM304.16,958.71h8.2v8.2h-8.2ZM308.81,948.30h8.2v8.2h-8.2ZM313.46,937.86h8.2v8.2h-8.2ZM318.11,927.20h8.2v8.2h-8.2ZM322.76,916.50h8.2v8.2h-8.2ZM327.41,905.98h8.2v8.2h-8.2ZM332.06,895.58h8.2v8.2h-8.2ZM336.71,885.33h8.2v8.2h-8.2ZM341.36,875.44h8.2v8.2h-8.2ZM346.01,865.71h8.2v8.2h-8.2ZM350.66,856.36h8.2v8.2h-8.2ZM355.31,848.05h8.2v8.2h-8.2ZM359.96,840.74h8.2v8.2h-8.2ZM364.61,834.12h8.2v8.2h-8.2ZM369.26,828.23h8.2v8.2h-8.2ZM373.91,822.86h8.2v8.2h-8.2ZM377.32,819.26h8.2v8.2h-8.2ZM380.12,816.56h8.2v8.2h-8.2ZM382.92,814.12h8.2v8.2h-8.2ZM385.72,811.69h8.2v8.2h-8.2ZM388.52,809.38h8.2v8.2h-8.2ZM391.32,807.61h8.2v8.2h-8.2ZM393.32,806.90h8.2v8.2h-8.2Z"/>
<path d="M209.1,1074.7L213.6,1071.3L218.3,1067.3L222.9,1063.0L227.6,1058.1L232.2,1052.6L236.9,1046.9L241.5,1041.1L246.2,1035.1L250.8,1028.9L255.5,1022.3L260.1,1015.2L264.8,1007.7L269.4,999.7L274.1,991.1L278.7,981.8L283.4,971.8L288.0,961.4L292.7,950.6L297.3,939.1L302.0,927.4L306.6,915.5L311.3,903.5L315.9,891.8L320.6,880.9L325.2,870.5L329.9,860.8L334.5,852.2L339.2,844.2L343.8,837.1L348.5,830.9L353.1,825.2L358.0,820.2L360.8,818.0L363.6,816.0L366.4,814.3L369.2,812.9L372.0,811.6L374.0,811.0" fill="none" stroke="#00ff00" stroke-width="2.5"/>
<path fill="none" stroke="#00ff00" stroke-width="2.6" d="M209.13,1069.24L204.48,1077.44L213.78,1077.44ZM213.63,1065.83L208.98,1074.03L218.28,1074.03ZM218.28,1061.84L213.63,1070.04L222.93,1070.04ZM222.93,1057.49L218.28,1065.69L227.58,1065.69ZM227.58,1052.57L222.93,1060.77L232.23,1060.77ZM232.23,1047.11L227.58,1055.31L236.88,1055.31ZM236.88,1041.37L232.23,1049.57L241.53,1049.57ZM241.53,1035.56L236.88,1043.76L246.18,1043.76ZM246.18,1029.61L241.53,1037.81L250.83,1037.81ZM250.83,1023.39L246.18,1031.59L255.48,1031.59ZM255.48,1016.77L250.83,1024.97L260.13,1024.97ZM260.13,1009.71L255.48,1017.91L264.78,1017.91ZM264.78,1002.19L260.13,1010.39L269.43,1010.39ZM269.43,994.17L264.78,1002.37L274.08,1002.37ZM274.08,985.60L269.43,993.80L278.73,993.80ZM278.73,976.27L274.08,984.47L283.38,984.47ZM283.38,966.30L278.73,974.50L288.03,974.50ZM288.03,955.89L283.38,964.09L292.68,964.09ZM292.68,945.05L288.03,953.25L297.33,953.25ZM297.33,933.57L292.68,941.77L301.98,941.77ZM301.98,921.86L297.33,930.06L306.63,930.06ZM306.63,910.04L301.98,918.24L311.28,918.24ZM311.28,897.96L306.63,906.16L315.93,906.16ZM315.93,886.28L311.28,894.48L320.58,894.48ZM320.58,875.40L315.93,883.60L325.23,883.60ZM325.23,864.96L320.58,873.16L329.88,873.16ZM329.88,855.34L325.23,863.54L334.53,863.54ZM334.53,846.70L329.88,854.90L339.18,854.90ZM339.18,838.73L334.53,846.93L343.83,846.93ZM343.83,831.62L339.18,839.82L348.48,839.82ZM348.48,825.38L343.83,833.58L353.13,833.58ZM353.13,819.73L348.48,827.93L357.78,827.93ZM358.03,814.75L353.38,822.95L362.68,822.95ZM360.83,812.46L356.18,820.66L365.48,820.66ZM363.63,810.48L358.98,818.68L368.28,818.68ZM366.43,808.80L361.78,817.00L371.08,817.00ZM369.23,807.35L364.58,815.55L373.88,815.55ZM372.03,806.11L367.38,814.31L376.68,814.31ZM374.03,805.49L369.38,813.69L378.68,813.69Z"/>
<path d="M185.7,1078.9L192.5,1072.1L197.1,1067.1L201.8,1062.0L206.4,1056.8L211.1,1051.3L215.7,1045.5L220.4,1039.6L225.0,1033.1L229.7,1026.1L234.3,1018.6L239.0,1010.8L243.6,1002.9L248.3,994.7L252.9,985.9L257.6,976.1L262.2,965.5L266.9,954.9L271.5,944.2L276.2,933.3L280.8,922.1L285.5,910.9L290.1,899.9L294.8,889.0L299.4,878.3L304.1,867.9L308.7,858.1L313.4,849.3L318.0,841.3L322.7,834.6L327.3,828.5L332.0,823.3L334.6,820.8L337.4,818.4L340.2,816.3L343.0,814.5L345.8,812.9L348.6,811.6L350.6,811.0" fill="none" stroke="#0000ff" stroke-width="2.5"/>
<g fill="none" stroke="#0000ff" stroke-width="2.7">
<circle cx="185.68" cy="1078.92" r="4.75"/>
<circle cx="192.48" cy="1072.07" r="4.75"/>
<circle cx="197.13" cy="1067.09" r="4.75"/>
<circle cx="201.78" cy="1062.01" r="4.75"/>
<circle cx="206.43" cy="1056.76" r="4.75"/>
<circle cx="211.08" cy="1051.27" r="4.75"/>
<circle cx="215.73" cy="1045.54" r="4.75"/>
<circle cx="220.38" cy="1039.55" r="4.75"/>
<circle cx="225.03" cy="1033.14" r="4.75"/>
<circle cx="229.68" cy="1026.14" r="4.75"/>
<circle cx="234.33" cy="1018.61" r="4.75"/>
<circle cx="238.98" cy="1010.80" r="4.75"/>
<circle cx="243.63" cy="1002.91" r="4.75"/>
<circle cx="248.28" cy="994.73" r="4.75"/>
<circle cx="252.93" cy="985.94" r="4.75"/>
<circle cx="257.58" cy="976.09" r="4.75"/>
<circle cx="262.23" cy="965.49" r="4.75"/>
<circle cx="266.88" cy="954.91" r="4.75"/>
<circle cx="271.53" cy="944.21" r="4.75"/>
<circle cx="276.18" cy="933.32" r="4.75"/>
<circle cx="280.83" cy="922.15" r="4.75"/>
<circle cx="285.48" cy="910.93" r="4.75"/>
<circle cx="290.13" cy="899.89" r="4.75"/>
<circle cx="294.78" cy="888.96" r="4.75"/>
<circle cx="299.43" cy="878.34" r="4.75"/>
<circle cx="304.08" cy="867.86" r="4.75"/>
<circle cx="308.73" cy="858.14" r="4.75"/>
<circle cx="313.38" cy="849.31" r="4.75"/>
<circle cx="318.03" cy="841.34" r="4.75"/>
<circle cx="322.68" cy="834.56" r="4.75"/>
<circle cx="327.33" cy="828.49" r="4.75"/>
<circle cx="331.98" cy="823.27" r="4.75"/>
<circle cx="334.58" cy="820.79" r="4.75"/>
<circle cx="337.38" cy="818.40" r="4.75"/>
<circle cx="340.18" cy="816.29" r="4.75"/>
<circle cx="342.98" cy="814.51" r="4.75"/>
<circle cx="345.78" cy="812.92" r="4.75"/>
<circle cx="348.58" cy="811.58" r="4.75"/>
<circle cx="350.58" cy="811.00" r="4.75"/>
</g>
</g>
<g clip-path="url(#cp11)">
<path d="M550.1,1108.5L554.3,1107.3L560.0,1104.9L565.7,1101.8L571.4,1098.4L577.0,1094.7L582.7,1090.1L588.4,1084.9L594.1,1079.3L599.7,1073.2L605.4,1066.4L611.1,1059.1L616.8,1051.0L622.4,1042.3L628.1,1033.3L633.8,1024.0L639.5,1014.3L645.1,1004.7L650.8,995.2L656.5,985.4L662.2,974.8L667.8,963.0L673.5,950.7L679.2,938.5L684.9,926.2L690.5,913.8L696.2,901.5L701.9,889.1L707.6,876.8L713.2,864.6L718.9,852.4L724.6,841.1L730.3,828.6L735.9,817.3" fill="none" stroke="#000000" stroke-width="2.5"/>
<path fill="none" stroke="#000000" stroke-width="2.6" d="M544.62,1108.48L552.82,1103.83L552.82,1113.13ZM548.84,1107.30L557.04,1102.65L557.04,1111.95ZM554.52,1104.91L562.72,1100.26L562.72,1109.56ZM560.19,1101.85L568.39,1097.20L568.39,1106.50ZM565.87,1098.40L574.07,1093.75L574.07,1103.05ZM571.54,1094.66L579.74,1090.01L579.74,1099.31ZM577.22,1090.09L585.42,1085.44L585.42,1094.74ZM582.89,1084.90L591.09,1080.25L591.09,1089.55ZM588.57,1079.33L596.77,1074.68L596.77,1083.98ZM594.24,1073.20L602.44,1068.55L602.44,1077.85ZM599.92,1066.40L608.12,1061.75L608.12,1071.05ZM605.59,1059.08L613.79,1054.43L613.79,1063.73ZM611.27,1050.97L619.47,1046.32L619.47,1055.62ZM616.94,1042.25L625.14,1037.60L625.14,1046.90ZM622.62,1033.28L630.82,1028.63L630.82,1037.93ZM628.29,1023.95L636.49,1019.30L636.49,1028.60ZM633.97,1014.32L642.17,1009.67L642.17,1018.97ZM639.64,1004.70L647.84,1000.05L647.84,1009.35ZM645.32,995.21L653.52,990.56L653.52,999.86ZM650.99,985.45L659.19,980.80L659.19,990.10ZM656.67,974.78L664.87,970.13L664.87,979.43ZM662.34,963.00L670.54,958.35L670.54,967.65ZM668.02,950.67L676.22,946.02L676.22,955.32ZM673.69,938.46L681.89,933.81L681.89,943.11ZM679.37,926.15L687.57,921.50L687.57,930.80ZM685.04,913.81L693.24,909.16L693.24,918.46ZM690.72,901.47L698.92,896.82L698.92,906.12ZM696.39,889.12L704.59,884.47L704.59,893.77ZM702.07,876.82L710.27,872.17L710.27,881.47ZM707.74,864.64L715.94,859.99L715.94,869.29ZM713.42,852.43L721.62,847.78L721.62,857.08ZM719.09,841.05L727.29,836.40L727.29,845.70ZM724.77,828.60L732.97,823.95L732.97,833.25ZM730.44,817.28L738.64,812.63L738.64,821.93Z"/>
<path d="M534.3,1109.5L539.9,1108.3L545.5,1106.4L551.2,1104.0L556.9,1101.4L562.6,1098.5L568.2,1094.9L573.9,1090.5L579.6,1085.4L585.3,1078.9L591.0,1071.0L596.6,1062.4L602.3,1052.7L608.0,1042.0L613.6,1030.8L619.3,1018.8L625.0,1006.2L630.7,993.7L636.4,981.5L642.0,969.4L647.7,957.0L653.4,944.5L659.0,931.9L664.7,919.4L670.4,906.9L676.1,894.4L681.8,881.9L687.4,869.8L693.1,858.1L698.8,847.1L701.4,842.6L704.2,838.4L707.0,834.6L709.8,831.0L712.6,827.5L715.4,823.9L718.2,819.7L721.0,815.1L723.8,811.7L725.4,811.0" fill="none" stroke="#ff0000" stroke-width="2.5"/>
<path fill="none" stroke="#ff0000" stroke-width="2.55" d="M530.20,1105.38h8.2v8.2h-8.2ZM535.77,1104.15h8.2v8.2h-8.2ZM541.45,1102.28h8.2v8.2h-8.2ZM547.12,1099.95h8.2v8.2h-8.2ZM552.80,1097.29h8.2v8.2h-8.2ZM558.47,1094.37h8.2v8.2h-8.2ZM564.15,1090.76h8.2v8.2h-8.2ZM569.82,1086.40h8.2v8.2h-8.2ZM575.50,1081.31h8.2v8.2h-8.2ZM581.17,1074.84h8.2v8.2h-8.2ZM586.85,1066.92h8.2v8.2h-8.2ZM592.52,1058.27h8.2v8.2h-8.2ZM598.20,1048.61h8.2v8.2h-8.2ZM603.87,1037.92h8.2v8.2h-8.2ZM609.55,1026.69h8.2v8.2h-8.2ZM615.22,1014.66h8.2v8.2h-8.2ZM620.90,1002.06h8.2v8.2h-8.2ZM626.57,989.64h8.2v8.2h-8.2ZM632.25,977.44h8.2v8.2h-8.2ZM637.92,965.25h8.2v8.2h-8.2ZM643.60,952.90h8.2v8.2h-8.2ZM649.27,940.38h8.2v8.2h-8.2ZM654.95,927.80h8.2v8.2h-8.2ZM660.62,915.29h8.2v8.2h-8.2ZM666.30,902.77h8.2v8.2h-8.2ZM671.97,890.33h8.2v8.2h-8.2ZM677.65,877.77h8.2v8.2h-8.2ZM683.32,865.68h8.2v8.2h-8.2ZM689.00,854.00h8.2v8.2h-8.2ZM694.67,843.03h8.2v8.2h-8.2ZM697.30,838.54h8.2v8.2h-8.2ZM700.10,834.30h8.2v8.2h-8.2ZM702.90,830.46h8.2v8.2h-8.2ZM705.70,826.86h8.2v8.2h-8.2ZM708.50,823.35h8.2v8.2h-8.2ZM711.30,819.79h8.2v8.2h-8.2ZM714.10,815.58h8.2v8.2h-8.2ZM716.90,810.99h8.2v8.2h-8.2ZM719.70,807.63h8.2v8.2h-8.2ZM721.30,806.90h8.2v8.2h-8.2Z"/>
<path d="M518.5,1109.3L526.5,1107.4L532.2,1105.7L537.9,1104.0L543.6,1102.0L549.2,1099.5L554.9,1096.4L560.6,1092.7L566.3,1088.3L571.9,1083.4L577.6,1077.2L583.3,1069.8L589.0,1061.3L594.6,1050.8L600.3,1039.0L606.0,1026.9L611.7,1014.0L617.3,1000.3L623.0,985.5L628.7,970.4L634.4,955.6L640.0,940.9L645.7,926.7L651.4,913.0L657.1,899.5L662.7,885.9L668.4,872.4L674.1,860.2L679.8,848.6L685.5,838.3L688.4,833.8L691.1,829.5L694.0,825.5L696.8,822.0L699.5,818.9L702.4,816.0L705.1,813.3L708.0,811.5L709.5,811.0" fill="none" stroke="#00ff00" stroke-width="2.5"/>
<path fill="none" stroke="#00ff00" stroke-width="2.6" d="M518.45,1103.79L513.80,1111.99L523.10,1111.99ZM526.53,1101.92L521.88,1110.12L531.18,1110.12ZM532.21,1100.24L527.56,1108.44L536.86,1108.44ZM537.88,1098.47L533.23,1106.67L542.53,1106.67ZM543.56,1096.45L538.91,1104.65L548.21,1104.65ZM549.23,1094.00L544.58,1102.20L553.88,1102.20ZM554.91,1090.91L550.26,1099.11L559.56,1099.11ZM560.58,1087.18L555.93,1095.38L565.23,1095.38ZM566.26,1082.81L561.61,1091.01L570.91,1091.01ZM571.93,1077.85L567.28,1086.05L576.58,1086.05ZM577.61,1071.72L572.96,1079.92L582.26,1079.92ZM583.28,1064.33L578.63,1072.53L587.93,1072.53ZM588.96,1055.84L584.31,1064.04L593.61,1064.04ZM594.63,1045.31L589.98,1053.51L599.28,1053.51ZM600.31,1033.50L595.66,1041.70L604.96,1041.70ZM605.98,1021.39L601.33,1029.59L610.63,1029.59ZM611.66,1008.50L607.01,1016.70L616.31,1016.70ZM617.33,994.83L612.68,1003.03L621.98,1003.03ZM623.01,980.00L618.36,988.20L627.66,988.20ZM628.68,964.92L624.03,973.12L633.33,973.12ZM634.36,950.08L629.71,958.28L639.01,958.28ZM640.03,935.37L635.38,943.57L644.68,943.57ZM645.71,921.16L641.06,929.36L650.36,929.36ZM651.38,907.51L646.73,915.71L656.03,915.71ZM657.06,894.03L652.41,902.23L661.71,902.23ZM662.73,880.36L658.08,888.56L667.38,888.56ZM668.41,866.95L663.76,875.15L673.06,875.15ZM674.08,854.66L669.43,862.86L678.73,862.86ZM679.76,843.10L675.11,851.30L684.41,851.30ZM685.55,832.76L680.90,840.96L690.20,840.96ZM688.35,828.27L683.70,836.47L693.00,836.47ZM691.15,823.98L686.50,832.18L695.80,832.18ZM693.95,820.02L689.30,828.22L698.60,828.22ZM696.75,816.47L692.10,824.67L701.40,824.67ZM699.55,813.44L694.90,821.64L704.20,821.64ZM702.35,810.49L697.70,818.69L707.00,818.69ZM705.15,807.82L700.50,816.02L709.80,816.02ZM707.95,805.97L703.30,814.17L712.60,814.17ZM709.55,805.49L704.90,813.69L714.20,813.69Z"/>
<path d="M502.6,1110.3L506.4,1109.6L512.1,1108.2L517.7,1106.5L523.4,1104.6L529.1,1102.4L534.8,1099.8L540.4,1096.7L546.1,1092.8L551.8,1088.3L557.5,1082.8L563.1,1076.1L568.8,1068.0L574.5,1058.0L580.2,1047.6L585.8,1036.6L591.5,1024.6L597.2,1011.6L602.9,997.8L608.5,983.3L614.2,968.1L619.9,952.3L625.6,936.7L631.2,921.3L636.9,906.7L642.6,892.7L648.3,879.5L653.9,866.8L659.6,854.1L665.3,842.5L669.7,835.1L672.5,830.7L675.3,826.7L678.1,823.1L680.9,820.1L683.7,817.6L686.5,815.4L689.3,813.3L692.1,811.5L693.7,811.0" fill="none" stroke="#0000ff" stroke-width="2.5"/>
<g fill="none" stroke="#0000ff" stroke-width="2.7">
<circle cx="502.56" cy="1110.31" r="4.75"/>
<circle cx="506.39" cy="1109.64" r="4.75"/>
<circle cx="512.06" cy="1108.22" r="4.75"/>
<circle cx="517.74" cy="1106.47" r="4.75"/>
<circle cx="523.41" cy="1104.57" r="4.75"/>
<circle cx="529.09" cy="1102.36" r="4.75"/>
<circle cx="534.76" cy="1099.76" r="4.75"/>
<circle cx="540.44" cy="1096.66" r="4.75"/>
<circle cx="546.11" cy="1092.83" r="4.75"/>
<circle cx="551.79" cy="1088.26" r="4.75"/>
<circle cx="557.46" cy="1082.77" r="4.75"/>
<circle cx="563.14" cy="1076.12" r="4.75"/>
<circle cx="568.81" cy="1068.01" r="4.75"/>
<circle cx="574.49" cy="1057.97" r="4.75"/>
<circle cx="580.16" cy="1047.61" r="4.75"/>
<circle cx="585.84" cy="1036.60" r="4.75"/>
<circle cx="591.51" cy="1024.60" r="4.75"/>
<circle cx="597.19" cy="1011.58" r="4.75"/>
<circle cx="602.86" cy="997.84" r="4.75"/>
<circle cx="608.54" cy="983.30" r="4.75"/>
<circle cx="614.21" cy="968.09" r="4.75"/>
<circle cx="619.89" cy="952.35" r="4.75"/>
<circle cx="625.56" cy="936.71" r="4.75"/>
<circle cx="631.24" cy="921.26" r="4.75"/>
<circle cx="636.91" cy="906.66" r="4.75"/>
<circle cx="642.59" cy="892.70" r="4.75"/>
<circle cx="648.26" cy="879.48" r="4.75"/>
<circle cx="653.94" cy="866.81" r="4.75"/>
<circle cx="659.61" cy="854.14" r="4.75"/>
<circle cx="665.29" cy="842.55" r="4.75"/>
<circle cx="669.66" cy="835.10" r="4.75"/>
<circle cx="672.46" cy="830.69" r="4.75"/>
<circle cx="675.26" cy="826.66" r="4.75"/>
<circle cx="678.06" cy="823.11" r="4.75"/>
<circle cx="680.86" cy="820.11" r="4.75"/>
<circle cx="683.66" cy="817.57" r="4.75"/>
<circle cx="686.46" cy="815.39" r="4.75"/>
<circle cx="689.26" cy="813.31" r="4.75"/>
<circle cx="692.06" cy="811.52" r="4.75"/>
<circle cx="693.66" cy="811.01" r="4.75"/>
</g>
</g>
<g clip-path="url(#cp12)">
<path d="M839.0,1112.9L852.2,1112.8L859.1,1112.6L866.1,1112.1L873.0,1111.5L880.0,1110.8L886.9,1110.1L893.9,1108.9L900.8,1107.1L907.8,1103.3L914.7,1098.2L921.7,1092.7L928.6,1086.0L935.6,1075.2L942.5,1059.9L949.5,1038.3L956.4,1016.1L963.4,991.2L970.3,981.4L977.3,953.5L984.2,935.0L991.2,920.4L998.1,908.3L1005.1,898.4L1012.0,889.7L1019.0,881.2L1025.9,871.7L1032.9,862.1L1039.8,852.9L1046.8,844.7L1053.7,837.0L1060.7,828.2L1067.5,812.5" fill="none" stroke="#000000" stroke-width="2.5"/>
<path fill="none" stroke="#000000" stroke-width="2.6" d="M833.46,1112.91L841.66,1108.26L841.66,1117.56ZM846.68,1112.79L854.88,1108.14L854.88,1117.44ZM853.63,1112.56L861.83,1107.91L861.83,1117.21ZM860.58,1112.11L868.78,1107.46L868.78,1116.76ZM867.53,1111.51L875.73,1106.86L875.73,1116.16ZM874.48,1110.84L882.68,1106.19L882.68,1115.49ZM881.43,1110.05L889.63,1105.40L889.63,1114.70ZM888.38,1108.93L896.58,1104.28L896.58,1113.58ZM895.33,1107.15L903.53,1102.50L903.53,1111.80ZM902.28,1103.33L910.48,1098.68L910.48,1107.98ZM909.23,1098.20L917.43,1093.55L917.43,1102.85ZM916.18,1092.71L924.38,1088.06L924.38,1097.36ZM923.13,1086.00L931.33,1081.35L931.33,1090.65ZM930.08,1075.24L938.28,1070.59L938.28,1079.89ZM937.03,1059.88L945.23,1055.23L945.23,1064.53ZM943.98,1038.26L952.18,1033.61L952.18,1042.91ZM950.93,1016.11L959.13,1011.46L959.13,1020.76ZM957.88,991.24L966.08,986.59L966.08,995.89ZM964.83,981.42L973.03,976.77L973.03,986.07ZM971.78,953.49L979.98,948.84L979.98,958.14ZM978.73,935.03L986.93,930.38L986.93,939.68ZM985.68,920.43L993.88,915.78L993.88,925.08ZM992.63,908.34L1000.83,903.69L1000.83,912.99ZM999.58,898.39L1007.78,893.74L1007.78,903.04ZM1006.53,889.71L1014.73,885.06L1014.73,894.36ZM1013.48,881.24L1021.68,876.59L1021.68,885.89ZM1020.43,871.73L1028.63,867.08L1028.63,876.38ZM1027.38,862.07L1035.58,857.42L1035.58,866.72ZM1034.33,852.86L1042.53,848.21L1042.53,857.51ZM1041.28,844.67L1049.48,840.02L1049.48,849.32ZM1048.23,837.03L1056.43,832.38L1056.43,841.68ZM1055.18,828.18L1063.38,823.53L1063.38,832.83ZM1061.96,812.51L1070.16,807.86L1070.16,817.16Z"/>
<path d="M828.0,1113.0L841.4,1112.9L848.4,1112.8L855.3,1112.6L862.3,1112.2L869.2,1111.6L876.2,1111.0L883.1,1110.2L890.1,1109.2L897.0,1107.6L904.0,1104.1L910.9,1099.2L917.9,1093.8L924.8,1087.5L931.8,1077.6L938.7,1063.2L945.7,1042.4L952.6,1020.6L959.6,995.4L966.5,976.8L973.5,950.1L980.4,927.5L987.4,909.2L994.3,895.0L1001.3,882.7L1008.2,872.6L1015.2,864.4L1022.1,855.2L1029.1,845.5L1036.0,836.4L1043.0,828.5L1049.9,821.0L1056.5,811.2" fill="none" stroke="#ff0000" stroke-width="2.5"/>
<path fill="none" stroke="#ff0000" stroke-width="2.55" d="M823.95,1108.86h8.2v8.2h-8.2ZM837.31,1108.77h8.2v8.2h-8.2ZM844.26,1108.71h8.2v8.2h-8.2ZM851.21,1108.52h8.2v8.2h-8.2ZM858.16,1108.11h8.2v8.2h-8.2ZM865.11,1107.53h8.2v8.2h-8.2ZM872.06,1106.87h8.2v8.2h-8.2ZM879.01,1106.12h8.2v8.2h-8.2ZM885.96,1105.08h8.2v8.2h-8.2ZM892.91,1103.53h8.2v8.2h-8.2ZM899.86,1100.03h8.2v8.2h-8.2ZM906.81,1095.15h8.2v8.2h-8.2ZM913.76,1089.68h8.2v8.2h-8.2ZM920.71,1083.38h8.2v8.2h-8.2ZM927.66,1073.47h8.2v8.2h-8.2ZM934.61,1059.12h8.2v8.2h-8.2ZM941.56,1038.27h8.2v8.2h-8.2ZM948.51,1016.46h8.2v8.2h-8.2ZM955.46,991.29h8.2v8.2h-8.2ZM962.41,972.67h8.2v8.2h-8.2ZM969.36,946.04h8.2v8.2h-8.2ZM976.31,923.41h8.2v8.2h-8.2ZM983.26,905.13h8.2v8.2h-8.2ZM990.21,890.86h8.2v8.2h-8.2ZM997.16,878.59h8.2v8.2h-8.2ZM1004.11,868.50h8.2v8.2h-8.2ZM1011.06,860.28h8.2v8.2h-8.2ZM1018.01,851.13h8.2v8.2h-8.2ZM1024.96,841.42h8.2v8.2h-8.2ZM1031.91,832.31h8.2v8.2h-8.2ZM1038.86,824.41h8.2v8.2h-8.2ZM1045.81,816.86h8.2v8.2h-8.2ZM1052.45,807.13h8.2v8.2h-8.2Z"/>
<path d="M817.1,1113.0L832.0,1112.9L839.0,1112.9L845.9,1112.8L852.9,1112.6L859.8,1112.2L866.8,1111.6L873.7,1111.0L880.7,1110.2L887.6,1109.2L894.6,1107.6L901.5,1104.1L908.5,1099.2L915.4,1093.7L922.4,1087.4L929.3,1077.5L936.3,1063.0L943.2,1042.1L950.2,1020.3L957.1,994.8L964.1,977.2L971.0,952.4L978.0,931.9L984.9,913.5L991.9,897.4L998.8,882.9L1005.8,869.4L1012.7,856.7L1019.7,845.0L1026.6,833.8L1033.6,823.8L1040.5,816.4L1045.6,811.0" fill="none" stroke="#00ff00" stroke-width="2.5"/>
<path fill="none" stroke="#00ff00" stroke-width="2.6" d="M817.12,1107.49L812.47,1115.69L821.77,1115.69ZM832.03,1107.42L827.38,1115.62L836.68,1115.62ZM838.98,1107.37L834.33,1115.57L843.63,1115.57ZM845.93,1107.31L841.28,1115.51L850.58,1115.51ZM852.88,1107.12L848.23,1115.32L857.53,1115.32ZM859.83,1106.70L855.18,1114.90L864.48,1114.90ZM866.78,1106.13L862.13,1114.33L871.43,1114.33ZM873.73,1105.47L869.08,1113.67L878.38,1113.67ZM880.68,1104.71L876.03,1112.91L885.33,1112.91ZM887.63,1103.67L882.98,1111.87L892.28,1111.87ZM894.58,1102.10L889.93,1110.30L899.23,1110.30ZM901.53,1098.58L896.88,1106.78L906.18,1106.78ZM908.48,1093.69L903.83,1101.89L913.13,1101.89ZM915.43,1088.22L910.78,1096.42L920.08,1096.42ZM922.38,1081.91L917.73,1090.11L927.03,1090.11ZM929.33,1071.95L924.68,1080.15L933.98,1080.15ZM936.28,1057.55L931.63,1065.75L940.93,1065.75ZM943.23,1036.65L938.58,1044.85L947.88,1044.85ZM950.18,1014.83L945.53,1023.03L954.83,1023.03ZM957.13,989.34L952.48,997.54L961.78,997.54ZM964.08,971.71L959.43,979.91L968.73,979.91ZM971.03,946.89L966.38,955.09L975.68,955.09ZM977.98,926.39L973.33,934.59L982.63,934.59ZM984.93,908.03L980.28,916.23L989.58,916.23ZM991.88,891.94L987.23,900.14L996.53,900.14ZM998.83,877.38L994.18,885.58L1003.48,885.58ZM1005.78,863.91L1001.13,872.11L1010.43,872.11ZM1012.73,851.20L1008.08,859.40L1017.38,859.40ZM1019.68,839.46L1015.03,847.66L1024.33,847.66ZM1026.63,828.33L1021.98,836.53L1031.28,836.53ZM1033.58,818.30L1028.93,826.50L1038.23,826.50ZM1040.53,810.90L1035.88,819.10L1045.18,819.10ZM1045.62,805.49L1040.97,813.69L1050.27,813.69Z"/>
<path d="M806.1,1113.0L821.2,1113.0L828.2,1112.9L835.1,1112.9L842.1,1112.8L849.0,1112.7L856.0,1112.3L863.0,1111.7L869.9,1111.1L876.9,1110.4L883.8,1109.4L890.8,1108.0L897.7,1104.9L904.6,1100.2L911.6,1094.8L918.5,1088.8L925.5,1079.7L932.5,1066.2L939.4,1046.4L946.4,1024.6L953.3,1000.8L960.2,972.4L967.2,943.5L974.1,919.6L981.1,898.0L988.0,882.9L995.0,870.0L1002.0,856.5L1008.9,845.0L1015.9,834.3L1022.8,825.1L1029.8,816.3L1034.7,811.0" fill="none" stroke="#0000ff" stroke-width="2.5"/>
<g fill="none" stroke="#0000ff" stroke-width="2.7">
<circle cx="806.15" cy="1113.00" r="4.75"/>
<circle cx="821.25" cy="1112.97" r="4.75"/>
<circle cx="828.20" cy="1112.93" r="4.75"/>
<circle cx="835.15" cy="1112.88" r="4.75"/>
<circle cx="842.10" cy="1112.82" r="4.75"/>
<circle cx="849.05" cy="1112.68" r="4.75"/>
<circle cx="856.00" cy="1112.30" r="4.75"/>
<circle cx="862.95" cy="1111.75" r="4.75"/>
<circle cx="869.90" cy="1111.10" r="4.75"/>
<circle cx="876.85" cy="1110.37" r="4.75"/>
<circle cx="883.80" cy="1109.40" r="4.75"/>
<circle cx="890.75" cy="1107.97" r="4.75"/>
<circle cx="897.70" cy="1104.88" r="4.75"/>
<circle cx="904.65" cy="1100.24" r="4.75"/>
<circle cx="911.60" cy="1094.77" r="4.75"/>
<circle cx="918.55" cy="1088.79" r="4.75"/>
<circle cx="925.50" cy="1079.70" r="4.75"/>
<circle cx="932.45" cy="1066.21" r="4.75"/>
<circle cx="939.40" cy="1046.42" r="4.75"/>
<circle cx="946.35" cy="1024.63" r="4.75"/>
<circle cx="953.30" cy="1000.85" r="4.75"/>
<circle cx="960.25" cy="972.38" r="4.75"/>
<circle cx="967.20" cy="943.49" r="4.75"/>
<circle cx="974.15" cy="919.56" r="4.75"/>
<circle cx="981.10" cy="897.97" r="4.75"/>
<circle cx="988.05" cy="882.91" r="4.75"/>
<circle cx="995.00" cy="869.96" r="4.75"/>
<circle cx="1001.95" cy="856.48" r="4.75"/>
<circle cx="1008.90" cy="845.02" r="4.75"/>
<circle cx="1015.85" cy="834.31" r="4.75"/>
<circle cx="1022.80" cy="825.12" r="4.75"/>
<circle cx="1029.75" cy="816.26" r="4.75"/>
<circle cx="1034.65" cy="810.98" r="4.75"/>
</g>
</g>
<g clip-path="url(#cp13)">
<path d="M1145.1,1113.0L1169.8,1112.9L1176.5,1112.8L1183.1,1112.6L1189.8,1112.4L1196.4,1112.0L1203.1,1111.3L1209.7,1110.4L1216.4,1109.2L1223.0,1106.8L1229.7,1103.5L1236.3,1099.6L1243.0,1094.2L1249.6,1086.0L1256.3,1072.5L1262.9,1053.4L1269.6,1027.3L1276.2,994.4L1282.9,954.4L1289.5,915.9L1296.2,885.5L1302.8,870.8L1309.5,855.0L1316.1,845.4L1322.8,841.9L1329.4,838.4L1336.1,835.8L1342.7,833.8L1349.4,831.4L1356.0,829.4L1362.7,827.7L1369.3,825.6L1376.0,822.6L1383.0,812.5" fill="none" stroke="#000000" stroke-width="2.5"/>
<path fill="none" stroke="#000000" stroke-width="2.6" d="M1139.64,1113.00L1147.84,1108.35L1147.84,1117.65ZM1164.31,1112.88L1172.51,1108.23L1172.51,1117.53ZM1170.96,1112.76L1179.16,1108.11L1179.16,1117.41ZM1177.61,1112.60L1185.81,1107.95L1185.81,1117.25ZM1184.26,1112.40L1192.46,1107.75L1192.46,1117.05ZM1190.91,1111.96L1199.11,1107.31L1199.11,1116.61ZM1197.56,1111.28L1205.76,1106.63L1205.76,1115.93ZM1204.21,1110.35L1212.41,1105.70L1212.41,1115.00ZM1210.86,1109.17L1219.06,1104.52L1219.06,1113.82ZM1217.51,1106.79L1225.71,1102.14L1225.71,1111.44ZM1224.16,1103.47L1232.36,1098.82L1232.36,1108.12ZM1230.81,1099.60L1239.01,1094.95L1239.01,1104.25ZM1237.46,1094.22L1245.66,1089.57L1245.66,1098.87ZM1244.11,1085.99L1252.31,1081.34L1252.31,1090.64ZM1250.76,1072.48L1258.96,1067.83L1258.96,1077.13ZM1257.41,1053.35L1265.61,1048.70L1265.61,1058.00ZM1264.06,1027.29L1272.26,1022.64L1272.26,1031.94ZM1270.71,994.44L1278.91,989.79L1278.91,999.09ZM1277.36,954.38L1285.56,949.73L1285.56,959.03ZM1284.01,915.95L1292.21,911.30L1292.21,920.60ZM1290.66,885.51L1298.86,880.86L1298.86,890.16ZM1297.31,870.78L1305.51,866.13L1305.51,875.43ZM1303.96,854.98L1312.16,850.33L1312.16,859.63ZM1310.61,845.38L1318.81,840.73L1318.81,850.03ZM1317.26,841.91L1325.46,837.26L1325.46,846.56ZM1323.91,838.37L1332.11,833.72L1332.11,843.02ZM1330.56,835.81L1338.76,831.16L1338.76,840.46ZM1337.21,833.83L1345.41,829.18L1345.41,838.48ZM1343.86,831.42L1352.06,826.77L1352.06,836.07ZM1350.51,829.43L1358.71,824.78L1358.71,834.08ZM1357.16,827.65L1365.36,823.00L1365.36,832.30ZM1363.81,825.55L1372.01,820.90L1372.01,830.20ZM1370.46,822.56L1378.66,817.91L1378.66,827.21ZM1377.54,812.49L1385.74,807.84L1385.74,817.14Z"/>
<path d="M1135.4,1113.0L1159.5,1113.0L1166.2,1112.9L1172.8,1112.8L1179.5,1112.7L1186.1,1112.5L1192.8,1112.2L1199.4,1111.7L1206.0,1110.9L1212.7,1109.9L1219.3,1108.3L1226.0,1105.4L1232.7,1101.9L1239.3,1097.4L1246.0,1091.0L1252.6,1080.5L1259.2,1064.7L1265.9,1042.3L1272.5,1013.6L1279.2,976.2L1285.8,937.0L1292.5,898.7L1299.2,879.5L1305.8,861.7L1312.5,845.3L1319.1,841.0L1325.8,838.1L1329.3,836.9L1332.1,835.9L1334.9,834.8L1337.7,833.7L1340.5,832.6L1343.3,831.6L1346.1,830.6L1348.9,829.8L1351.7,829.1L1354.5,828.4L1357.3,827.4L1360.1,826.3L1362.9,824.6L1365.7,822.3L1368.5,818.7L1371.3,813.2L1373.3,811.0" fill="none" stroke="#ff0000" stroke-width="2.5"/>
<path fill="none" stroke="#ff0000" stroke-width="2.55" d="M1131.31,1108.90h8.2v8.2h-8.2ZM1155.40,1108.89h8.2v8.2h-8.2ZM1162.05,1108.83h8.2v8.2h-8.2ZM1168.70,1108.73h8.2v8.2h-8.2ZM1175.35,1108.59h8.2v8.2h-8.2ZM1182.00,1108.42h8.2v8.2h-8.2ZM1188.65,1108.13h8.2v8.2h-8.2ZM1195.30,1107.58h8.2v8.2h-8.2ZM1201.95,1106.79h8.2v8.2h-8.2ZM1208.60,1105.77h8.2v8.2h-8.2ZM1215.25,1104.17h8.2v8.2h-8.2ZM1221.90,1101.26h8.2v8.2h-8.2ZM1228.55,1097.77h8.2v8.2h-8.2ZM1235.20,1093.30h8.2v8.2h-8.2ZM1241.85,1086.95h8.2v8.2h-8.2ZM1248.50,1076.36h8.2v8.2h-8.2ZM1255.15,1060.59h8.2v8.2h-8.2ZM1261.80,1038.18h8.2v8.2h-8.2ZM1268.45,1009.49h8.2v8.2h-8.2ZM1275.10,972.12h8.2v8.2h-8.2ZM1281.75,932.93h8.2v8.2h-8.2ZM1288.40,894.60h8.2v8.2h-8.2ZM1295.05,875.44h8.2v8.2h-8.2ZM1301.70,857.59h8.2v8.2h-8.2ZM1308.35,841.21h8.2v8.2h-8.2ZM1315.00,836.86h8.2v8.2h-8.2ZM1321.65,834.01h8.2v8.2h-8.2ZM1325.21,832.79h8.2v8.2h-8.2ZM1328.01,831.78h8.2v8.2h-8.2ZM1330.81,830.70h8.2v8.2h-8.2ZM1333.61,829.60h8.2v8.2h-8.2ZM1336.41,828.52h8.2v8.2h-8.2ZM1339.21,827.49h8.2v8.2h-8.2ZM1342.01,826.54h8.2v8.2h-8.2ZM1344.81,825.74h8.2v8.2h-8.2ZM1347.61,825.02h8.2v8.2h-8.2ZM1350.41,824.25h8.2v8.2h-8.2ZM1353.21,823.34h8.2v8.2h-8.2ZM1356.01,822.16h8.2v8.2h-8.2ZM1358.81,820.46h8.2v8.2h-8.2ZM1361.61,818.16h8.2v8.2h-8.2ZM1364.41,814.64h8.2v8.2h-8.2ZM1367.21,809.08h8.2v8.2h-8.2ZM1369.21,806.90h8.2v8.2h-8.2Z"/>
<path d="M1125.7,1113.0L1150.5,1113.0L1157.2,1113.0L1163.8,1113.0L1170.5,1112.9L1177.1,1112.7L1183.8,1112.6L1190.4,1112.4L1197.1,1111.9L1203.7,1111.2L1210.4,1110.3L1217.0,1109.0L1223.7,1106.5L1230.3,1103.1L1237.0,1099.1L1243.6,1093.6L1250.3,1084.9L1256.9,1070.9L1263.6,1051.0L1270.2,1024.4L1276.9,990.5L1283.5,950.5L1290.2,912.2L1296.8,882.8L1303.5,862.3L1310.1,843.5L1316.8,839.0L1319.6,837.7L1322.4,836.5L1325.2,835.4L1328.0,834.4L1330.8,833.4L1333.6,832.3L1336.4,831.4L1339.2,830.6L1342.0,829.8L1344.8,828.9L1347.6,827.9L1350.4,826.6L1353.2,825.0L1356.0,822.4L1358.8,818.3L1361.6,813.4L1363.6,811.0" fill="none" stroke="#00ff00" stroke-width="2.5"/>
<path fill="none" stroke="#00ff00" stroke-width="2.6" d="M1125.68,1107.50L1121.03,1115.70L1130.33,1115.70ZM1150.52,1107.50L1145.87,1115.70L1155.17,1115.70ZM1157.17,1107.50L1152.52,1115.70L1161.82,1115.70ZM1163.82,1107.45L1159.17,1115.65L1168.47,1115.65ZM1170.47,1107.37L1165.82,1115.57L1175.12,1115.57ZM1177.12,1107.24L1172.47,1115.44L1181.77,1115.44ZM1183.77,1107.08L1179.12,1115.28L1188.42,1115.28ZM1190.42,1106.86L1185.77,1115.06L1195.07,1115.06ZM1197.07,1106.40L1192.42,1114.60L1201.72,1114.60ZM1203.72,1105.70L1199.07,1113.90L1208.37,1113.90ZM1210.37,1104.75L1205.72,1112.95L1215.02,1112.95ZM1217.02,1103.50L1212.37,1111.70L1221.67,1111.70ZM1223.67,1100.99L1219.02,1109.19L1228.32,1109.19ZM1230.32,1097.62L1225.67,1105.82L1234.97,1105.82ZM1236.97,1093.64L1232.32,1101.84L1241.62,1101.84ZM1243.62,1088.07L1238.97,1096.27L1248.27,1096.27ZM1250.27,1079.36L1245.62,1087.56L1254.92,1087.56ZM1256.92,1065.36L1252.27,1073.56L1261.57,1073.56ZM1263.57,1045.53L1258.92,1053.73L1268.22,1053.73ZM1270.22,1018.89L1265.57,1027.09L1274.87,1027.09ZM1276.87,985.04L1272.22,993.24L1281.52,993.24ZM1283.52,945.02L1278.87,953.22L1288.17,953.22ZM1290.17,906.73L1285.52,914.93L1294.82,914.93ZM1296.82,877.26L1292.17,885.46L1301.47,885.46ZM1303.47,856.79L1298.82,864.99L1308.12,864.99ZM1310.12,837.99L1305.47,846.19L1314.77,846.19ZM1316.77,833.52L1312.12,841.72L1321.42,841.72ZM1319.58,832.16L1314.93,840.36L1324.23,840.36ZM1322.38,831.00L1317.73,839.20L1327.03,839.20ZM1325.18,829.95L1320.53,838.15L1329.83,838.15ZM1327.98,828.94L1323.33,837.14L1332.63,837.14ZM1330.78,827.90L1326.13,836.10L1335.43,836.10ZM1333.58,826.83L1328.93,835.03L1338.23,835.03ZM1336.38,825.91L1331.73,834.11L1341.03,834.11ZM1339.18,825.09L1334.53,833.29L1343.83,833.29ZM1341.98,824.27L1337.33,832.47L1346.63,832.47ZM1344.78,823.39L1340.13,831.59L1349.43,831.59ZM1347.58,822.36L1342.93,830.56L1352.23,830.56ZM1350.38,821.10L1345.73,829.30L1355.03,829.30ZM1353.18,819.53L1348.53,827.73L1357.83,827.73ZM1355.98,816.93L1351.33,825.13L1360.63,825.13ZM1358.78,812.81L1354.13,821.01L1363.43,821.01ZM1361.58,807.85L1356.93,816.05L1366.23,816.05ZM1363.58,805.51L1358.93,813.71L1368.23,813.71Z"/>
<path d="M1115.9,1113.0L1140.2,1113.0L1146.9,1113.0L1153.5,1113.0L1160.2,1113.0L1166.8,1112.9L1173.5,1112.8L1180.1,1112.7L1186.8,1112.5L1193.4,1112.2L1200.1,1111.6L1206.7,1110.8L1213.4,1109.8L1220.0,1108.0L1226.7,1105.0L1233.3,1101.5L1240.0,1096.9L1246.6,1090.3L1253.3,1079.1L1259.9,1062.8L1266.6,1039.7L1273.2,1010.4L1279.9,972.2L1286.5,933.3L1293.2,896.5L1299.8,869.1L1306.5,851.0L1309.8,844.7L1312.6,840.6L1315.4,837.5L1318.2,834.9L1321.0,832.5L1323.8,830.3L1326.6,828.6L1329.4,827.4L1332.2,826.3L1335.0,825.1L1337.8,823.8L1340.6,822.2L1343.4,820.4L1346.2,818.0L1349.0,815.3L1351.8,812.5L1353.8,811.0" fill="none" stroke="#0000ff" stroke-width="2.5"/>
<g fill="none" stroke="#0000ff" stroke-width="2.7">
<circle cx="1115.91" cy="1113.00" r="4.75"/>
<circle cx="1140.21" cy="1113.00" r="4.75"/>
<circle cx="1146.86" cy="1113.00" r="4.75"/>
<circle cx="1153.51" cy="1113.00" r="4.75"/>
<circle cx="1160.16" cy="1112.98" r="4.75"/>
<circle cx="1166.81" cy="1112.92" r="4.75"/>
<circle cx="1173.46" cy="1112.82" r="4.75"/>
<circle cx="1180.11" cy="1112.67" r="4.75"/>
<circle cx="1186.76" cy="1112.50" r="4.75"/>
<circle cx="1193.41" cy="1112.19" r="4.75"/>
<circle cx="1200.06" cy="1111.62" r="4.75"/>
<circle cx="1206.71" cy="1110.80" r="4.75"/>
<circle cx="1213.36" cy="1109.75" r="4.75"/>
<circle cx="1220.01" cy="1108.03" r="4.75"/>
<circle cx="1226.66" cy="1105.03" r="4.75"/>
<circle cx="1233.31" cy="1101.50" r="4.75"/>
<circle cx="1239.96" cy="1096.87" r="4.75"/>
<circle cx="1246.61" cy="1090.26" r="4.75"/>
<circle cx="1253.26" cy="1079.12" r="4.75"/>
<circle cx="1259.91" cy="1062.82" r="4.75"/>
<circle cx="1266.56" cy="1039.68" r="4.75"/>
<circle cx="1273.21" cy="1010.36" r="4.75"/>
<circle cx="1279.86" cy="972.15" r="4.75"/>
<circle cx="1286.51" cy="933.26" r="4.75"/>
<circle cx="1293.16" cy="896.45" r="4.75"/>
<circle cx="1299.81" cy="869.06" r="4.75"/>
<circle cx="1306.46" cy="851.00" r="4.75"/>
<circle cx="1309.81" cy="844.69" r="4.75"/>
<circle cx="1312.61" cy="840.61" r="4.75"/>
<circle cx="1315.41" cy="837.47" r="4.75"/>
<circle cx="1318.21" cy="834.86" r="4.75"/>
<circle cx="1321.01" cy="832.47" r="4.75"/>
<circle cx="1323.81" cy="830.30" r="4.75"/>
<circle cx="1326.61" cy="828.59" r="4.75"/>
<circle cx="1329.41" cy="827.35" r="4.75"/>
<circle cx="1332.21" cy="826.30" r="4.75"/>
<circle cx="1335.01" cy="825.11" r="4.75"/>
<circle cx="1337.81" cy="823.75" r="4.75"/>
<circle cx="1340.61" cy="822.24" r="4.75"/>
<circle cx="1343.41" cy="820.44" r="4.75"/>
<circle cx="1346.21" cy="818.02" r="4.75"/>
<circle cx="1349.01" cy="815.32" r="4.75"/>
<circle cx="1351.81" cy="812.49" r="4.75"/>
<circle cx="1353.81" cy="811.00" r="4.75"/>
</g>
</g>
<g clip-path="url(#cp14)">
<path d="M1465.4,1112.9L1469.7,1112.8L1476.4,1112.8L1483.2,1112.6L1489.9,1112.4L1496.6,1112.2L1503.3,1111.8L1510.1,1111.3L1516.8,1110.8L1523.5,1109.7L1530.3,1108.0L1537.0,1105.9L1543.7,1103.5L1550.5,1100.2L1557.2,1095.5L1563.9,1086.4L1570.6,1070.3L1577.4,1048.7L1584.1,1017.9L1590.8,977.1L1597.6,931.0L1604.3,887.7L1611.0,864.9L1617.8,854.8L1624.5,842.4L1631.2,832.3L1637.9,827.4L1644.7,825.9L1651.4,824.9L1658.1,824.2L1664.9,823.5L1671.6,823.0L1678.3,822.5L1685.0,821.3L1691.8,815.6L1694.4,812.5" fill="none" stroke="#000000" stroke-width="2.5"/>
<path fill="none" stroke="#000000" stroke-width="2.6" d="M1459.88,1112.88L1468.08,1108.23L1468.08,1117.53ZM1464.19,1112.84L1472.39,1108.19L1472.39,1117.49ZM1470.92,1112.77L1479.12,1108.12L1479.12,1117.42ZM1477.65,1112.64L1485.85,1107.99L1485.85,1117.29ZM1484.38,1112.44L1492.58,1107.79L1492.58,1117.09ZM1491.11,1112.15L1499.31,1107.50L1499.31,1116.80ZM1497.84,1111.79L1506.04,1107.14L1506.04,1116.44ZM1504.57,1111.34L1512.77,1106.69L1512.77,1115.99ZM1511.30,1110.81L1519.50,1106.16L1519.50,1115.46ZM1518.03,1109.70L1526.23,1105.05L1526.23,1114.35ZM1524.76,1107.95L1532.96,1103.30L1532.96,1112.60ZM1531.49,1105.86L1539.69,1101.21L1539.69,1110.51ZM1538.22,1103.46L1546.42,1098.81L1546.42,1108.11ZM1544.95,1100.24L1553.15,1095.59L1553.15,1104.89ZM1551.68,1095.52L1559.88,1090.87L1559.88,1100.17ZM1558.41,1086.39L1566.61,1081.74L1566.61,1091.04ZM1565.14,1070.29L1573.34,1065.64L1573.34,1074.94ZM1571.87,1048.67L1580.07,1044.02L1580.07,1053.32ZM1578.60,1017.88L1586.80,1013.23L1586.80,1022.53ZM1585.33,977.13L1593.53,972.48L1593.53,981.78ZM1592.06,931.00L1600.26,926.35L1600.26,935.65ZM1598.79,887.66L1606.99,883.01L1606.99,892.31ZM1605.52,864.93L1613.72,860.28L1613.72,869.58ZM1612.25,854.77L1620.45,850.12L1620.45,859.42ZM1618.98,842.41L1627.18,837.76L1627.18,847.06ZM1625.71,832.29L1633.91,827.64L1633.91,836.94ZM1632.44,827.42L1640.64,822.77L1640.64,832.07ZM1639.17,825.89L1647.37,821.24L1647.37,830.54ZM1645.90,824.90L1654.10,820.25L1654.10,829.55ZM1652.63,824.19L1660.83,819.54L1660.83,828.84ZM1659.36,823.52L1667.56,818.87L1667.56,828.17ZM1666.09,822.97L1674.29,818.32L1674.29,827.62ZM1672.82,822.46L1681.02,817.81L1681.02,827.11ZM1679.55,821.27L1687.75,816.62L1687.75,825.92ZM1686.28,815.59L1694.48,810.94L1694.48,820.24ZM1688.88,812.50L1697.08,807.85L1697.08,817.15Z"/>
<path d="M1455.8,1112.9L1459.3,1112.9L1466.0,1112.9L1472.7,1112.8L1479.5,1112.7L1486.2,1112.6L1492.9,1112.3L1499.6,1112.0L1506.4,1111.6L1513.1,1111.1L1519.8,1110.4L1526.6,1109.0L1533.3,1107.0L1540.0,1104.9L1546.8,1102.1L1553.5,1098.4L1560.2,1092.3L1566.9,1079.6L1573.7,1061.4L1580.4,1036.3L1587.1,1000.1L1593.9,957.1L1600.6,910.3L1607.3,873.6L1614.0,857.1L1620.8,844.0L1627.5,834.3L1634.2,828.9L1641.0,827.1L1647.7,825.8L1652.8,825.2L1655.6,824.9L1658.4,824.6L1661.2,824.4L1664.0,824.3L1666.8,824.2L1669.6,824.1L1672.4,824.1L1675.2,823.9L1678.0,823.7L1680.8,822.6L1683.6,814.2L1684.8,811.0" fill="none" stroke="#ff0000" stroke-width="2.5"/>
<path fill="none" stroke="#ff0000" stroke-width="2.55" d="M1451.68,1108.84h8.2v8.2h-8.2ZM1455.16,1108.82h8.2v8.2h-8.2ZM1461.89,1108.77h8.2v8.2h-8.2ZM1468.62,1108.71h8.2v8.2h-8.2ZM1475.35,1108.63h8.2v8.2h-8.2ZM1482.08,1108.46h8.2v8.2h-8.2ZM1488.81,1108.22h8.2v8.2h-8.2ZM1495.54,1107.90h8.2v8.2h-8.2ZM1502.27,1107.50h8.2v8.2h-8.2ZM1509.00,1107.02h8.2v8.2h-8.2ZM1515.73,1106.30h8.2v8.2h-8.2ZM1522.46,1104.87h8.2v8.2h-8.2ZM1529.19,1102.94h8.2v8.2h-8.2ZM1535.92,1100.76h8.2v8.2h-8.2ZM1542.65,1098.04h8.2v8.2h-8.2ZM1549.38,1094.31h8.2v8.2h-8.2ZM1556.11,1088.18h8.2v8.2h-8.2ZM1562.84,1075.48h8.2v8.2h-8.2ZM1569.57,1057.31h8.2v8.2h-8.2ZM1576.30,1032.23h8.2v8.2h-8.2ZM1583.03,996.01h8.2v8.2h-8.2ZM1589.76,953.01h8.2v8.2h-8.2ZM1596.49,906.18h8.2v8.2h-8.2ZM1603.22,869.54h8.2v8.2h-8.2ZM1609.95,853.02h8.2v8.2h-8.2ZM1616.68,839.91h8.2v8.2h-8.2ZM1623.41,830.21h8.2v8.2h-8.2ZM1630.14,824.82h8.2v8.2h-8.2ZM1636.87,822.98h8.2v8.2h-8.2ZM1643.60,821.72h8.2v8.2h-8.2ZM1648.68,821.06h8.2v8.2h-8.2ZM1651.48,820.77h8.2v8.2h-8.2ZM1654.28,820.53h8.2v8.2h-8.2ZM1657.08,820.32h8.2v8.2h-8.2ZM1659.88,820.19h8.2v8.2h-8.2ZM1662.68,820.11h8.2v8.2h-8.2ZM1665.48,820.05h8.2v8.2h-8.2ZM1668.28,819.97h8.2v8.2h-8.2ZM1671.08,819.84h8.2v8.2h-8.2ZM1673.88,819.63h8.2v8.2h-8.2ZM1676.68,818.51h8.2v8.2h-8.2ZM1679.48,810.05h8.2v8.2h-8.2ZM1680.68,806.91h8.2v8.2h-8.2Z"/>
<path d="M1446.2,1113.0L1450.2,1113.0L1456.9,1112.9L1463.6,1112.9L1470.4,1112.8L1477.1,1112.8L1483.8,1112.6L1490.6,1112.4L1497.3,1112.1L1504.0,1111.7L1510.8,1111.3L1517.5,1110.7L1524.2,1109.5L1530.9,1107.8L1537.7,1105.6L1544.4,1103.2L1551.1,1099.9L1557.9,1094.9L1564.6,1085.0L1571.3,1068.4L1578.0,1046.1L1584.8,1014.0L1591.5,972.7L1598.2,926.1L1605.0,884.9L1611.7,859.1L1618.4,843.3L1625.2,833.5L1631.9,828.1L1638.6,825.3L1643.2,824.2L1646.0,823.9L1648.8,823.8L1651.6,823.7L1654.4,823.6L1657.2,823.6L1660.0,823.5L1662.8,823.4L1665.6,823.2L1668.4,822.9L1671.2,819.4L1674.0,813.0L1675.2,811.0" fill="none" stroke="#00ff00" stroke-width="2.5"/>
<path fill="none" stroke="#00ff00" stroke-width="2.6" d="M1446.17,1107.48L1441.52,1115.68L1450.82,1115.68ZM1450.18,1107.47L1445.53,1115.67L1454.83,1115.67ZM1456.91,1107.43L1452.26,1115.63L1461.56,1115.63ZM1463.64,1107.39L1458.99,1115.59L1468.29,1115.59ZM1470.37,1107.33L1465.72,1115.53L1475.02,1115.53ZM1477.10,1107.26L1472.45,1115.46L1481.75,1115.46ZM1483.83,1107.13L1479.18,1115.33L1488.48,1115.33ZM1490.56,1106.91L1485.91,1115.11L1495.21,1115.11ZM1497.29,1106.62L1492.64,1114.82L1501.94,1114.82ZM1504.02,1106.25L1499.37,1114.45L1508.67,1114.45ZM1510.75,1105.79L1506.10,1113.99L1515.40,1113.99ZM1517.48,1105.23L1512.83,1113.43L1522.13,1113.43ZM1524.21,1104.05L1519.56,1112.25L1528.86,1112.25ZM1530.94,1102.25L1526.29,1110.45L1535.59,1110.45ZM1537.67,1100.14L1533.02,1108.34L1542.32,1108.34ZM1544.40,1097.68L1539.75,1105.88L1549.05,1105.88ZM1551.13,1094.35L1546.48,1102.55L1555.78,1102.55ZM1557.86,1089.36L1553.21,1097.56L1562.51,1097.56ZM1564.59,1079.45L1559.94,1087.65L1569.24,1087.65ZM1571.32,1062.91L1566.67,1071.11L1575.97,1071.11ZM1578.05,1040.56L1573.40,1048.76L1582.70,1048.76ZM1584.78,1008.51L1580.13,1016.71L1589.43,1016.71ZM1591.51,967.20L1586.86,975.40L1596.16,975.40ZM1598.24,920.60L1593.59,928.80L1602.89,928.80ZM1604.97,879.45L1600.32,887.65L1609.62,887.65ZM1611.70,853.61L1607.05,861.81L1616.35,861.81ZM1618.43,837.85L1613.78,846.05L1623.08,846.05ZM1625.16,828.02L1620.51,836.22L1629.81,836.22ZM1631.89,822.55L1627.24,830.75L1636.54,830.75ZM1638.62,819.83L1633.97,828.03L1643.27,828.03ZM1643.17,818.72L1638.52,826.92L1647.82,826.92ZM1645.97,818.43L1641.32,826.63L1650.62,826.63ZM1648.77,818.27L1644.12,826.47L1653.42,826.47ZM1651.57,818.17L1646.92,826.37L1656.22,826.37ZM1654.37,818.11L1649.72,826.31L1659.02,826.31ZM1657.17,818.06L1652.52,826.26L1661.82,826.26ZM1659.97,818.00L1655.32,826.20L1664.62,826.20ZM1662.77,817.89L1658.12,826.09L1667.42,826.09ZM1665.57,817.72L1660.92,825.92L1670.22,825.92ZM1668.37,817.40L1663.72,825.60L1673.02,825.60ZM1671.17,813.88L1666.52,822.08L1675.82,822.08ZM1673.97,807.53L1669.32,815.73L1678.62,815.73ZM1675.17,805.51L1670.52,813.71L1679.82,813.71Z"/>
<path d="M1436.5,1113.0L1446.5,1113.0L1453.2,1113.0L1459.9,1112.9L1466.7,1112.9L1473.4,1112.8L1480.1,1112.7L1486.8,1112.5L1493.6,1112.3L1500.3,1112.0L1507.0,1111.6L1513.8,1111.1L1520.5,1110.3L1527.2,1108.8L1534.0,1106.8L1540.7,1104.6L1547.4,1101.8L1554.2,1098.0L1560.9,1091.4L1567.6,1078.0L1574.3,1059.3L1581.1,1033.3L1587.8,996.1L1594.5,952.6L1601.3,906.3L1608.0,871.2L1614.7,846.2L1621.5,834.3L1628.2,827.6L1633.5,825.2L1636.3,824.5L1639.1,823.9L1641.9,823.4L1644.7,823.1L1647.5,822.9L1650.3,822.7L1653.1,822.3L1655.9,821.8L1658.7,820.0L1661.5,816.9L1664.3,812.0L1665.5,811.0" fill="none" stroke="#0000ff" stroke-width="2.5"/>
<g fill="none" stroke="#0000ff" stroke-width="2.7">
<circle cx="1436.53" cy="1113.00" r="4.75"/>
<circle cx="1446.47" cy="1112.98" r="4.75"/>
<circle cx="1453.20" cy="1112.96" r="4.75"/>
<circle cx="1459.93" cy="1112.92" r="4.75"/>
<circle cx="1466.66" cy="1112.87" r="4.75"/>
<circle cx="1473.39" cy="1112.81" r="4.75"/>
<circle cx="1480.12" cy="1112.71" r="4.75"/>
<circle cx="1486.85" cy="1112.54" r="4.75"/>
<circle cx="1493.58" cy="1112.29" r="4.75"/>
<circle cx="1500.31" cy="1111.96" r="4.75"/>
<circle cx="1507.04" cy="1111.55" r="4.75"/>
<circle cx="1513.77" cy="1111.06" r="4.75"/>
<circle cx="1520.50" cy="1110.29" r="4.75"/>
<circle cx="1527.23" cy="1108.80" r="4.75"/>
<circle cx="1533.96" cy="1106.83" r="4.75"/>
<circle cx="1540.69" cy="1104.62" r="4.75"/>
<circle cx="1547.42" cy="1101.82" r="4.75"/>
<circle cx="1554.15" cy="1097.96" r="4.75"/>
<circle cx="1560.88" cy="1091.45" r="4.75"/>
<circle cx="1567.61" cy="1078.01" r="4.75"/>
<circle cx="1574.34" cy="1059.27" r="4.75"/>
<circle cx="1581.07" cy="1033.35" r="4.75"/>
<circle cx="1587.80" cy="996.10" r="4.75"/>
<circle cx="1594.53" cy="952.63" r="4.75"/>
<circle cx="1601.26" cy="906.25" r="4.75"/>
<circle cx="1607.99" cy="871.16" r="4.75"/>
<circle cx="1614.72" cy="846.24" r="4.75"/>
<circle cx="1621.45" cy="834.30" r="4.75"/>
<circle cx="1628.18" cy="827.58" r="4.75"/>
<circle cx="1633.53" cy="825.24" r="4.75"/>
<circle cx="1636.33" cy="824.46" r="4.75"/>
<circle cx="1639.13" cy="823.86" r="4.75"/>
<circle cx="1641.93" cy="823.39" r="4.75"/>
<circle cx="1644.73" cy="823.09" r="4.75"/>
<circle cx="1647.53" cy="822.88" r="4.75"/>
<circle cx="1650.33" cy="822.67" r="4.75"/>
<circle cx="1653.13" cy="822.34" r="4.75"/>
<circle cx="1655.93" cy="821.75" r="4.75"/>
<circle cx="1658.73" cy="820.05" r="4.75"/>
<circle cx="1661.53" cy="816.92" r="4.75"/>
<circle cx="1664.33" cy="812.04" r="4.75"/>
<circle cx="1665.53" cy="810.99" r="4.75"/>
</g>
</g>
<path d="M188.4,56.2v17.5M188.4,418.5v-17.5M265.9,56.2v17.5M265.9,418.5v-17.5M343.3,56.2v17.5M343.3,418.5v-17.5M420.8,56.2v17.5M420.8,418.5v-17.5M147.8,388.3h17.3M462.8,388.3h-17.3M147.8,237.4h17.3M462.8,237.4h-17.3M147.8,86.4h17.3M462.8,86.4h-17.3" stroke="#000" stroke-width="2.5" fill="none"/>
<path d="M157.6,56.2v6.8M157.6,418.5v-6.8M165.1,56.2v6.8M165.1,418.5v-6.8M211.7,56.2v6.8M211.7,418.5v-6.8M225.4,56.2v6.8M225.4,418.5v-6.8M235.0,56.2v6.8M235.0,418.5v-6.8M242.5,56.2v6.8M242.5,418.5v-6.8M289.2,56.2v6.8M289.2,418.5v-6.8M302.8,56.2v6.8M302.8,418.5v-6.8M312.5,56.2v6.8M312.5,418.5v-6.8M320.0,56.2v6.8M320.0,418.5v-6.8M366.7,56.2v6.8M366.7,418.5v-6.8M380.3,56.2v6.8M380.3,418.5v-6.8M390.0,56.2v6.8M390.0,418.5v-6.8M397.5,56.2v6.8M397.5,418.5v-6.8M444.1,56.2v6.8M444.1,418.5v-6.8M457.8,56.2v6.8M457.8,418.5v-6.8M147.8,312.8h7.6M462.8,312.8h-7.6M147.8,161.9h7.6M462.8,161.9h-7.6" stroke="#000" stroke-width="2.2" fill="none"/>
<path d="M478.8,56.2v17.5M478.8,418.5v-17.5M583.8,56.2v17.5M583.8,418.5v-17.5M688.8,56.2v17.5M688.8,418.5v-17.5M462.8,388.3h17.3M777.8,388.3h-17.3M462.8,237.4h17.3M777.8,237.4h-17.3M462.8,86.4h17.3M777.8,86.4h-17.3" stroke="#000" stroke-width="2.5" fill="none"/>
<path d="M494.6,56.2v6.8M494.6,418.5v-6.8M503.9,56.2v6.8M503.9,418.5v-6.8M510.4,56.2v6.8M510.4,418.5v-6.8M515.5,56.2v6.8M515.5,418.5v-6.8M599.6,56.2v6.8M599.6,418.5v-6.8M608.8,56.2v6.8M608.8,418.5v-6.8M615.4,56.2v6.8M615.4,418.5v-6.8M620.5,56.2v6.8M620.5,418.5v-6.8M704.6,56.2v6.8M704.6,418.5v-6.8M713.8,56.2v6.8M713.8,418.5v-6.8M720.4,56.2v6.8M720.4,418.5v-6.8M725.4,56.2v6.8M725.4,418.5v-6.8M462.8,312.8h7.6M777.8,312.8h-7.6M462.8,161.9h7.6M777.8,161.9h-7.6" stroke="#000" stroke-width="2.2" fill="none"/>
<path d="M850.2,56.2v17.5M850.2,418.5v-17.5M958.9,56.2v17.5M958.9,418.5v-17.5M1067.5,56.2v17.5M1067.5,418.5v-17.5M777.8,388.3h17.3M1092.8,388.3h-17.3M777.8,237.4h17.3M1092.8,237.4h-17.3M777.8,86.4h17.3M1092.8,86.4h-17.3" stroke="#000" stroke-width="2.5" fill="none"/>
<path d="M861.1,56.2v6.8M861.1,418.5v-6.8M867.5,56.2v6.8M867.5,418.5v-6.8M872.0,56.2v6.8M872.0,418.5v-6.8M875.5,56.2v6.8M875.5,418.5v-6.8M969.8,56.2v6.8M969.8,418.5v-6.8M976.1,56.2v6.8M976.1,418.5v-6.8M980.7,56.2v6.8M980.7,418.5v-6.8M984.2,56.2v6.8M984.2,418.5v-6.8M1078.4,56.2v6.8M1078.4,418.5v-6.8M1084.8,56.2v6.8M1084.8,418.5v-6.8M1089.3,56.2v6.8M1089.3,418.5v-6.8M777.8,312.8h7.6M1092.8,312.8h-7.6M777.8,161.9h7.6M1092.8,161.9h-7.6" stroke="#000" stroke-width="2.2" fill="none"/>
<path d="M1189.5,56.2v17.5M1189.5,418.5v-17.5M1286.3,56.2v17.5M1286.3,418.5v-17.5M1383.0,56.2v17.5M1383.0,418.5v-17.5M1092.8,388.3h17.3M1407.9,388.3h-17.3M1092.8,237.4h17.3M1407.9,237.4h-17.3M1092.8,86.4h17.3M1407.9,86.4h-17.3" stroke="#000" stroke-width="2.5" fill="none"/>
<path d="M1102.5,56.2v6.8M1102.5,418.5v-6.8M1108.2,56.2v6.8M1108.2,418.5v-6.8M1112.2,56.2v6.8M1112.2,418.5v-6.8M1115.3,56.2v6.8M1115.3,418.5v-6.8M1199.3,56.2v6.8M1199.3,418.5v-6.8M1204.9,56.2v6.8M1204.9,418.5v-6.8M1209.0,56.2v6.8M1209.0,418.5v-6.8M1212.1,56.2v6.8M1212.1,418.5v-6.8M1296.0,56.2v6.8M1296.0,418.5v-6.8M1301.7,56.2v6.8M1301.7,418.5v-6.8M1305.7,56.2v6.8M1305.7,418.5v-6.8M1308.8,56.2v6.8M1308.8,418.5v-6.8M1392.8,56.2v6.8M1392.8,418.5v-6.8M1398.4,56.2v6.8M1398.4,418.5v-6.8M1402.5,56.2v6.8M1402.5,418.5v-6.8M1405.6,56.2v6.8M1405.6,418.5v-6.8M1092.8,312.8h7.6M1407.9,312.8h-7.6M1092.8,161.9h7.6M1407.9,161.9h-7.6" stroke="#000" stroke-width="2.2" fill="none"/>
<path d="M1503.4,56.2v17.5M1503.4,418.5v-17.5M1598.9,56.2v17.5M1598.9,418.5v-17.5M1694.4,56.2v17.5M1694.4,418.5v-17.5M1407.9,388.3h17.3M1722.9,388.3h-17.3M1407.9,237.4h17.3M1722.9,237.4h-17.3M1407.9,86.4h17.3M1722.9,86.4h-17.3" stroke="#000" stroke-width="2.5" fill="none"/>
<path d="M1417.5,56.2v6.8M1417.5,418.5v-6.8M1423.1,56.2v6.8M1423.1,418.5v-6.8M1427.1,56.2v6.8M1427.1,418.5v-6.8M1430.2,56.2v6.8M1430.2,418.5v-6.8M1513.0,56.2v6.8M1513.0,418.5v-6.8M1518.6,56.2v6.8M1518.6,418.5v-6.8M1522.6,56.2v6.8M1522.6,418.5v-6.8M1525.7,56.2v6.8M1525.7,418.5v-6.8M1608.5,56.2v6.8M1608.5,418.5v-6.8M1614.1,56.2v6.8M1614.1,418.5v-6.8M1618.1,56.2v6.8M1618.1,418.5v-6.8M1621.1,56.2v6.8M1621.1,418.5v-6.8M1704.0,56.2v6.8M1704.0,418.5v-6.8M1709.6,56.2v6.8M1709.6,418.5v-6.8M1713.6,56.2v6.8M1713.6,418.5v-6.8M1716.6,56.2v6.8M1716.6,418.5v-6.8M1407.9,312.8h7.6M1722.9,312.8h-7.6M1407.9,161.9h7.6M1722.9,161.9h-7.6" stroke="#000" stroke-width="2.2" fill="none"/>
<path d="M188.4,418.5v17.5M188.4,780.8v-17.5M265.9,418.5v17.5M265.9,780.8v-17.5M343.3,418.5v17.5M343.3,780.8v-17.5M420.8,418.5v17.5M420.8,780.8v-17.5M147.8,750.6h17.3M462.8,750.6h-17.3M147.8,599.7h17.3M462.8,599.7h-17.3M147.8,448.7h17.3M462.8,448.7h-17.3" stroke="#000" stroke-width="2.5" fill="none"/>
<path d="M157.6,418.5v6.8M157.6,780.8v-6.8M165.1,418.5v6.8M165.1,780.8v-6.8M211.7,418.5v6.8M211.7,780.8v-6.8M225.4,418.5v6.8M225.4,780.8v-6.8M235.0,418.5v6.8M235.0,780.8v-6.8M242.5,418.5v6.8M242.5,780.8v-6.8M289.2,418.5v6.8M289.2,780.8v-6.8M302.8,418.5v6.8M302.8,780.8v-6.8M312.5,418.5v6.8M312.5,780.8v-6.8M320.0,418.5v6.8M320.0,780.8v-6.8M366.7,418.5v6.8M366.7,780.8v-6.8M380.3,418.5v6.8M380.3,780.8v-6.8M390.0,418.5v6.8M390.0,780.8v-6.8M397.5,418.5v6.8M397.5,780.8v-6.8M444.1,418.5v6.8M444.1,780.8v-6.8M457.8,418.5v6.8M457.8,780.8v-6.8M147.8,675.1h7.6M462.8,675.1h-7.6M147.8,524.2h7.6M462.8,524.2h-7.6" stroke="#000" stroke-width="2.2" fill="none"/>
<path d="M478.8,418.5v17.5M478.8,780.8v-17.5M583.8,418.5v17.5M583.8,780.8v-17.5M688.8,418.5v17.5M688.8,780.8v-17.5M462.8,750.6h17.3M777.8,750.6h-17.3M462.8,599.7h17.3M777.8,599.7h-17.3M462.8,448.7h17.3M777.8,448.7h-17.3" stroke="#000" stroke-width="2.5" fill="none"/>
<path d="M494.6,418.5v6.8M494.6,780.8v-6.8M503.9,418.5v6.8M503.9,780.8v-6.8M510.4,418.5v6.8M510.4,780.8v-6.8M515.5,418.5v6.8M515.5,780.8v-6.8M599.6,418.5v6.8M599.6,780.8v-6.8M608.8,418.5v6.8M608.8,780.8v-6.8M615.4,418.5v6.8M615.4,780.8v-6.8M620.5,418.5v6.8M620.5,780.8v-6.8M704.6,418.5v6.8M704.6,780.8v-6.8M713.8,418.5v6.8M713.8,780.8v-6.8M720.4,418.5v6.8M720.4,780.8v-6.8M725.4,418.5v6.8M725.4,780.8v-6.8M462.8,675.1h7.6M777.8,675.1h-7.6M462.8,524.2h7.6M777.8,524.2h-7.6" stroke="#000" stroke-width="2.2" fill="none"/>
<path d="M850.2,418.5v17.5M850.2,780.8v-17.5M958.9,418.5v17.5M958.9,780.8v-17.5M1067.5,418.5v17.5M1067.5,780.8v-17.5M777.8,750.6h17.3M1092.8,750.6h-17.3M777.8,599.7h17.3M1092.8,599.7h-17.3M777.8,448.7h17.3M1092.8,448.7h-17.3" stroke="#000" stroke-width="2.5" fill="none"/>
<path d="M861.1,418.5v6.8M861.1,780.8v-6.8M867.5,418.5v6.8M867.5,780.8v-6.8M872.0,418.5v6.8M872.0,780.8v-6.8M875.5,418.5v6.8M875.5,780.8v-6.8M969.8,418.5v6.8M969.8,780.8v-6.8M976.1,418.5v6.8M976.1,780.8v-6.8M980.7,418.5v6.8M980.7,780.8v-6.8M984.2,418.5v6.8M984.2,780.8v-6.8M1078.4,418.5v6.8M1078.4,780.8v-6.8M1084.8,418.5v6.8M1084.8,780.8v-6.8M1089.3,418.5v6.8M1089.3,780.8v-6.8M777.8,675.1h7.6M1092.8,675.1h-7.6M777.8,524.2h7.6M1092.8,524.2h-7.6" stroke="#000" stroke-width="2.2" fill="none"/>
<path d="M1189.5,418.5v17.5M1189.5,780.8v-17.5M1286.3,418.5v17.5M1286.3,780.8v-17.5M1383.0,418.5v17.5M1383.0,780.8v-17.5M1092.8,750.6h17.3M1407.9,750.6h-17.3M1092.8,599.7h17.3M1407.9,599.7h-17.3M1092.8,448.7h17.3M1407.9,448.7h-17.3" stroke="#000" stroke-width="2.5" fill="none"/>
<path d="M1102.5,418.5v6.8M1102.5,780.8v-6.8M1108.2,418.5v6.8M1108.2,780.8v-6.8M1112.2,418.5v6.8M1112.2,780.8v-6.8M1115.3,418.5v6.8M1115.3,780.8v-6.8M1199.3,418.5v6.8M1199.3,780.8v-6.8M1204.9,418.5v6.8M1204.9,780.8v-6.8M1209.0,418.5v6.8M1209.0,780.8v-6.8M1212.1,418.5v6.8M1212.1,780.8v-6.8M1296.0,418.5v6.8M1296.0,780.8v-6.8M1301.7,418.5v6.8M1301.7,780.8v-6.8M1305.7,418.5v6.8M1305.7,780.8v-6.8M1308.8,418.5v6.8M1308.8,780.8v-6.8M1392.8,418.5v6.8M1392.8,780.8v-6.8M1398.4,418.5v6.8M1398.4,780.8v-6.8M1402.5,418.5v6.8M1402.5,780.8v-6.8M1405.6,418.5v6.8M1405.6,780.8v-6.8M1092.8,675.1h7.6M1407.9,675.1h-7.6M1092.8,524.2h7.6M1407.9,524.2h-7.6" stroke="#000" stroke-width="2.2" fill="none"/>
<path d="M1503.4,418.5v17.5M1503.4,780.8v-17.5M1598.9,418.5v17.5M1598.9,780.8v-17.5M1694.4,418.5v17.5M1694.4,780.8v-17.5M1407.9,750.6h17.3M1722.9,750.6h-17.3M1407.9,599.7h17.3M1722.9,599.7h-17.3M1407.9,448.7h17.3M1722.9,448.7h-17.3" stroke="#000" stroke-width="2.5" fill="none"/>
<path d="M1417.5,418.5v6.8M1417.5,780.8v-6.8M1423.1,418.5v6.8M1423.1,780.8v-6.8M1427.1,418.5v6.8M1427.1,780.8v-6.8M1430.2,418.5v6.8M1430.2,780.8v-6.8M1513.0,418.5v6.8M1513.0,780.8v-6.8M1518.6,418.5v6.8M1518.6,780.8v-6.8M1522.6,418.5v6.8M1522.6,780.8v-6.8M1525.7,418.5v6.8M1525.7,780.8v-6.8M1608.5,418.5v6.8M1608.5,780.8v-6.8M1614.1,418.5v6.8M1614.1,780.8v-6.8M1618.1,418.5v6.8M1618.1,780.8v-6.8M1621.1,418.5v6.8M1621.1,780.8v-6.8M1704.0,418.5v6.8M1704.0,780.8v-6.8M1709.6,418.5v6.8M1709.6,780.8v-6.8M1713.6,418.5v6.8M1713.6,780.8v-6.8M1716.6,418.5v6.8M1716.6,780.8v-6.8M1407.9,675.1h7.6M1722.9,675.1h-7.6M1407.9,524.2h7.6M1722.9,524.2h-7.6" stroke="#000" stroke-width="2.2" fill="none"/>
<path d="M188.4,780.8v17.5M188.4,1143.1v-17.5M265.9,780.8v17.5M265.9,1143.1v-17.5M343.3,780.8v17.5M343.3,1143.1v-17.5M420.8,780.8v17.5M420.8,1143.1v-17.5M147.8,1112.9h17.3M462.8,1112.9h-17.3M147.8,962.0h17.3M462.8,962.0h-17.3M147.8,811.0h17.3M462.8,811.0h-17.3" stroke="#000" stroke-width="2.5" fill="none"/>
<path d="M157.6,780.8v6.8M157.6,1143.1v-6.8M165.1,780.8v6.8M165.1,1143.1v-6.8M211.7,780.8v6.8M211.7,1143.1v-6.8M225.4,780.8v6.8M225.4,1143.1v-6.8M235.0,780.8v6.8M235.0,1143.1v-6.8M242.5,780.8v6.8M242.5,1143.1v-6.8M289.2,780.8v6.8M289.2,1143.1v-6.8M302.8,780.8v6.8M302.8,1143.1v-6.8M312.5,780.8v6.8M312.5,1143.1v-6.8M320.0,780.8v6.8M320.0,1143.1v-6.8M366.7,780.8v6.8M366.7,1143.1v-6.8M380.3,780.8v6.8M380.3,1143.1v-6.8M390.0,780.8v6.8M390.0,1143.1v-6.8M397.5,780.8v6.8M397.5,1143.1v-6.8M444.1,780.8v6.8M444.1,1143.1v-6.8M457.8,780.8v6.8M457.8,1143.1v-6.8M147.8,1037.4h7.6M462.8,1037.4h-7.6M147.8,886.5h7.6M462.8,886.5h-7.6" stroke="#000" stroke-width="2.2" fill="none"/>
<path d="M478.8,780.8v17.5M478.8,1143.1v-17.5M583.8,780.8v17.5M583.8,1143.1v-17.5M688.8,780.8v17.5M688.8,1143.1v-17.5M462.8,1112.9h17.3M777.8,1112.9h-17.3M462.8,962.0h17.3M777.8,962.0h-17.3M462.8,811.0h17.3M777.8,811.0h-17.3" stroke="#000" stroke-width="2.5" fill="none"/>
<path d="M494.6,780.8v6.8M494.6,1143.1v-6.8M503.9,780.8v6.8M503.9,1143.1v-6.8M510.4,780.8v6.8M510.4,1143.1v-6.8M515.5,780.8v6.8M515.5,1143.1v-6.8M599.6,780.8v6.8M599.6,1143.1v-6.8M608.8,780.8v6.8M608.8,1143.1v-6.8M615.4,780.8v6.8M615.4,1143.1v-6.8M620.5,780.8v6.8M620.5,1143.1v-6.8M704.6,780.8v6.8M704.6,1143.1v-6.8M713.8,780.8v6.8M713.8,1143.1v-6.8M720.4,780.8v6.8M720.4,1143.1v-6.8M725.4,780.8v6.8M725.4,1143.1v-6.8M462.8,1037.4h7.6M777.8,1037.4h-7.6M462.8,886.5h7.6M777.8,886.5h-7.6" stroke="#000" stroke-width="2.2" fill="none"/>
<path d="M814.0,780.8v17.5M814.0,1143.1v-17.5M886.4,780.8v17.5M886.4,1143.1v-17.5M958.9,780.8v17.5M958.9,1143.1v-17.5M1031.3,780.8v17.5M1031.3,1143.1v-17.5M777.8,1112.9h17.3M1092.8,1112.9h-17.3M777.8,962.0h17.3M1092.8,962.0h-17.3M777.8,811.0h17.3M1092.8,811.0h-17.3" stroke="#000" stroke-width="2.5" fill="none"/>
<path d="M824.9,780.8v6.8M824.9,1143.1v-6.8M831.3,780.8v6.8M831.3,1143.1v-6.8M835.8,780.8v6.8M835.8,1143.1v-6.8M839.3,780.8v6.8M839.3,1143.1v-6.8M897.3,780.8v6.8M897.3,1143.1v-6.8M903.7,780.8v6.8M903.7,1143.1v-6.8M908.2,780.8v6.8M908.2,1143.1v-6.8M911.7,780.8v6.8M911.7,1143.1v-6.8M969.8,780.8v6.8M969.8,1143.1v-6.8M976.1,780.8v6.8M976.1,1143.1v-6.8M980.7,780.8v6.8M980.7,1143.1v-6.8M984.2,780.8v6.8M984.2,1143.1v-6.8M1042.2,780.8v6.8M1042.2,1143.1v-6.8M1048.5,780.8v6.8M1048.5,1143.1v-6.8M1053.1,780.8v6.8M1053.1,1143.1v-6.8M1056.6,780.8v6.8M1056.6,1143.1v-6.8M777.8,1037.4h7.6M1092.8,1037.4h-7.6M777.8,886.5h7.6M1092.8,886.5h-7.6" stroke="#000" stroke-width="2.2" fill="none"/>
<path d="M1157.3,780.8v17.5M1157.3,1143.1v-17.5M1221.8,780.8v17.5M1221.8,1143.1v-17.5M1286.3,780.8v17.5M1286.3,1143.1v-17.5M1350.8,780.8v17.5M1350.8,1143.1v-17.5M1092.8,1112.9h17.3M1407.9,1112.9h-17.3M1092.8,962.0h17.3M1407.9,962.0h-17.3M1092.8,811.0h17.3M1407.9,811.0h-17.3" stroke="#000" stroke-width="2.5" fill="none"/>
<path d="M1102.5,780.8v6.8M1102.5,1143.1v-6.8M1108.2,780.8v6.8M1108.2,1143.1v-6.8M1112.2,780.8v6.8M1112.2,1143.1v-6.8M1115.3,780.8v6.8M1115.3,1143.1v-6.8M1167.0,780.8v6.8M1167.0,1143.1v-6.8M1172.7,780.8v6.8M1172.7,1143.1v-6.8M1176.7,780.8v6.8M1176.7,1143.1v-6.8M1179.8,780.8v6.8M1179.8,1143.1v-6.8M1231.5,780.8v6.8M1231.5,1143.1v-6.8M1237.2,780.8v6.8M1237.2,1143.1v-6.8M1241.2,780.8v6.8M1241.2,1143.1v-6.8M1244.3,780.8v6.8M1244.3,1143.1v-6.8M1296.0,780.8v6.8M1296.0,1143.1v-6.8M1301.7,780.8v6.8M1301.7,1143.1v-6.8M1305.7,780.8v6.8M1305.7,1143.1v-6.8M1308.8,780.8v6.8M1308.8,1143.1v-6.8M1360.5,780.8v6.8M1360.5,1143.1v-6.8M1366.2,780.8v6.8M1366.2,1143.1v-6.8M1370.2,780.8v6.8M1370.2,1143.1v-6.8M1373.3,780.8v6.8M1373.3,1143.1v-6.8M1092.8,1037.4h7.6M1407.9,1037.4h-7.6M1092.8,886.5h7.6M1407.9,886.5h-7.6" stroke="#000" stroke-width="2.2" fill="none"/>
<path d="M1503.4,780.8v17.5M1503.4,1143.1v-17.5M1598.9,780.8v17.5M1598.9,1143.1v-17.5M1694.4,780.8v17.5M1694.4,1143.1v-17.5M1407.9,1112.9h17.3M1722.9,1112.9h-17.3M1407.9,962.0h17.3M1722.9,962.0h-17.3M1407.9,811.0h17.3M1722.9,811.0h-17.3" stroke="#000" stroke-width="2.5" fill="none"/>
<path d="M1417.5,780.8v6.8M1417.5,1143.1v-6.8M1423.1,780.8v6.8M1423.1,1143.1v-6.8M1427.1,780.8v6.8M1427.1,1143.1v-6.8M1430.2,780.8v6.8M1430.2,1143.1v-6.8M1513.0,780.8v6.8M1513.0,1143.1v-6.8M1518.6,780.8v6.8M1518.6,1143.1v-6.8M1522.6,780.8v6.8M1522.6,1143.1v-6.8M1525.7,780.8v6.8M1525.7,1143.1v-6.8M1608.5,780.8v6.8M1608.5,1143.1v-6.8M1614.1,780.8v6.8M1614.1,1143.1v-6.8M1618.1,780.8v6.8M1618.1,1143.1v-6.8M1621.1,780.8v6.8M1621.1,1143.1v-6.8M1704.0,780.8v6.8M1704.0,1143.1v-6.8M1709.6,780.8v6.8M1709.6,1143.1v-6.8M1713.6,780.8v6.8M1713.6,1143.1v-6.8M1716.6,780.8v6.8M1716.6,1143.1v-6.8M1407.9,1037.4h7.6M1722.9,1037.4h-7.6M1407.9,886.5h7.6M1722.9,886.5h-7.6" stroke="#000" stroke-width="2.2" fill="none"/>
<path d="M147.8,56.2V1143.1M462.8,56.2V1143.1M777.8,56.2V1143.1M1092.8,56.2V1143.1M1407.9,56.2V1143.1M1722.9,56.2V1143.1M147.8,56.2H1722.9M147.8,418.5H1722.9M147.8,780.8H1722.9M147.8,1143.1H1722.9" stroke="#000" stroke-width="2.6" fill="none" stroke-linecap="square"/>
<g font-family="'Liberation Serif', 'DejaVu Serif', serif" fill="#000">
<text x="305.3" y="39.2" font-size="56" text-anchor="middle">α = 1.5</text>
<text x="620.3" y="39.2" font-size="56" text-anchor="middle">α = 2</text>
<text x="935.3" y="39.2" font-size="56" text-anchor="middle">α = 3</text>
<text x="1250.3" y="39.2" font-size="56" text-anchor="middle">α = 4.5</text>
<text x="1565.4" y="39.2" font-size="56" text-anchor="middle">α = 7</text>
<text x="133" y="403.9" font-size="46" text-anchor="end">0</text>
<text x="133" y="253.0" font-size="46" text-anchor="end">0.5</text>
<text x="133" y="102.0" font-size="46" text-anchor="end">1</text>
<text x="133" y="766.2" font-size="46" text-anchor="end">0</text>
<text x="133" y="615.3" font-size="46" text-anchor="end">0.5</text>
<text x="133" y="464.3" font-size="46" text-anchor="end">1</text>
<text x="133" y="1128.5" font-size="46" text-anchor="end">0</text>
<text x="133" y="977.6" font-size="46" text-anchor="end">0.5</text>
<text x="133" y="826.6" font-size="46" text-anchor="end">1</text>
<text x="173.8" y="1207.5" font-size="46" text-anchor="middle">10<tspan dy="-26.5" font-size="33">0</tspan></text>
<text x="328.7" y="1207.5" font-size="46" text-anchor="middle">10<tspan dy="-26.5" font-size="33">2</tspan></text>
<text x="479.6" y="1207.5" font-size="46" text-anchor="middle">10<tspan dy="-26.5" font-size="33">-2</tspan></text>
<text x="689.6" y="1207.5" font-size="46" text-anchor="middle">10<tspan dy="-26.5" font-size="33">2</tspan></text>
<text x="799.4" y="1207.5" font-size="46" text-anchor="middle">10<tspan dy="-26.5" font-size="33">-4</tspan></text>
<text x="1016.7" y="1207.5" font-size="46" text-anchor="middle">10<tspan dy="-26.5" font-size="33">2</tspan></text>
<text x="1142.7" y="1207.5" font-size="46" text-anchor="middle">10<tspan dy="-26.5" font-size="33">-4</tspan></text>
<text x="1336.2" y="1207.5" font-size="46" text-anchor="middle">10<tspan dy="-26.5" font-size="33">2</tspan></text>
<text x="1488.8" y="1207.5" font-size="46" text-anchor="middle">10<tspan dy="-26.5" font-size="33">-3</tspan></text>
<text x="1679.8" y="1207.5" font-size="46" text-anchor="middle">10<tspan dy="-26.5" font-size="33">3</tspan></text>
<text x="273.3" y="1265.5" font-size="55"><tspan font-family="'Noto Sans CJK JP', 'Noto Sans CJK SC', 'DejaVu Serif', sans-serif" font-size="52" dx="-30.5" dy="2.7">〈</tspan><tspan dx="-2.6" dy="-2.7">k</tspan><tspan font-family="'Noto Sans CJK JP', 'Noto Sans CJK SC', 'DejaVu Serif', sans-serif" font-size="52" dx="-2.7" dy="2.7">〉</tspan></text>
<text x="588.3" y="1265.5" font-size="55"><tspan font-family="'Noto Sans CJK JP', 'Noto Sans CJK SC', 'DejaVu Serif', sans-serif" font-size="52" dx="-30.5" dy="2.7">〈</tspan><tspan dx="-2.6" dy="-2.7">k</tspan><tspan font-family="'Noto Sans CJK JP', 'Noto Sans CJK SC', 'DejaVu Serif', sans-serif" font-size="52" dx="-2.7" dy="2.7">〉</tspan></text>
<text x="903.3" y="1265.5" font-size="55"><tspan font-family="'Noto Sans CJK JP', 'Noto Sans CJK SC', 'DejaVu Serif', sans-serif" font-size="52" dx="-30.5" dy="2.7">〈</tspan><tspan dx="-2.6" dy="-2.7">k</tspan><tspan font-family="'Noto Sans CJK JP', 'Noto Sans CJK SC', 'DejaVu Serif', sans-serif" font-size="52" dx="-2.7" dy="2.7">〉</tspan></text>
<text x="1218.3" y="1265.5" font-size="55"><tspan font-family="'Noto Sans CJK JP', 'Noto Sans CJK SC', 'DejaVu Serif', sans-serif" font-size="52" dx="-30.5" dy="2.7">〈</tspan><tspan dx="-2.6" dy="-2.7">k</tspan><tspan font-family="'Noto Sans CJK JP', 'Noto Sans CJK SC', 'DejaVu Serif', sans-serif" font-size="52" dx="-2.7" dy="2.7">〉</tspan></text>
<text x="1533.4" y="1265.5" font-size="55"><tspan font-family="'Noto Sans CJK JP', 'Noto Sans CJK SC', 'DejaVu Serif', sans-serif" font-size="52" dx="-30.5" dy="2.7">〈</tspan><tspan dx="-2.6" dy="-2.7">k</tspan><tspan font-family="'Noto Sans CJK JP', 'Noto Sans CJK SC', 'DejaVu Serif', sans-serif" font-size="52" dx="-2.7" dy="2.7">〉</tspan></text>
<text transform="translate(41.0,343.0) rotate(-90)" x="0" y="0" font-size="55"><tspan font-family="'Noto Sans CJK JP', 'Noto Sans CJK SC', 'DejaVu Serif', sans-serif" font-size="52" dx="-30.5" dy="2.7">〈</tspan><tspan dx="-2.6" dy="-2.7">V</tspan><tspan font-size="38" dy="22">x</tspan><tspan dy="-22">(G)</tspan><tspan font-family="'Noto Sans CJK JP', 'Noto Sans CJK SC', 'DejaVu Serif', sans-serif" font-size="52" dx="-2.7" dy="2.7">〉</tspan><tspan dx="-30.5" dy="-2.7">/n</tspan></text>
<text transform="translate(53.7,734.0) rotate(-90)" x="0" y="0" font-size="55"><tspan font-family="'Noto Sans CJK JP', 'Noto Sans CJK SC', 'DejaVu Serif', sans-serif" font-size="52" dx="-30.5" dy="2.7">〈</tspan><tspan dx="-2.6" dy="-2.7">R(G)</tspan><tspan font-family="'Noto Sans CJK JP', 'Noto Sans CJK SC', 'DejaVu Serif', sans-serif" font-size="52" dx="-2.7" dy="2.7">〉</tspan><tspan dx="-30.5" dy="-2.7">/(n/2)</tspan></text>
<text transform="translate(53.7,1097.8) rotate(-90)" x="0" y="0" font-size="55"><tspan font-family="'Noto Sans CJK JP', 'Noto Sans CJK SC', 'DejaVu Serif', sans-serif" font-size="52" dx="-30.5" dy="2.7">〈</tspan><tspan dx="-2.6" dy="-2.7">H(G)</tspan><tspan font-family="'Noto Sans CJK JP', 'Noto Sans CJK SC', 'DejaVu Serif', sans-serif" font-size="52" dx="-2.7" dy="2.7">〉</tspan><tspan dx="-30.5" dy="-2.7">/(n/2)</tspan></text>
<text x="386.0" y="368.3" font-size="55">(a)</text>
<text x="693.9" y="368.3" font-size="55">(b)</text>
<text x="1005.7" y="368.3" font-size="55">(c)</text>
<text x="1325.8" y="368.3" font-size="55">(d)</text>
<text x="1647.6" y="368.3" font-size="55">(e)</text>
<text x="386.0" y="718.2" font-size="55">(f)</text>
<text x="693.9" y="718.2" font-size="55">(g)</text>
<text x="1005.7" y="718.2" font-size="55">(h)</text>
<text x="1325.8" y="718.2" font-size="55">(i)</text>
<text x="1647.6" y="718.2" font-size="55">(j)</text>
<text x="386.0" y="1060.2" font-size="55">(k)</text>
<text x="693.9" y="1060.2" font-size="55">(l)</text>
<text x="1005.7" y="1060.2" font-size="55">(m)</text>
<text x="1325.8" y="1060.2" font-size="55">(n)</text>
<text x="1647.6" y="1060.2" font-size="55">(o)</text>
</g>
<path d="M185.3,249.6H201.4" stroke="#0000ff" stroke-width="2.5"/>
<circle cx="185.3" cy="249.6" r="4.75" fill="none" stroke="#0000ff" stroke-width="2.7"/>
<circle cx="201.4" cy="249.6" r="4.75" fill="none" stroke="#0000ff" stroke-width="2.7"/>
<text x="221.7" y="261.4" font-family="'Liberation Serif', 'DejaVu Serif', serif" font-size="35">n=125</text>
<path d="M185.3,290.1H201.4" stroke="#00ff00" stroke-width="2.5"/>
<path d="M185.30,284.60L180.65,292.80L189.95,292.80Z" fill="none" stroke="#00ff00" stroke-width="2.6"/>
<path d="M201.40,284.60L196.75,292.80L206.05,292.80Z" fill="none" stroke="#00ff00" stroke-width="2.6"/>
<text x="221.7" y="302.2" font-family="'Liberation Serif', 'DejaVu Serif', serif" font-size="35">n=250</text>
<path d="M185.3,330.6H201.4" stroke="#ff0000" stroke-width="2.5"/>
<path d="M181.20,326.50h8.2v8.2h-8.2Z" fill="none" stroke="#ff0000" stroke-width="2.55"/>
<path d="M197.30,326.50h8.2v8.2h-8.2Z" fill="none" stroke="#ff0000" stroke-width="2.55"/>
<text x="221.7" y="342.4" font-family="'Liberation Serif', 'DejaVu Serif', serif" font-size="35">n=500</text>
<path d="M185.3,371.0H201.4" stroke="#000000" stroke-width="2.5"/>
<path d="M185.30,365.50L180.65,373.70L189.95,373.70Z" fill="none" stroke="#000000" stroke-width="2.6"/>
<path d="M201.40,365.50L196.75,373.70L206.05,373.70Z" fill="none" stroke="#000000" stroke-width="2.6"/>
<text x="221.7" y="383.2" font-family="'Liberation Serif', 'DejaVu Serif', serif" font-size="35">n=1000</text>
</svg></body></html>
